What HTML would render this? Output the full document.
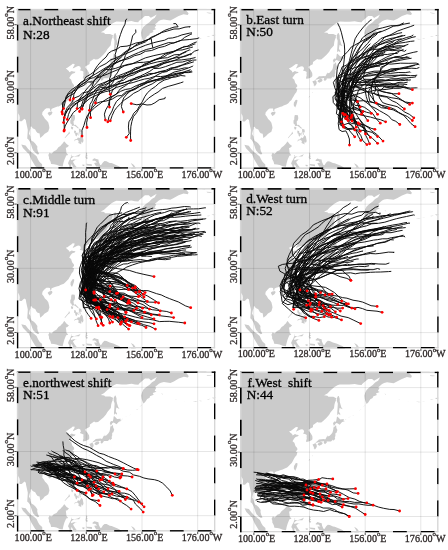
<!DOCTYPE html>
<html><head><meta charset="utf-8"><style>
html,body{margin:0;padding:0;background:#fff;}
svg{display:block;}
.lb{font-family:"Liberation Serif",serif;font-size:10.1px;fill:#2e2828;stroke:#2e2828;stroke-width:0.3px;}
.dg{font-size:6.8px;}
.tt{font-family:"Liberation Serif",serif;font-size:12.9px;fill:#000;stroke:#000;stroke-width:0.3px;}
</style></head><body>
<svg width="448" height="550" viewBox="0 0 448 550">
<rect width="448" height="550" fill="#fff"/>
<g transform="translate(16.7,8.7)"><svg x="0" y="0" width="198.7" height="160.1" viewBox="0 0 198.7 160.1" overflow="hidden"><rect width="198.7" height="160.1" fill="#fff"/><path d="M0,0 0,102.2 1.2,104.3 2.6,106.6 3,109.1 2.6,112.1 3.6,112.5 5,112.5 6.4,111.2 7.7,110 9.1,111.2 9.5,113.9 10.3,117.6 11.1,121.2 10.9,124.6 10.5,129.9 11.7,130.8 13.5,133.6 14.5,136.3 15.5,139.5 16.5,141.8 18.5,143.9 20.9,145.7 22.5,145.2 21.1,142.3 20.5,139.7 20.7,137.7 18.5,134.7 16.5,132.9 14.9,132.2 13.9,129.5 13.7,127.6 12.3,125.1 13.1,121.7 13.8,119.8 13.9,118 14.9,117.8 15.9,119.6 18.5,120.8 19.7,123 20.9,124.4 22.9,124.9 23.4,129 24.2,128.8 26.4,126.9 28,125 29.8,124 31.6,122.8 32.2,120.8 32.7,119.2 32.4,117.1 31.6,113.9 30.2,112 28.2,110 27,108 25.4,105.9 25.8,103.4 27,102 28.2,100.6 29.8,99.5 32,99.5 33.2,99.7 33.6,102.2 34.4,102.2 34.8,100.2 36.2,99.5 38.2,98.8 40.7,97.9 42.1,97.7 43.7,96.7 47.1,95.4 48.7,94 49.9,92.6 51.7,91 52.7,89.2 53.6,87.6 55,85.1 56.6,83.3 57.4,80.3 55.6,79.4 57.4,77.8 57.2,76.2 55.4,74.1 54.4,70.9 52.5,69.3 54.2,66.6 55.6,65 58,64.3 58.8,63.1 56.6,62.9 55,62.2 52.7,63.6 52.1,62.2 50.1,60.6 49.1,59.5 50.7,59 52.7,57.6 54.6,56.3 56,55.1 58,55.3 57.4,57.2 56.6,58.3 56,59.9 58.2,58.8 60.6,57.6 62.2,57.4 63.6,58.1 64.2,60.2 63,61.5 65.6,62.4 66.8,63 66.6,65.2 66.8,66.8 66.2,68.6 66.2,70 68.6,69.5 70.5,68.8 71.5,68.4 72.3,67.5 72.5,66.3 72.3,64 70.7,61.3 68.6,58.8 68.8,57.6 70.9,56.5 72.9,55.3 73.1,53.1 74.9,51.9 77.3,50.1 78.5,50.8 79.3,50.8 81.3,50.5 83.7,48.7 86.6,46 89.2,43 90.6,40.5 94,36.6 94.4,33.2 95,30.9 96,28.6 95.8,27.7 96.6,26.8 93.4,25.2 90.8,25.2 88.4,25.2 87.4,24 84.1,23.6 87.4,21.7 89.8,19.4 94.4,15.6 97.4,13.7 99.7,12.8 105.3,13 109.3,13 114.8,12.4 118.2,13.3 121.6,13.5 122.2,12.4 124.2,10.7 128.2,7.3 132.1,7.3 134.1,9.1 136.1,8 140.1,5.7 139.1,7.3 138.1,9.1 135.1,11 132.7,13.5 129.2,16 126.6,18.3 125.2,21 124.4,24 124.8,27.4 125.6,29.7 126.6,32.2 128.2,30.9 130.3,27.7 132.7,26.3 133.1,24.9 136.9,23.3 135.9,21.7 139.7,20.4 137.9,19.4 139.5,16.5 138.1,15.8 140.1,14.2 142.1,12.4 144.1,11.4 147,10.7 153.6,11.7 157,10.1 161.9,7.3 166.9,5.5 171.1,6.2 171.9,4.6 169.9,2.3 167.9,0.7 169.9,0.9 172.5,0ZM177.8,0 182,0.5 184.8,0.9 188,1.4 189.2,0.7 190,0ZM97.4,43.5 97.2,41.2 97.4,38.9 97.6,35.5 97.8,32 96.8,29 97,26.3 98,24.5 98.8,24.2 99.7,27 99.7,29.7 100.3,32 101.3,35.5 102.7,37.5 99.5,36.1 99,40 100.3,42.3 100.1,43.5 98.8,42.1ZM97.2,44.6 98.4,45.7 100.3,47.6 103.9,47.3 103.5,48.9 104.9,49.4 102.1,50.3 99.7,52.8 97.8,51.7 96.6,51.2 95.4,51.9 94.8,53.1 93.8,54 93.4,52.6 93,51.5 94.2,49.6 96,49.9 96.6,47.3 96.8,45.7ZM95.2,53.7 96.2,54 96.4,56 97.4,58.1 96.4,61.1 95.4,61.3 95.4,64 94.8,65.6 95.2,67 93.2,68.8 93,67.5 92.6,68.2 91,69.5 89.8,69.5 87.4,69.5 86.6,69.3 87,70.2 85,72.3 83.7,70.9 84.2,69.5 83.9,69.3 81.5,69.5 78.5,70.2 75.3,71 76.5,69.8 78.5,68.2 78.9,67.5 81.5,67.4 84.1,67 85,67.5 85.6,67 86.6,65.2 88,62.9 87.4,64.5 89.4,64 91.4,62 92.6,60.4 93.2,57.9 93.4,56 94,54.4 94.8,55.1ZM77.5,72.5 79.3,73.9 81.9,72.6 82.7,71.4 82.1,70.2 80.5,70 79.3,70.7 78.3,71.4ZM75.3,71.1 76.5,72.5 76.9,74.3 76.3,75.7 74.8,77.8 74.5,76.4 73.9,77.1 73.9,75.2 73.1,73.9 72.5,72.5 74.3,71.8ZM56.6,90.8 57.6,91.5 57.2,93.8 56.4,96.1 55.3,98.6 54.2,97.2 53.8,96.1 54,93.8 55,92.4 55.6,91.3ZM31,104.8 32.4,106.8 32.8,107 34.8,105.7 35.8,103.8 35.2,102.7 34.4,102.8 32.4,103.2 31.2,104.1ZM54.8,106.4 55.6,106.1 58,106.4 58.4,109.3 57.8,111.6 56.8,112.5 57,115 57.6,116.4 59,116 60,117.3 61.8,118.9 61.6,120.1 60.2,118.9 58.6,117.6 57.2,116.9 55.6,117.3 54.8,116.2 55.4,115.3 54.4,115.5 53.6,114.4 53.6,111.6 54.4,110.7 54.4,108.6ZM54.2,117.8 56.6,118.5 56,120.8 54.6,120.3ZM57.6,121.7 59.4,122.4 58.8,124.6 57.6,124.6 57.4,122.6ZM59.6,123.7 60.6,124.6 60,127.9 58.8,126.9 58.4,124.6ZM61.4,123 61.8,124.9 60.4,126.7 60.8,124.6ZM61.6,125.6 62.8,126.3 61.4,126.7ZM62.2,119.8 64.6,120.8 65,123.5 63.6,123 64,125.8 63.2,125.8 62.2,122.4ZM52.3,122.6 53.3,124.6 51.3,126.3 48.3,129.5 47.9,129.2 49.7,126.9 51.9,124.4ZM57.6,132.9 58,130.8 60.2,130.4 61.2,128.8 63,129.2 64.6,126.3 66,127.6 66.8,132 66,134.3 64.8,132.7 64.4,135.9 64,135.2 61.6,134.3 62,132.2 60.6,131.1 58.6,131.5ZM47.7,132.7 49.9,135.4 52.3,137 50.3,138.8 49.1,139.1 49.5,141.8 49.7,144.1 51.5,146.4 49.5,146.8 48.7,148.7 47.7,151 46.7,154.4 46.1,157.4 45.7,157.8 42.9,157.4 39.7,156 37.2,155.5 34.4,155.3 33.8,152.8 32.2,149.8 32.4,148.7 31.6,146.4 33,143.9 34.4,145 36.4,143.6 36.8,142.7 39.7,141.3 41.7,138.6 43.7,137.2 44.7,136.1 45.9,134.9 47.3,132.9ZM4.6,135.9 8.9,136.8 11.3,140 14.7,143.6 16.9,145 19.9,147.5 21.5,151 22.9,153.2 25.4,155.5 25.6,160.6 22.3,160.6 18.5,157.4 14.6,150.8 11.9,144.5 11.5,144.8 6.2,139.3ZM64,145 62.4,147.7 59.6,147.7 56.6,147.5 54.8,147.5 54,146.6 55.2,145.9 54,148.7 53.3,150.5 52.3,152.1 51.3,154.6 52.5,156.7 52.9,159 52.5,160.6 54.4,160.6 54.4,156.7 54.8,155.3 56.2,157.8 56.6,159.4 59.2,160.6 59.8,158.3 58,156 56.2,153 58.6,151 60.6,150.7 57,150.7 54.2,151.6 54.4,149.8 56.6,148 60.6,146.8 62.8,145.9ZM69.5,143.6 70.7,145.2 69.9,146.1 71.1,147.3 69.5,148 71.3,149.4 69.9,150.5 68.8,148.7 69.1,146.4ZM69.5,155.1 75.1,155.5 75.1,157.4 70.5,156.7ZM65.6,155.8 68,156 67.4,157.6 65.8,157.1ZM75.5,151.4 77.5,149.6 79.5,150.3 81.7,150.7 82.1,153.2 83.5,156.2 84.4,156.4 86.2,153.7 87.8,152.3 89.8,152.6 93,154.2 94.8,154.4 97.2,155.3 100.3,156.7 102.3,157.6 104.3,159 105.1,160.6 84.4,160.6 81.5,157.8 79.5,157.8 77.9,155.3 77.5,154.2 79.5,153.9 80.5,154.2 78.5,152.1 76.1,152.1ZM114.3,154.4 117.2,156.2 119.2,159.2 118.6,160.6 116.8,158.5 114.8,155.5ZM109.7,160.6 112.3,160.1 113.7,160.6 116.2,158.3 117.8,158.5 117.8,160.6ZM68.8,89 70.1,87.4 69.5,87.1 68.9,88.1ZM71.9,84.4 72.9,83.5 72.3,83.5ZM144.5,22.2 146.2,23.6 145.2,22.2ZM189.8,3.7 193.7,4.1 195.3,4.6 192.7,4.8 190.4,4.3ZM104.3,48.7 106.5,47.1 105.3,47.6ZM107.1,46.2 111.1,44.6 109.3,45.3ZM112.3,43.9 114.3,43 113.3,43.7ZM116.2,41.6 117.8,40.7 117,41.2ZM119.2,38.9 121.8,37.3 120.2,38ZM122.4,35.9 126.2,32.5 124.4,34.3ZM158,27.7 160,27.7 159.4,27.9ZM167.5,30 168.5,29.5 168.1,30ZM175.8,30 180.8,30.2 178.8,30.6ZM181.8,29.3 185.2,29.7 183.8,30ZM189.8,27.9 193.7,27.4 191.7,28.1ZM194.7,26.3 199.7,26.1 196.7,27.2Z" fill="#cbcbcb"/><path d="M13.9,0V160.1M69.5,0V160.1M125.2,0V160.1M180.8,0V160.1M0,16H198.7M0,80.1H198.7M0,144.1H198.7" stroke="#000" stroke-opacity="0.1" stroke-width="1" fill="none"/><path d="M56.7,90 57.2,85.5 60.3,80.1 62,76.5 66.4,72.9 69.1,68.4 73.9,65.6 78.7,62.1 83,58 89.4,54.8 93.9,51.2 98.8,49.5 103.8,47 109.8,44.8 116.4,41.9 121.8,39.4 129,36.5 136.6,34.1 141.3,32.9 147.9,31.5 151.6,29.6 156,29.2 160.8,27.9 165.2,26.2 172.6,24.5 174.9,24.2M46.9,99.9 48.3,94 49.1,88.5 51.9,83.9 55.8,80.3 59.9,77.6 64.1,73.6 69.8,70.7 74.4,67.8 78.5,65.5 83.6,62.4 89.3,58.8 95,55.5 102.1,53.1 108.7,49.8 115.3,46.7 121.8,43.9 129.6,40.8 135.7,39.4 143.4,36.7 151.8,33.9 157,34.3 160.5,33 164.9,31.5 173.1,30.8 180.3,29.9 182.1,29.2M45.7,105.3 46,100.5 46.5,94.8 49.4,90 51.2,85.8 56.8,82.5 62.1,78.9 67.1,76.7 71.1,73.3 75.8,73.2 80.4,69.5 84.6,67.6 91,65.3 95.4,63.3 101.3,60.9 107.5,57.2 115,55.3 122.2,52.1 128.6,49.2 137.2,46.9 142.3,45.8 147.2,44.8 151.7,43.7 156.9,42.9 161.3,41.4 165.3,41.3 173.9,38.9 175.8,38.4M47.6,109 48.5,103.3 50.7,98.6 55,94 57.2,89.5 62.4,87.4 65.9,84.3 71.5,82.9 76.8,79.6 80.8,76.4 85.8,74.5 91.7,72.1 97,71.4 104.4,68.1 109.4,66.8 117,63.7 123.3,61.5 130.3,59.2 138.6,57.5 145.9,55.1 151.6,53.1 158.6,51.5 164.8,51.2 172.5,50.2 177.3,49.2 178.5,48.8M50.6,110.7 51.8,105.7 54.3,99.9 57.5,95.5 61.8,93.3 66.3,90.9 72.5,87.6 77.5,85 81.1,83.8 87.2,82 93.5,79.8 99.8,76.1 106.3,74.4 112.5,72.1 120.6,70.3 128.8,66.6 132.5,64.8 137.9,64.7 143,62.9 149.1,61.6 154.3,59.2 159.8,58.8 165.8,56.5 170,55.3 176.8,53.2 176.7,53.3M46.9,113.9 47.4,108.7 48.5,105.1 51.4,100.3 54.5,96.3 58.5,93 63.3,90.4 68.7,86.9 73,84.8 78.7,82.2 83.5,81 89.1,79.3 96,77.3 101.8,75 108.2,73.7 114.9,70.7 121.7,68.5 129,67.4 136.9,64.8 144,63 150.1,62.4 155.5,60.4 161.7,60.7 167.8,59.2 170.8,59.3M47.6,121.3 47.5,115.8 47.1,111.1 48.7,105.8 51,101.2 54.6,99.1 59.8,94.9 62.6,91.6 67.9,88.2 71.8,82.6 75.4,77.9 77.6,71.8 81.5,67.1 84.8,63.2 88.6,60.6 92.5,61.1 99.1,59.6 103.9,57.8 111.4,55.6 116.3,54.9 121.1,53.9 126.9,53.6 132.9,52.8 139,50.6 145.8,49.5 150.9,49 157.5,46.1 162.9,45.8 168.3,43.1 173,41.2 173.3,41.3M60.4,99.9 60.7,95.2 62.6,90.4 66.2,85.8 67.9,82.9 71.6,78.5 75.8,74.2 79.7,69.6 84.3,66.1 86.5,63.5 90.4,59.9 94.2,55 97.3,52.2 102,49.1 106.3,44.8 110.6,41.6 115.7,38.9 120.6,35.3 125.6,33.4 131.6,30.9 135.9,28.6 139.7,26.6 145.1,23.8 151,22.2 157.3,20.3 162.4,20.2 168.3,18.5 173.5,17.9 173.1,18.4M62.9,102.8 64.6,97.5 66.5,91.7 70.3,87.5 73,85.1 78,82.1 83.1,76.7 86.9,75.2 91.3,72.3 96.3,69.3 101.4,67.1 106.4,65.2 113.3,62.4 119,59 126.4,57.5 132.5,55.3 140.8,53.2 146.2,52.3 151,51.1 155.1,49.9 160,49 168.4,47.8 174.7,45.1 174,46.3M65.3,100.3 66.9,95.6 69.7,91 71,85.6 74.5,81.6 77.6,76.7 81.7,72.2 85.4,66.7 90.3,63.1 93.3,58.8 96.9,56 100.5,52 105.3,47.8 108.6,43.8 113,41 117.7,37.8 124.1,35 128.6,33.3 133.7,28.9 138.5,26.9 143.1,24.6 147.7,21.8 152.8,19.9 157.3,18.4 161.4,18.1 159.2,14.9 157.1,14.9M72.7,101.6 73.3,95.6 75.4,92.4 77.8,85.8 80.2,81.7 83.8,78.7 90.4,78.5 94.2,76.3 96.8,72.9 97.9,67.6 100.6,64.2 103.1,59.6 104.8,55.4 107,52.2 108.7,46.7 111.9,41.3 113.7,36.9 114.7,32.4 115.9,27.2 119.2,23.6 119,21.2M78.8,94.2 79.9,89.8 82.2,84.8 85.3,80.3 89.2,77.2 92.1,74.2 96.7,71.8 101.7,68.1 105.9,67.2 110.7,64.2 116,61.7 122.2,59.4 127.3,56.5 134.8,52.7 143.2,49.5 147.4,48.1 150.7,45.8 156.4,43.5 159.8,41.3 165.5,38.9 170.8,37.4 177,34.3 179.7,33.3M73.9,109 73.7,103.6 74.9,98.7 76.7,93.7 79.3,89.1 83,85.4 87.3,81.5 93.1,77.6 98.1,75.7 101.3,73 106.8,71.5 111.4,67.8 116.6,66.2 122.3,63 127.8,61 134.2,58.9 140.4,58.4 147.4,54.7 152.8,53.3 158.2,51.8 163.6,49 169,46.8 174.8,44.9 177.8,42.5 181.5,41.3M70.3,118.8 69.9,114.2 71,108.9 72.8,102.7 76.2,98.5 79.5,94.7 83.9,93.1 89,92.5 95.4,90.5 100.4,87.3 105,86.8 109.4,83 113.4,81.9 119.1,80 123.1,77.5 127.2,75.3 132.4,73.1 137.8,71.3 143.5,69.9 150.2,67 157.4,63.4 165,61.6 171.1,59.5 176,57.5 176.2,57.3M65.3,127.4 65.3,121.5 67.2,116.8 68.7,111.6 70.5,107.1 73.1,103.7 77.9,99.1 81.6,96.3 86.3,92.7 91.5,89.4 97.6,86.7 103.7,82.7 108.6,80.8 114,79.9 119.8,76.8 126.4,74.9 131.6,72.8 138.9,71.2 144.8,69.9 151,68.8 158.6,68.4 164.1,66.8 168.3,67.3M93.6,85.6 92.4,81.4 92.6,76.8 92.8,70.4 94.1,66.6 94.6,60.8 96.6,56 98.7,50.7 98.5,46 100.1,39.9 101.4,35.7 102.3,30.5 103.8,25.7 105.8,20.2 108.3,15.5 109,11.2 110.1,10.4M92.8,98.4 92.9,93 93.4,88.5 95.6,82.1 98.1,79.5 101.4,75.2 103.7,72.3 108.7,67.4 112.8,65 117.3,61.5 123,59 127.2,55.5 133.5,53.3 138.5,51 143.6,48.8 148.4,45.4 153.8,43.6 158.7,42 162.7,40.1 167.8,37.7 171.9,37.9 177.5,35.4 178.3,35.3M88.7,111.4 87.7,105.5 89,101.3 91.6,96.8 92.7,92 95.6,87.8 99.5,85.5 103.6,80.2 108.9,76.9 112.9,73.8 119,69 123.4,67.5 127.7,65.4 133.1,62.6 137,59.8 143.1,59.6 148.8,57.9 154.6,55.8 160.2,53.6 165.8,53.3 170.5,51.9 174,51.3M91.1,113.1 92.3,107.9 95.4,102.3 97,97.9 99.7,92.8 103.6,89.2 107.4,86 111.3,83.2 117.7,81 121.4,78.5 126.6,76.2 130.4,74.2 135.5,72.7 141,70.8 144.4,69.4 150.7,67.3 155.5,66.8 161.2,65 166,63.9 173.5,63 174.9,62.3M93.6,112.1 95.4,107 97.6,102.1 100,98.9 104,94.8 107.6,91.4 113.2,87.7 117,84.6 121.7,82.3 125.5,79.7 130.4,77.4 135.5,75.2 140.3,72 146,70.8 151.2,67.8 156.9,66.5 162.5,64.7 167.5,63.1 173.7,61.1 173.3,61.3M106.6,103.3 104.7,98 105.7,92.7 107,89.3 110.1,85.5 113.6,82.4 118.9,79.2 122.8,75.7 127.6,73.9 131.4,71.8 136.9,69 140.3,66.3 145.7,63.7 150,62.9 154.1,60 159.3,58.2 165.6,56.2 171.3,53.7 175.6,51.5 179.3,51.3M114.5,94.9 120.2,96.1 125.2,95.2 130.3,96.3 134.5,96 138.2,94.1 142.5,91 148.2,89.9 148.5,88.6M109.6,128.6 112.5,125 111.7,118.4 112.2,113.2 115.4,108.1 117,104.6 120.6,101.1 122.7,97.4 125.5,93.2 128.1,87.9 130.8,84 134.6,80.6 139,77.6 142.2,74.6 147.4,71.4 152.5,70 157.4,67.7 161.9,66.4 167.4,64.1 168.3,63.3M114,131.8 113.8,127.2 113.9,122.4 114.2,117.6 115.2,112.7 116.7,108 119.9,104 122,100.4 125.4,95.8 129.9,91.5 131.9,89.4 137.8,85.4 141.4,83.3 145.8,79.7 151.5,77.7 157.3,76.1 163.7,74.2 166.3,73.3M53.3,91.3 54.7,85.7 56.7,81.6 60.1,78.5 64.1,76.4 69,73.8 71.9,70.6 76.2,66.8 78,61.2 81,56.7 84.7,52.5 89.4,48.3 91.8,44.5 94.8,42.5 100.2,40.5 103.7,38 110.3,37.4 114.6,36.1 119,34.4 124.6,33.3 129.3,31.5 134.5,29.9 135.2,34.7 136.1,39 136.2,39.3M45.3,103.3 46,98.9 45.6,94.4 49.9,89.3 52.9,87 56.7,85.2 60.5,80.5 64.2,76.4 68.3,73.4 73.4,70 76.9,68.9 82.1,66 85.8,62.7 89.6,59.7 94.6,57.1 98.2,55.1 102.5,52.2 107.5,51.2 112.8,49.6 117.8,47 123.4,45.6 128.7,42.6 134.9,41.8 142.1,38.9 147.8,37.7 153.9,35 158.4,33.8 164.7,31.5 167.7,28.8 173.5,25.9 174.9,25.3M47.3,122.3 48.4,117.3 50.6,113.3 54,108 56.6,103.8 59.9,101.1 64.6,97.7 69.3,92.9 73.6,89.4 78.3,87.2 83.2,84.8 88.5,83 94.1,81.8 99.7,78.8 103.4,77.6 110.6,75.1 116.5,73.8 122,72 127.6,70.4 132.6,69.6 138.7,67.5 143.9,67.9 149.1,67.2 153.7,65.9 159.8,64.6 165.7,63.9 171.8,63.9 175.3,63.3M65.3,100.3 67,95.5 67.9,91.5 71.5,88.1 76.7,83.6 79,80.2 83.5,77.7 88.1,76.1 93.7,73.4 97.3,71 102.5,69.9 108.5,67.7 113.3,65.5 118.7,63.9 123.7,60.9 128.7,60.3 133,58.9 138.4,57.1 142.5,55.4 149.1,52.9 154.2,50.4 161,47.5 165.9,44.8 169.3,43.3" fill="none" stroke="#0a0a0a" stroke-width="0.95" stroke-linejoin="round" stroke-linecap="round"/><g fill="#f00"><circle cx="56.7" cy="90" r="1.4"/><circle cx="46.9" cy="99.9" r="1.4"/><circle cx="45.7" cy="105.3" r="1.4"/><circle cx="47.6" cy="109" r="1.4"/><circle cx="50.6" cy="110.7" r="1.4"/><circle cx="46.9" cy="113.9" r="1.4"/><circle cx="47.6" cy="121.3" r="1.4"/><circle cx="60.4" cy="99.9" r="1.4"/><circle cx="62.9" cy="102.8" r="1.4"/><circle cx="65.3" cy="100.3" r="1.4"/><circle cx="72.7" cy="101.6" r="1.4"/><circle cx="78.8" cy="94.2" r="1.4"/><circle cx="73.9" cy="109" r="1.4"/><circle cx="70.3" cy="118.8" r="1.4"/><circle cx="65.3" cy="127.4" r="1.4"/><circle cx="93.6" cy="85.6" r="1.4"/><circle cx="92.8" cy="98.4" r="1.4"/><circle cx="88.7" cy="111.4" r="1.4"/><circle cx="91.1" cy="113.1" r="1.4"/><circle cx="93.6" cy="112.1" r="1.4"/><circle cx="106.6" cy="103.3" r="1.4"/><circle cx="114.5" cy="94.9" r="1.4"/><circle cx="109.6" cy="128.6" r="1.4"/><circle cx="114" cy="131.8" r="1.4"/><circle cx="53.3" cy="91.3" r="1.4"/><circle cx="45.3" cy="103.3" r="1.4"/><circle cx="47.3" cy="122.3" r="1.4"/><circle cx="65.3" cy="100.3" r="1.4"/></g><text transform="translate(6.3,15.8) scale(1.03,1)" class="tt" xml:space="preserve">a.Northeast shift</text><text transform="translate(6.3,29.9) scale(1.03,1)" class="tt">N:28</text><rect x="0" y="0" width="13.9" height="1.6" fill="#000"/><rect x="13.9" y="0" width="13.9" height="1.6" fill="#d6d6d6"/><rect x="27.8" y="0" width="13.9" height="1.6" fill="#000"/><rect x="41.7" y="0" width="13.9" height="1.6" fill="#d6d6d6"/><rect x="55.6" y="0" width="13.9" height="1.6" fill="#000"/><rect x="69.5" y="0" width="13.9" height="1.6" fill="#d6d6d6"/><rect x="83.5" y="0" width="13.9" height="1.6" fill="#000"/><rect x="97.4" y="0" width="13.9" height="1.6" fill="#d6d6d6"/><rect x="111.3" y="0" width="13.9" height="1.6" fill="#000"/><rect x="125.2" y="0" width="13.9" height="1.6" fill="#d6d6d6"/><rect x="139.1" y="0" width="13.9" height="1.6" fill="#000"/><rect x="153" y="0" width="13.9" height="1.6" fill="#d6d6d6"/><rect x="166.9" y="0" width="13.9" height="1.6" fill="#000"/><rect x="180.8" y="0" width="13.9" height="1.6" fill="#d6d6d6"/><rect x="194.7" y="0" width="4" height="1.6" fill="#000"/><rect x="0" y="158.5" width="13.9" height="1.6" fill="#d6d6d6"/><rect x="13.9" y="158.5" width="13.9" height="1.6" fill="#000"/><rect x="27.8" y="158.5" width="13.9" height="1.6" fill="#d6d6d6"/><rect x="41.7" y="158.5" width="13.9" height="1.6" fill="#000"/><rect x="55.6" y="158.5" width="13.9" height="1.6" fill="#d6d6d6"/><rect x="69.5" y="158.5" width="13.9" height="1.6" fill="#000"/><rect x="83.5" y="158.5" width="13.9" height="1.6" fill="#d6d6d6"/><rect x="97.4" y="158.5" width="13.9" height="1.6" fill="#000"/><rect x="111.3" y="158.5" width="13.9" height="1.6" fill="#d6d6d6"/><rect x="125.2" y="158.5" width="13.9" height="1.6" fill="#000"/><rect x="139.1" y="158.5" width="13.9" height="1.6" fill="#d6d6d6"/><rect x="153" y="158.5" width="13.9" height="1.6" fill="#000"/><rect x="166.9" y="158.5" width="13.9" height="1.6" fill="#d6d6d6"/><rect x="180.8" y="158.5" width="13.9" height="1.6" fill="#000"/><rect x="194.7" y="158.5" width="4" height="1.6" fill="#d6d6d6"/><rect x="0" y="0" width="1.6" height="16" fill="#d6d6d6"/><rect x="197.1" y="0" width="1.6" height="16" fill="#000"/><rect x="0" y="16" width="1.6" height="16" fill="#000"/><rect x="197.1" y="16" width="1.6" height="16" fill="#d6d6d6"/><rect x="0" y="32" width="1.6" height="16" fill="#d6d6d6"/><rect x="197.1" y="32" width="1.6" height="16" fill="#000"/><rect x="0" y="48" width="1.6" height="16" fill="#000"/><rect x="197.1" y="48" width="1.6" height="16" fill="#d6d6d6"/><rect x="0" y="64" width="1.6" height="16" fill="#d6d6d6"/><rect x="197.1" y="64" width="1.6" height="16" fill="#000"/><rect x="0" y="80.1" width="1.6" height="16" fill="#000"/><rect x="197.1" y="80.1" width="1.6" height="16" fill="#d6d6d6"/><rect x="0" y="96.1" width="1.6" height="16" fill="#d6d6d6"/><rect x="197.1" y="96.1" width="1.6" height="16" fill="#000"/><rect x="0" y="112.1" width="1.6" height="16" fill="#000"/><rect x="197.1" y="112.1" width="1.6" height="16" fill="#d6d6d6"/><rect x="0" y="128.1" width="1.6" height="16" fill="#d6d6d6"/><rect x="197.1" y="128.1" width="1.6" height="16" fill="#000"/><rect x="0" y="144.1" width="1.6" height="16" fill="#000"/><rect x="197.1" y="144.1" width="1.6" height="16" fill="#d6d6d6"/></svg><line x1="13.9" y1="160.1" x2="13.9" y2="162.6" stroke="#222" stroke-width="0.8"/><text x="-2.1" y="169" class="lb">100.00<tspan class="dg" dy="-5.4">o</tspan><tspan dy="5.4">E</tspan></text><line x1="69.5" y1="160.1" x2="69.5" y2="162.6" stroke="#222" stroke-width="0.8"/><text x="53.5" y="169" class="lb">128.00<tspan class="dg" dy="-5.4">o</tspan><tspan dy="5.4">E</tspan></text><line x1="125.2" y1="160.1" x2="125.2" y2="162.6" stroke="#222" stroke-width="0.8"/><text x="109.2" y="169" class="lb">156.00<tspan class="dg" dy="-5.4">o</tspan><tspan dy="5.4">E</tspan></text><line x1="180.8" y1="160.1" x2="180.8" y2="162.6" stroke="#222" stroke-width="0.8"/><text x="164.8" y="169" class="lb">176.00<tspan class="dg" dy="-5.4">o</tspan><tspan dy="5.4">W</tspan></text><line x1="-2.3" y1="16" x2="0" y2="16" stroke="#222" stroke-width="0.8"/><text transform="translate(-3.2,14) rotate(-90)" class="lb" text-anchor="middle">58.00<tspan class="dg" dy="-5.4">o</tspan><tspan dy="5.4">N</tspan></text><line x1="-2.3" y1="80.1" x2="0" y2="80.1" stroke="#222" stroke-width="0.8"/><text transform="translate(-3.2,78.1) rotate(-90)" class="lb" text-anchor="middle">30.00<tspan class="dg" dy="-5.4">o</tspan><tspan dy="5.4">N</tspan></text><line x1="-2.3" y1="144.1" x2="0" y2="144.1" stroke="#222" stroke-width="0.8"/><text transform="translate(-3.2,142.1) rotate(-90)" class="lb" text-anchor="middle">2.00<tspan class="dg" dy="-5.4">o</tspan><tspan dy="5.4">N</tspan></text></g><g transform="translate(239.8,8.8)"><svg x="0" y="0" width="199" height="160.2" viewBox="0 0 199 160.2" overflow="hidden"><rect width="199" height="160.2" fill="#fff"/><path d="M0,0 0,102.3 1.2,104.4 2.6,106.6 3,109.2 2.6,112.1 3.6,112.6 5,112.6 6.4,111.2 7.8,110.1 9.2,111.2 9.6,114 10.3,117.6 11.1,121.3 10.9,124.7 10.5,130 11.7,130.9 13.5,133.7 14.5,136.4 15.5,139.6 16.5,141.9 18.5,144 20.9,145.8 22.5,145.3 21.1,142.3 20.5,139.8 20.7,137.8 18.5,134.8 16.5,133 14.9,132.3 13.9,129.5 13.7,127.7 12.3,125.2 13.1,121.8 13.8,119.9 13.9,118.1 14.9,117.9 15.9,119.7 18.5,120.8 19.7,123.1 20.9,124.5 22.9,125 23.5,129.1 24.3,128.8 26.5,127 28.1,125.1 29.9,124 31.6,122.9 32.2,120.8 32.7,119.2 32.4,117.2 31.6,114 30.2,112 28.3,110.1 27.1,108 25.5,106 25.9,103.4 27.1,102.1 28.3,100.7 29.9,99.6 32,99.6 33.2,99.8 33.6,102.3 34.4,102.3 34.8,100.2 36.2,99.6 38.2,98.9 40.8,98 42.2,97.7 43.8,96.8 47.2,95.4 48.8,94.1 49.9,92.7 51.7,91.1 52.7,89.3 53.7,87.7 55.1,85.1 56.7,83.3 57.5,80.3 55.7,79.4 57.5,77.8 57.3,76.2 55.5,74.1 54.5,70.9 52.5,69.3 54.3,66.6 55.7,65 58.1,64.3 58.9,63.2 56.7,62.9 55.1,62.2 52.7,63.6 52.1,62.2 50.1,60.6 49.2,59.5 50.7,59 52.7,57.7 54.7,56.3 56.1,55.2 58.1,55.4 57.5,57.2 56.7,58.4 56.1,60 58.3,58.8 60.7,57.7 62.3,57.4 63.7,58.1 64.3,60.2 63.1,61.6 65.7,62.5 66.9,63.1 66.7,65.2 66.9,66.8 66.3,68.7 66.3,70 68.7,69.6 70.6,68.9 71.6,68.4 72.4,67.5 72.6,66.4 72.4,64.1 70.8,61.3 68.7,58.8 68.9,57.7 71,56.5 73,55.4 73.2,53.1 75,52 77.4,50.1 78.6,50.8 79.4,50.8 81.4,50.6 83.8,48.7 86.8,46 89.4,43 90.7,40.5 94.1,36.6 94.5,33.2 95.1,30.9 96.1,28.6 95.9,27.7 96.7,26.8 93.5,25.2 90.9,25.2 88.6,25.2 87.6,24 84.2,23.6 87.6,21.7 89.9,19.5 94.5,15.6 97.5,13.7 99.9,12.8 105.5,13 109.5,13 115,12.4 118.4,13.3 121.8,13.5 122.4,12.4 124.4,10.8 128.4,7.3 132.3,7.3 134.3,9.2 136.3,8 140.3,5.7 139.3,7.3 138.3,9.2 135.3,11 132.9,13.5 129.3,16 126.8,18.3 125.4,21.1 124.6,24 125,27.5 125.8,29.8 126.8,32.3 128.4,30.9 130.5,27.7 132.9,26.3 133.3,24.9 137.1,23.3 136.1,21.7 139.9,20.4 138.1,19.5 139.7,16.5 138.3,15.8 140.3,14.2 142.3,12.4 144.3,11.4 147.3,10.8 153.8,11.7 157.2,10.1 162.2,7.3 167.2,5.5 171.3,6.2 172.1,4.6 170.1,2.3 168.2,0.7 170.1,0.9 172.7,0ZM178.1,0 182.3,0.5 185.1,0.9 188.3,1.4 189.4,0.7 190.2,0ZM97.5,43.5 97.3,41.2 97.5,38.9 97.7,35.5 97.9,32 96.9,29.1 97.1,26.3 98.1,24.5 98.9,24.3 99.9,27 99.9,29.8 100.5,32 101.5,35.5 102.9,37.5 99.7,36.2 99.1,40 100.5,42.3 100.3,43.5 98.9,42.1ZM97.3,44.6 98.5,45.8 100.5,47.6 104.1,47.4 103.7,49 105.1,49.4 102.3,50.3 99.9,52.9 97.9,51.7 96.7,51.3 95.5,52 94.9,53.1 93.9,54 93.5,52.6 93.1,51.5 94.3,49.7 96.1,49.9 96.7,47.4 96.9,45.8ZM95.3,53.8 96.3,54 96.5,56.1 97.5,58.1 96.5,61.1 95.5,61.3 95.5,64.1 94.9,65.7 95.3,67.1 93.3,68.9 93.1,67.5 92.7,68.2 91.1,69.6 89.9,69.6 87.6,69.6 86.8,69.3 87.2,70.3 85.2,72.3 83.8,70.9 84.4,69.6 84,69.3 81.6,69.6 78.6,70.3 75.4,71.1 76.6,69.8 78.6,68.2 79,67.5 81.6,67.4 84.2,67.1 85.2,67.5 85.8,67.1 86.8,65.2 88.2,62.9 87.6,64.5 89.5,64.1 91.5,62 92.7,60.4 93.3,57.9 93.5,56.1 94.1,54.5 94.9,55.2ZM77.6,72.5 79.4,73.9 82,72.7 82.8,71.4 82.2,70.3 80.6,70 79.4,70.7 78.4,71.4ZM75.4,71.2 76.6,72.5 77,74.4 76.4,75.8 74.9,77.8 74.6,76.4 74,77.1 74,75.3 73.2,73.9 72.6,72.5 74.4,71.9ZM56.7,90.9 57.7,91.5 57.3,93.8 56.5,96.1 55.4,98.6 54.3,97.3 53.9,96.1 54.1,93.8 55.1,92.5 55.7,91.3ZM31,104.8 32.4,106.9 32.8,107.1 34.8,105.7 35.8,103.9 35.2,102.8 34.4,102.9 32.4,103.2 31.2,104.1ZM54.9,106.4 55.7,106.2 58.1,106.4 58.5,109.4 57.9,111.7 56.9,112.6 57.1,115.1 57.7,116.5 59.1,116 60.1,117.4 61.9,119 61.7,120.1 60.3,119 58.7,117.6 57.3,116.9 55.7,117.4 54.9,116.3 55.5,115.3 54.5,115.6 53.7,114.4 53.7,111.7 54.5,110.8 54.5,108.7ZM54.3,117.9 56.7,118.5 56.1,120.8 54.7,120.4ZM57.7,121.8 59.5,122.4 58.9,124.7 57.7,124.7 57.5,122.7ZM59.7,123.8 60.7,124.7 60.1,127.9 58.9,127 58.5,124.7ZM61.5,123.1 61.9,125 60.5,126.8 60.9,124.7ZM61.7,125.6 62.9,126.3 61.5,126.8ZM62.3,119.9 64.7,120.8 65.1,123.6 63.7,123.1 64.1,125.9 63.3,125.9 62.3,122.4ZM52.3,122.7 53.3,124.7 51.3,126.3 48.4,129.5 48,129.3 49.8,127 51.9,124.5ZM57.7,133 58.1,130.9 60.3,130.4 61.3,128.8 63.1,129.3 64.7,126.3 66.1,127.7 66.9,132.1 66.1,134.3 64.9,132.7 64.5,135.9 64.1,135.3 61.7,134.3 62.1,132.3 60.7,131.1 58.7,131.6ZM47.8,132.7 49.9,135.5 52.3,137.1 50.3,138.9 49.2,139.1 49.6,141.9 49.8,144.2 51.5,146.5 49.6,146.9 48.8,148.8 47.8,151 46.8,154.5 46.2,157.5 45.8,157.9 43,157.5 39.8,156.1 37.2,155.6 34.4,155.4 33.8,152.9 32.2,149.9 32.4,148.8 31.6,146.5 33,144 34.4,145.1 36.4,143.7 36.8,142.8 39.8,141.4 41.8,138.7 43.8,137.3 44.8,136.2 46,135 47.4,133ZM4.6,135.9 9,136.9 11.3,140.1 14.7,143.7 16.9,145.1 19.9,147.6 21.5,151 22.9,153.3 25.5,155.6 25.7,160.7 22.3,160.7 18.5,157.5 14.6,150.9 11.9,144.6 11.5,144.9 6.2,139.4ZM64.1,145.1 62.5,147.8 59.7,147.8 56.7,147.6 54.9,147.6 54.1,146.7 55.3,146 54.1,148.8 53.3,150.6 52.3,152.2 51.3,154.7 52.5,156.8 52.9,159.1 52.5,160.7 54.5,160.7 54.5,156.8 54.9,155.4 56.3,157.9 56.7,159.5 59.3,160.7 59.9,158.4 58.1,156.1 56.3,153.1 58.7,151 60.7,150.8 57.1,150.8 54.3,151.7 54.5,149.9 56.7,148.1 60.7,146.9 62.9,146ZM69.7,143.7 70.8,145.3 70,146.2 71.2,147.4 69.7,148.1 71.4,149.4 70,150.6 68.9,148.8 69.3,146.5ZM69.7,155.2 75.2,155.6 75.2,157.5 70.6,156.8ZM65.7,155.9 68.1,156.1 67.5,157.7 65.9,157.2ZM75.6,151.5 77.6,149.7 79.6,150.4 81.8,150.8 82.2,153.3 83.6,156.3 84.6,156.5 86.4,153.8 88,152.4 89.9,152.6 93.1,154.2 94.9,154.5 97.3,155.4 100.5,156.8 102.5,157.7 104.5,159.1 105.3,160.7 84.6,160.7 81.6,157.9 79.6,157.9 78,155.4 77.6,154.2 79.6,154 80.6,154.2 78.6,152.2 76.2,152.2ZM114.4,154.5 117.4,156.3 119.4,159.3 118.8,160.7 117,158.6 115,155.6ZM109.8,160.7 112.4,160.2 113.8,160.7 116.4,158.4 118,158.6 118,160.7ZM68.9,89 70.2,87.4 69.7,87.2 69.1,88.1ZM72,84.4 73,83.5 72.4,83.5ZM144.7,22.2 146.5,23.6 145.5,22.2ZM190,3.7 194,4.1 195.6,4.6 193,4.8 190.6,4.3ZM104.5,48.7 106.7,47.1 105.5,47.6ZM107.3,46.2 111.2,44.6 109.5,45.3ZM112.4,43.9 114.4,43 113.4,43.7ZM116.4,41.7 118,40.7 117.2,41.2ZM119.4,38.9 122,37.3 120.4,38ZM122.6,35.9 126.4,32.5 124.6,34.3ZM158.2,27.7 160.2,27.7 159.6,27.9ZM167.8,30 168.8,29.5 168.4,30ZM176.1,30 181.1,30.2 179.1,30.7ZM182.1,29.3 185.5,29.8 184.1,30ZM190,27.9 194,27.5 192,28.1ZM195,26.3 200,26.1 197,27.2Z" fill="#cbcbcb"/><path d="M13.9,0V160.2M69.7,0V160.2M125.4,0V160.2M181.1,0V160.2M0,16H199M0,80.1H199M0,144.2H199" stroke="#000" stroke-opacity="0.1" stroke-width="1" fill="none"/><path d="M172.6,80.9 166.6,79.5 161.5,77.8 157.3,76.5 150.1,74.2 144.7,74.5 138.6,73.6 132.1,73.9 127.3,73.9 123.4,73.5 118.2,73.7 113,73.6 111.2,70.7 114.1,65.6 116.8,62.1 119.4,59.4 124.1,57.8 129.8,58.4 135.4,57.7 140.7,55.8 145.6,54.4 147.6,53.1M159.2,84.9 153.7,85 149.1,84.1 143.7,83.1 138.1,81.4 133.4,78.3 129.6,75.9 126.3,73 123.2,68.8 125.3,62.2 127.3,57.9 129.9,52.1 131.5,47.4 134.2,44.3 137.5,41.9 142.8,39.5 146.8,37.7 153.7,35.2 159.4,34.4 165.7,33.5 170.6,32.6 174.2,32.2M169.9,95.6 165.4,93.6 161.4,90.7 157.3,88.1 151.8,84.8 146.9,83.8 141.4,82.5 137.5,78.9 135.1,74.3 134.2,70.6 138.1,67.4 140.3,63 141.2,58.4 147.1,55.9 150.8,52.7 151.2,53.6M172.6,94.3 165.7,93.2 158.4,90 152.1,89 145.2,87.4 139.5,86.3 135.4,85 130.1,84 124.2,81.9 118.9,79.7 115.6,77.3 111.9,73.5 114.4,73.2 120.2,73 125,70.5 131.4,70.6 137.2,71.2 144.5,71.5 151.1,71.7 155.1,71.3 160.5,71.9 165.7,71.6 170.7,71.1 170.3,71.5M136.5,94.3 133.7,91.2 130,85.7 124.6,79.9 120.8,79.1 117.1,78.3 111.4,78.3 106.5,77.7 102.5,75.6 102.7,70.8 107.1,69.9 112.3,68.9 116.5,66.8 122.7,64.4 128.1,63.7 134.3,62.4 139.8,62.3 144.1,62.1 149.4,61.4 156.5,60.6 163.8,59.8 172,59.4 176.7,59.7 179.2,58.8M149.3,99.6 144.3,98.4 139.9,95.4 136.1,94.2 130.9,93.4 123.5,91.9 119.2,92.2 113.1,91.4 108.3,91.4 105.3,87.8 104.6,82.7 104.3,77.8 104,72.7 104.1,68 105.6,62 109.2,57.4 111.2,52.6 114.5,47.7 117.6,42 120.3,37.8 123.5,33.8 127.6,31.1 134.1,26.1 138.4,23.6 141.1,22.5M164.6,100.2 160.1,96.6 156.6,93.8 152.3,92 146.7,88.3 142.5,87.7 137,86.4 133.9,84.4 135.7,82 135.7,77.5 142.7,77.2 146.9,78.1 151.7,77.3 156.8,77 158.7,76M120.4,98.3 118,93.2 115.2,88.5 112.6,84.2 110.6,80.1 109.2,74.4 111.2,71.9 115.8,69 122.2,68 126.5,66.5 131.9,66.1 136.8,66.2 141.8,66 146.6,66.4 153.2,66.6 158.6,66.4 164.7,66.2 170.8,66.9 175.1,66.7 177,66.4M117.7,92.9 113.6,89.1 109.5,85.1 105.1,82.4 99.1,82.6 98.7,78.9 97,73.2 98.3,67.6 100.7,62.6 102.4,58 106.2,56.6 111.9,51.8 115.1,50.5 120.6,46.8 125.6,43.6 130.8,40 134.3,38.2 139.9,35.7 146.8,32.7 153,30.2 157.8,28 162.5,26.7M103,104.5 104.2,98.4 104.3,94.4 105.4,90.3 104.1,89.8 104.6,83.8 103.4,79.9 107.9,79.6 113.1,78 118.2,77.6 124.2,76 128.8,76.8 133.9,76.3 139.4,75.5 145.1,75.9 151.2,75.3 157.6,75.1 163,75.4 167,75.7M105.6,105.8 104.8,100.9 103.3,96.1 102.7,90.9 98.8,87.7 98.1,81.3 100.1,77.9 99.9,73.3 105.6,71.4 108.3,69.7 114.3,69.9 120,70.5 124.5,72.3 130.1,72.2 135.8,72.9 143.4,72.3 151.2,71.5 159.1,71.1 164.9,70.2 167.7,70.7M107.5,107.7 104.8,102.8 101.5,98.6 101,94.5 98.7,89.2 96.7,84.8 96.5,78.7 96.2,72.8 96.8,67.2 97.3,60.9 98.5,55.7 101.6,51.4 103,47.5 107.9,42.9 111.6,38.1 114.8,36.4 120.2,33.4 122.6,29.1 127.3,25.5 132.1,23 136.5,20.5 142.9,19 150.9,16.9 158.2,17 164.4,15.3 169.9,14.2 169.7,14.4M111,109 108.2,105.7 106.1,101.5 103,96.9 99.9,94.7 97.9,88.3 95.3,84.1 98.5,78.9 102.1,75.5 107.4,72.9 112,71.3 116.4,71.5 120.3,70.7 124.5,67.6 131,67 136.4,65.5 143,63.8 150.6,64.6 158.4,63.7 165.4,63.8 170.3,63.1 170.6,63.4M108.3,111.7 103.7,108.4 102.2,103.9 101.4,98.3 103.5,93.8 104.7,88.1 104.2,83.5 105.6,78.5 105.7,71.6 106.3,67.5 107.8,62.6 108.1,57.7 110.5,53.3 112.6,49 116.6,45.8 120.6,42.2 123.6,39.2 127.9,34.6 132.1,29.2 136.2,26.2 137.4,24.9M112.3,106.3 109.5,100.9 106.3,97 102.2,94.2 97,92.4 96.2,88.8 98.8,83.5 98.1,78.5 97.7,73.5 98,69.3 103.1,67.3 107,66.2 112.9,65.2 117.7,62.9 122.2,61.6 128.9,59.2 136.3,57.6 139.8,57.3M123.1,102.9 118.8,101.6 112.9,100.1 108.2,98.1 104.9,93.7 103.8,90.1 100.7,86.4 102.6,83 106.7,82 110.5,79.3 112.4,76.1 118.4,76.2 123.1,75.6 128.7,76 134.2,75.9 140,76.7 145,75.3 152,76 158.2,73.7 164,74.1 167.5,73.4M137.8,105.5 134.3,101.1 130.2,96.5 125.3,92.7 120.3,89 116.2,87.1 110.5,87 105.6,86.6 101.4,82.2 98.9,77.4 98.4,72.5 99,68.2 102,64.5 104.4,60.4 108.7,56.2 113.2,51.5 118.6,47.5 122.8,44.9 129.7,41.5 135,40.6 140.1,40.2 145.2,37.8 152.1,38 158.6,36.8 163.8,37.2 168.2,35.6M145.8,113 140.8,110.9 135.4,109.7 130.8,108.3 125.4,107.2 118.8,105.6 113.2,103.2 109.6,102.6 102.6,102.3 98.7,100.3 98.9,94.4 99.6,89.9 101.2,83.6 103.1,77.4 106.3,71.2 107.8,64.5 108.9,57 111.5,50.1 113.7,43.6 116.5,37.9 119.9,33.5 125.6,30.2 131.2,27.4 134.7,24.6 140.7,23.2 147.3,20.5 153.6,17.4 159.5,16.2 163.7,14.2M140.5,114.4 136.1,109.6 133.1,105 128.8,101.4 124.5,98.4 119.8,97 115.1,96.5 112.3,93.7 108.1,88.5 106.8,83.8 107.8,76.5 109.5,71 110.8,64.8 111,57.9 114.1,52 117,46.5 118.7,41.6 121.3,37 124.5,31.9 129.1,29.3 132.6,25.7 134.1,24.7M174,109 169.7,105.6 165.1,103.4 161.6,100.7 157.3,97.8 153.3,96.8 147.2,95.4 142.8,93.8 139.7,89.2 137.9,82.4 141.2,81 144.5,78.2 151.2,79.1 155.1,78 160.3,77.5 163.6,76.9M172.6,111.7 167.6,107.7 163.1,105.8 158.6,103.4 155.2,100.7 150.8,98.9 146.1,97.4 141.7,96.4 134.9,94.3 130,92.4 128.9,87.3 128.8,82.4 131.5,77.9 133.4,73 136,69.3 139.3,64.5 145.6,63.1 149.3,62.9 154.4,62.2 159.3,60.3 167.1,58.7 171.9,57.4 174.7,56.6M160,115.7 156,112.5 151.9,110.8 148.9,107.2 143.9,104.2 139.7,101.9 136.2,99.7 130.8,97.1 127.9,92.5 126.5,87.7 125.4,82.4 126.2,77.3 131.3,73.8 135.2,72 141.7,70.9 145.8,71.5 151.4,70 157.2,69.9 161.5,69.2 166.5,69.1 171.4,68.7 175.9,68.1 175.9,67.7M175.3,117.9 171.2,114.8 167.7,110.7 163.9,106.6 158.8,103.9 153.3,101 146.6,99.6 141.5,98.9 138.3,96.8 134.1,92.1 133,86.5 131.4,82.1 132,76.9 132.8,72.1 135.3,68.8 139.4,63.8 142.4,59.1 147.2,55.4 151.7,52.5 157.8,50.7 163.5,49.4 168.1,48.6 169.3,48.5M101.6,113 102.9,108.5 103.1,103.4 99,101 98.1,97.1 98.5,91.1 98.9,84.9 100.3,78.5 102.8,71.9 104.7,68.2 106.8,64.1 110.7,59.9 113.5,56.4 116.3,53 121.8,48.3 125.8,44.9 130,41.2 134.6,39.2 139,36.3 145.4,34.1 152.3,32.5 156.5,31 161.4,30M116.4,118.4 114.9,113.7 113.7,108 110.6,104 106.6,100.3 103.4,96 103.2,90.7 103.1,86.5 103.9,80.8 105.8,76 107.5,72.6 111.1,68.2 113.4,64.4 116.6,59.6 120.8,55.5 125.9,53.7 131.3,50.2 136.9,48.1 143,45.5 147.5,45.7 151.9,44.9 157.4,44.6 158.6,43.5M115,121.1 111.6,116.7 107.7,112.1 104.9,107 102.5,102.6 101.1,99 98.4,94.7 95.4,90.3 95.4,85.2 97.6,79.6 97.9,76 100.3,70.6 101.6,67.7 103.7,63 105.7,58.4 109.6,54.7 115.7,51.5 119.6,49.6 126.1,47.5 131.5,47.3 137.7,45 141,45.3 145,43.7M135.1,120.5 131.3,119.5 126.8,117.2 122.4,114.9 119.3,110 116.7,105.9 113.8,101.5 111.9,97.4 111.2,91 110.2,85.5 110.6,81.1 113,75.8 114.4,70.9 118,65.8 121.3,61.6 124.3,57.7 127.7,53.2 131.4,48.1 134.8,45.5 140,42.7 146.5,40.9 152.3,41.9 159.6,41.2 164.8,42.5 166.1,41.5M120.4,122.4 118.2,118 116,113.3 114.6,109.4 113.4,105.5 110.7,100.5 110,96.3 109.9,90.3 111.8,84.2 113.9,79.7 115.6,75.2 117.1,69.8 119.3,64.8 122.5,59.6 126.1,53.5 128.2,49.2 131.3,44.5 135.1,39.8 138.9,35.6 141.9,31.9 144.6,28.6 151.2,25.8 157.7,22.3 164,20 170.4,17.9 174,16.5M125.7,125.1 125.3,119.9 123.1,114.5 119.2,109.8 113.7,110.4 110.1,111.5 105.6,110.4 104.7,104.9 106,100.8 106.2,93.7 108.4,88.3 109.3,83.1 111.2,77.6 113.5,72.4 115.3,69.3 117.4,63.6 119.4,58.5 122.5,54.4 125.3,50.6 127.4,45.2 130.4,41 133.6,36 137.7,33.1 141.1,29.7 147,27.4 153.2,26.1 158.4,24.6 161.9,23.9M130.6,128.6 127.8,125.3 125.3,120.2 121.1,117.6 115.6,114.9 111.6,114.8 108.8,112.2 109.6,107.3 109.5,100.5 110.1,96 111,88.3 112.4,83.7 114.6,77.8 117.8,71.5 121.4,65.7 123.9,62.7 128.9,59.4 133.8,57 139.3,54 143.9,51.5 148.4,49.6 154.1,48.7 159.4,48.9 164.3,48.8 167.3,47.8M137.8,127.8 132.3,123.6 127.2,122.3 123.7,118.5 119.6,115.8 115.9,113.2 111.5,110.9 111.2,105.4 113.7,101.3 113.7,96.3 115.4,91.4 116.8,87.3 118.4,82.3 122,77.5 127.1,73.8 132.3,70.6 135.7,68.7 140.2,67 146.7,63.8 150.1,62.7 156.4,60.2 158.9,60M143.2,132.3 139.1,128 136.8,125.4 131.5,121.8 129.1,119.2 124.2,116.1 118.7,114.8 112.9,113.2 108.7,108.9 107.2,103.7 106.9,98.2 107.1,92.8 107.1,86.2 109.9,79.5 112.7,73.8 115.5,67.3 118.4,64.3 121.2,58.1 124,55.2 127.1,50.6 131.1,48 135.3,43.3 138.8,40.5 143.6,38.3 147.2,35.9 153.4,33.2 153.7,32.8M137.8,134.5 132.8,129.7 128.3,126.2 124.3,121.7 118.8,121.3 112.5,120.4 107,120.7 102.8,118.2 99.4,112.7 98.4,108.1 99.8,103 102.6,97.2 105.8,92.5 107.7,87.7 110.8,82.6 112.4,79 116.9,74 119.1,71 123.9,67.7 128.5,65 133.6,64 138.9,63.5 145.5,62.6 151,60.1 159.6,59.5 168.3,57.7 174.6,56.2 179.1,55.5 179.3,55.7M127.1,135.8 122.9,131.7 121.1,126.9 117.9,122.4 112.9,119.5 107.3,119.9 103.2,116.4 102.1,111.3 102.8,106.6 103.2,100.7 105.3,95.5 106.7,89.5 108.5,83.3 110.8,78.9 113,71.9 116.8,66.3 120.4,59.7 123.3,56.1 127.4,51.3 131.7,47.2 135.4,43.9 140.8,40.6 146.7,38.5 153.8,34.9 160,31.1 166.7,28.7 171.4,27.5 173.2,26.3M129.8,135 127.9,130.4 125.9,126.5 124.7,122 122.5,115.7 117.3,114 113.1,111.1 110.5,105.6 107.7,101 106.3,94.4 107.3,88.6 109.5,85.5 112.4,79.8 115.8,75.4 118.4,71.1 121.4,66.8 125.4,61.5 130.2,56.3 132.7,53 136.2,49.7 140.2,44.8 143.8,42.9 150,40.8 154.4,40.7 160.1,39.1 161.4,39.2M109.7,136.3 109.6,130.2 108.1,126 106.1,122.1 102.3,122.7 99.3,120.8 98.4,114.3 99.8,109.4 99.7,105.4 100.7,98.5 102.7,93.7 103.9,88.1 103.3,82.6 102.8,75.9 104.1,71.1 107.1,65.2 109.6,60.9 112.7,57 115.6,52.9 118.1,49.7 121.3,45.7 124.7,41.4 128.1,37.2 130.3,35.2M111.9,107.7 111.4,102.5 108.9,98.3 105.6,95.7 100.9,95.5 101.1,91.3 103.6,86.2 107.2,81.4 111.3,79.1 116.2,76.8 121.7,73.8 127.8,72.3 133.2,70.1 137.8,69 145,68.2 152,68.3 160.6,66.5 166,66.5 167.2,66.8M121.7,105.4 119.8,100.2 117.5,94.6 113.5,90.6 110,88.6 104.8,88.5 100.3,87.6 97,83.9 95,79 93.6,73.6 95.8,70.3 100.1,66.3 105.1,63.8 109.3,60.4 114.1,59.2 120.1,56.9 125,55.8 131.4,55.3 136.9,54.5 144.4,54.7 151.4,55.3 160.7,54.4 169.1,54.5 176.3,54.3 178.4,55M118.3,114.2 113.7,111.3 110.2,108.8 106.5,105.5 103.9,101.5 98.1,100.3 96.5,96.6 98.2,89.4 99.6,83.4 102.4,77.8 104,72.3 106.8,66.4 108.1,62 110.2,57.4 116.2,53.8 120.9,50.4 125.2,48.3 130.1,46.2 135.6,43.2 141.9,41.9 147.8,40.1 154.9,38.5 161.5,38.1 165.2,37.1M103.9,118.4 101.3,114.3 100.4,109.6 101.4,104.9 99.9,100.2 97.3,94.8 99.1,90.8 100.1,85.5 103.2,80.3 106.8,76.6 110.4,72.1 113.6,67.7 117,64 122.9,59.7 127.6,57.3 132.8,56 136.8,53.7 141.4,51.2 147,48.2 152.5,45.9 158,42.9 162,41.3 163.4,40.7M103.3,116.2 102.6,112 100.3,107.7 96.6,105 97.4,98.9 98.4,94.4 101.5,90.8 105.7,89.2 110.4,87.5 114.8,85.8 120.7,84.6 125.6,83.1 129.5,82.8 135.2,81.4 139.9,81.2 146.3,80.6 153.8,79.5 160,79.5 165.1,78 166.9,78.7M104.3,105.9 103,99.7 102.7,96 102.3,91.6 102.9,91.3 101.8,85.1 103.2,81.6 107.3,77.3 109.5,72.6 114.8,68.6 117.6,62.9 123.8,60.1 127.5,57.5 132.5,55.5 137.3,53.7 142.5,52.9 148.3,51.1 155,47.9 160.8,47.5 167.4,45.1 173.4,43.6 177.3,42.8M114.9,128 110.9,123.3 107.7,119.3 104,117.1 100.1,116.1 100.6,109.1 100.9,103.5 100.6,97.3 102.7,89.4 102.7,83.8 104.2,78.2 106.4,72.2 108.5,67.5 111.4,61.8 114.3,58.9 117.4,53.9 120.7,49.4 124.8,44.3 128.7,39.8 134,37.3 139.4,34.3 145.5,31.2 151.1,29.6 158.1,28.5 163.3,27 165.1,26.6M105.9,109.9 106.4,104 106,98.8 101.4,97 96.2,96.9 93.5,93.7 93.1,87.8 96.8,84.8 100.5,83.4 105.2,82.2 110.9,83.5 116.4,81.6 122.7,80.7 127.7,79.5 131.7,77.9 137.9,77.5 144.5,76.9 154.8,77.6 158.6,78.4 162.5,78.1 170.7,79.3 176.8,79 177.2,79M121,131.6 118.5,127.6 116,121.7 112.5,116.8 108.2,114.5 104,116.1 100.2,112.7 100.7,107.8 101,103.5 101.6,98 101.5,92.3 101.3,87.3 103,81 105.7,75.8 107.4,72 109.6,67.6 113.6,62.5 117.3,58.7 120.7,54.2 124.3,50.7 129.8,48.7 134,48.2 138.3,47 138.7,47.3M119.5,115.1 116,112.2 112.9,108.4 108.4,106.2 103.1,104.4 100.7,101.1 102.8,93.9 103.6,89.7 104.7,84.7 106.9,78.7 108.2,75 110.8,70.9 114.2,66.6 117.7,64.7 121.5,60.5 125.4,58 129.6,54.5 133.3,50 136.7,46.4 141,43.3 146.4,39.7 152.1,37.3 157.9,33.7 165.4,30.9 172.2,28.6 175.5,27.9M131.5,104.6 126.6,103.4 122.5,101.7 117.6,99.8 113.3,97.4 111.3,92.7 111.4,87.3 110.9,82.8 111.9,77.4 114.7,73.1 117.8,67.6 121.5,63.3 126.6,60.2 131.1,57.5 136.2,56.9 142.7,55.6 147.8,53.9 154.8,52.7 161.1,51.3 167.3,50.1 171.4,49.5M128,111.9 124,106.4 120.8,102.6 117.6,99.5 113.1,99.1 109.1,101.8 103.8,100.1 102.7,95.4 102.3,91.1 103.8,86.3 106.7,80.1 109.2,75.5 112,69.2 114.6,63.5 116.7,59.3 120.5,54.7 125.1,50.7 129.8,48.7 133.6,48.5 140.5,47 143.5,46.7M107.2,109.2 104.2,104.9 101.4,100.6 100,95.7 98.9,89.8 98.3,84.7 98.7,79.5 100.3,73.6 101.3,67.7 102.9,61.1 104,54.3 104.8,47.3 104.9,41.3 104.5,35.3 103.2,30.5 101.5,23.4 100,18.8 98.1,15 98,14.4M112.2,112.2 109,108.2 106.4,103.5 104.4,99.4 102,94.8 102.8,90.5 101.3,84.9 102.4,79.2 103.6,72.9 105.1,66.4 107,61.6 108.3,57 109.7,51.6 111.3,44.9 112.4,40.7 113.8,35.7 115.3,30 117.7,26 120.4,22.3 123.8,18.1 127.9,13.9 131.3,10.9 131.5,11" fill="none" stroke="#0a0a0a" stroke-width="0.95" stroke-linejoin="round" stroke-linecap="round"/><g fill="#f00"><circle cx="172.6" cy="80.9" r="1.4"/><circle cx="159.2" cy="84.9" r="1.4"/><circle cx="169.9" cy="95.6" r="1.4"/><circle cx="172.6" cy="94.3" r="1.4"/><circle cx="136.5" cy="94.3" r="1.4"/><circle cx="149.3" cy="99.6" r="1.4"/><circle cx="164.6" cy="100.2" r="1.4"/><circle cx="120.4" cy="98.3" r="1.4"/><circle cx="117.7" cy="92.9" r="1.4"/><circle cx="103" cy="104.5" r="1.4"/><circle cx="105.6" cy="105.8" r="1.4"/><circle cx="107.5" cy="107.7" r="1.4"/><circle cx="111" cy="109" r="1.4"/><circle cx="108.3" cy="111.7" r="1.4"/><circle cx="112.3" cy="106.3" r="1.4"/><circle cx="123.1" cy="102.9" r="1.4"/><circle cx="137.8" cy="105.5" r="1.4"/><circle cx="145.8" cy="113" r="1.4"/><circle cx="140.5" cy="114.4" r="1.4"/><circle cx="174" cy="109" r="1.4"/><circle cx="172.6" cy="111.7" r="1.4"/><circle cx="160" cy="115.7" r="1.4"/><circle cx="175.3" cy="117.9" r="1.4"/><circle cx="101.6" cy="113" r="1.4"/><circle cx="116.4" cy="118.4" r="1.4"/><circle cx="115" cy="121.1" r="1.4"/><circle cx="135.1" cy="120.5" r="1.4"/><circle cx="120.4" cy="122.4" r="1.4"/><circle cx="125.7" cy="125.1" r="1.4"/><circle cx="130.6" cy="128.6" r="1.4"/><circle cx="137.8" cy="127.8" r="1.4"/><circle cx="143.2" cy="132.3" r="1.4"/><circle cx="137.8" cy="134.5" r="1.4"/><circle cx="127.1" cy="135.8" r="1.4"/><circle cx="129.8" cy="135" r="1.4"/><circle cx="109.7" cy="136.3" r="1.4"/><circle cx="111.9" cy="107.7" r="1.4"/><circle cx="121.7" cy="105.4" r="1.4"/><circle cx="118.3" cy="114.2" r="1.4"/><circle cx="103.9" cy="118.4" r="1.4"/><circle cx="103.3" cy="116.2" r="1.4"/><circle cx="104.3" cy="105.9" r="1.4"/><circle cx="114.9" cy="128" r="1.4"/><circle cx="105.9" cy="109.9" r="1.4"/><circle cx="121" cy="131.6" r="1.4"/><circle cx="119.5" cy="115.1" r="1.4"/><circle cx="131.5" cy="104.6" r="1.4"/><circle cx="128" cy="111.9" r="1.4"/><circle cx="107.2" cy="109.2" r="1.4"/><circle cx="112.2" cy="112.2" r="1.4"/></g><text transform="translate(6.5,15.3) scale(1.03,1)" class="tt" xml:space="preserve">b.East turn</text><text transform="translate(6.5,27.5) scale(1.03,1)" class="tt">N:50</text><rect x="0" y="0" width="13.9" height="1.6" fill="#000"/><rect x="13.9" y="0" width="13.9" height="1.6" fill="#d6d6d6"/><rect x="27.9" y="0" width="13.9" height="1.6" fill="#000"/><rect x="41.8" y="0" width="13.9" height="1.6" fill="#d6d6d6"/><rect x="55.7" y="0" width="13.9" height="1.6" fill="#000"/><rect x="69.7" y="0" width="13.9" height="1.6" fill="#d6d6d6"/><rect x="83.6" y="0" width="13.9" height="1.6" fill="#000"/><rect x="97.5" y="0" width="13.9" height="1.6" fill="#d6d6d6"/><rect x="111.4" y="0" width="13.9" height="1.6" fill="#000"/><rect x="125.4" y="0" width="13.9" height="1.6" fill="#d6d6d6"/><rect x="139.3" y="0" width="13.9" height="1.6" fill="#000"/><rect x="153.2" y="0" width="13.9" height="1.6" fill="#d6d6d6"/><rect x="167.2" y="0" width="13.9" height="1.6" fill="#000"/><rect x="181.1" y="0" width="13.9" height="1.6" fill="#d6d6d6"/><rect x="195" y="0" width="4" height="1.6" fill="#000"/><rect x="0" y="158.6" width="13.9" height="1.6" fill="#d6d6d6"/><rect x="13.9" y="158.6" width="13.9" height="1.6" fill="#000"/><rect x="27.9" y="158.6" width="13.9" height="1.6" fill="#d6d6d6"/><rect x="41.8" y="158.6" width="13.9" height="1.6" fill="#000"/><rect x="55.7" y="158.6" width="13.9" height="1.6" fill="#d6d6d6"/><rect x="69.7" y="158.6" width="13.9" height="1.6" fill="#000"/><rect x="83.6" y="158.6" width="13.9" height="1.6" fill="#d6d6d6"/><rect x="97.5" y="158.6" width="13.9" height="1.6" fill="#000"/><rect x="111.4" y="158.6" width="13.9" height="1.6" fill="#d6d6d6"/><rect x="125.4" y="158.6" width="13.9" height="1.6" fill="#000"/><rect x="139.3" y="158.6" width="13.9" height="1.6" fill="#d6d6d6"/><rect x="153.2" y="158.6" width="13.9" height="1.6" fill="#000"/><rect x="167.2" y="158.6" width="13.9" height="1.6" fill="#d6d6d6"/><rect x="181.1" y="158.6" width="13.9" height="1.6" fill="#000"/><rect x="195" y="158.6" width="4" height="1.6" fill="#d6d6d6"/><rect x="0" y="0" width="1.6" height="16" fill="#d6d6d6"/><rect x="197.4" y="0" width="1.6" height="16" fill="#000"/><rect x="0" y="16" width="1.6" height="16" fill="#000"/><rect x="197.4" y="16" width="1.6" height="16" fill="#d6d6d6"/><rect x="0" y="32" width="1.6" height="16" fill="#d6d6d6"/><rect x="197.4" y="32" width="1.6" height="16" fill="#000"/><rect x="0" y="48.1" width="1.6" height="16" fill="#000"/><rect x="197.4" y="48.1" width="1.6" height="16" fill="#d6d6d6"/><rect x="0" y="64.1" width="1.6" height="16" fill="#d6d6d6"/><rect x="197.4" y="64.1" width="1.6" height="16" fill="#000"/><rect x="0" y="80.1" width="1.6" height="16" fill="#000"/><rect x="197.4" y="80.1" width="1.6" height="16" fill="#d6d6d6"/><rect x="0" y="96.1" width="1.6" height="16" fill="#d6d6d6"/><rect x="197.4" y="96.1" width="1.6" height="16" fill="#000"/><rect x="0" y="112.1" width="1.6" height="16" fill="#000"/><rect x="197.4" y="112.1" width="1.6" height="16" fill="#d6d6d6"/><rect x="0" y="128.2" width="1.6" height="16" fill="#d6d6d6"/><rect x="197.4" y="128.2" width="1.6" height="16" fill="#000"/><rect x="0" y="144.2" width="1.6" height="16" fill="#000"/><rect x="197.4" y="144.2" width="1.6" height="16" fill="#d6d6d6"/></svg><line x1="13.9" y1="160.2" x2="13.9" y2="162.7" stroke="#222" stroke-width="0.8"/><text x="-2.1" y="169.1" class="lb">100.00<tspan class="dg" dy="-5.4">o</tspan><tspan dy="5.4">E</tspan></text><line x1="69.7" y1="160.2" x2="69.7" y2="162.7" stroke="#222" stroke-width="0.8"/><text x="53.7" y="169.1" class="lb">128.00<tspan class="dg" dy="-5.4">o</tspan><tspan dy="5.4">E</tspan></text><line x1="125.4" y1="160.2" x2="125.4" y2="162.7" stroke="#222" stroke-width="0.8"/><text x="109.4" y="169.1" class="lb">156.00<tspan class="dg" dy="-5.4">o</tspan><tspan dy="5.4">E</tspan></text><line x1="181.1" y1="160.2" x2="181.1" y2="162.7" stroke="#222" stroke-width="0.8"/><text x="165.1" y="169.1" class="lb">176.00<tspan class="dg" dy="-5.4">o</tspan><tspan dy="5.4">W</tspan></text><line x1="-2.3" y1="16" x2="0" y2="16" stroke="#222" stroke-width="0.8"/><text transform="translate(-3.2,14) rotate(-90)" class="lb" text-anchor="middle">58.00<tspan class="dg" dy="-5.4">o</tspan><tspan dy="5.4">N</tspan></text><line x1="-2.3" y1="80.1" x2="0" y2="80.1" stroke="#222" stroke-width="0.8"/><text transform="translate(-3.2,78.1) rotate(-90)" class="lb" text-anchor="middle">30.00<tspan class="dg" dy="-5.4">o</tspan><tspan dy="5.4">N</tspan></text><line x1="-2.3" y1="144.2" x2="0" y2="144.2" stroke="#222" stroke-width="0.8"/><text transform="translate(-3.2,142.2) rotate(-90)" class="lb" text-anchor="middle">2.00<tspan class="dg" dy="-5.4">o</tspan><tspan dy="5.4">N</tspan></text></g><g transform="translate(16.7,188.0)"><svg x="0" y="0" width="198.7" height="160.6" viewBox="0 0 198.7 160.6" overflow="hidden"><rect width="198.7" height="160.6" fill="#fff"/><path d="M0,0 0,102.6 1.2,104.6 2.6,106.9 3,109.4 2.6,112.4 3.6,112.9 5,112.9 6.4,111.5 7.7,110.4 9.1,111.5 9.5,114.3 10.3,117.9 11.1,121.6 10.9,125 10.5,130.3 11.7,131.2 13.5,134 14.5,136.7 15.5,140 16.5,142.2 18.5,144.3 20.9,146.1 22.5,145.7 21.1,142.7 20.5,140.2 20.7,138.1 18.5,135.1 16.5,133.3 14.9,132.6 13.9,129.9 13.7,128 12.3,125.5 13.1,122.1 13.8,120.2 13.9,118.4 14.9,118.2 15.9,120 18.5,121.1 19.7,123.4 20.9,124.8 22.9,125.3 23.4,129.4 24.2,129.2 26.4,127.3 28,125.4 29.8,124.4 31.6,123.2 32.2,121.1 32.7,119.5 32.4,117.5 31.6,114.3 30.2,112.3 28.2,110.4 27,108.3 25.4,106.2 25.8,103.7 27,102.3 28.2,100.9 29.8,99.8 32,99.8 33.2,100 33.6,102.6 34.4,102.6 34.8,100.5 36.2,99.8 38.2,99.1 40.7,98.2 42.1,98 43.7,97 47.1,95.7 48.7,94.3 49.9,92.9 51.7,91.3 52.7,89.5 53.6,87.9 55,85.3 56.6,83.5 57.4,80.5 55.6,79.6 57.4,78 57.2,76.4 55.4,74.3 54.4,71.1 52.5,69.5 54.2,66.8 55.6,65.2 58,64.5 58.8,63.3 56.6,63.1 55,62.4 52.7,63.8 52.1,62.4 50.1,60.8 49.1,59.7 50.7,59.2 52.7,57.8 54.6,56.4 56,55.3 58,55.5 57.4,57.4 56.6,58.5 56,60.1 58.2,59 60.6,57.8 62.2,57.6 63.6,58.3 64.2,60.3 63,61.7 65.6,62.6 66.8,63.2 66.6,65.4 66.8,67 66.2,68.8 66.2,70.2 68.6,69.7 70.5,69.1 71.5,68.6 72.3,67.7 72.5,66.5 72.3,64.2 70.7,61.5 68.6,59 68.8,57.8 70.9,56.7 72.9,55.5 73.1,53.2 74.9,52.1 77.3,50.2 78.5,50.9 79.3,50.9 81.3,50.7 83.7,48.9 86.6,46.1 89.2,43.1 90.6,40.6 94,36.7 94.4,33.3 95,31 96,28.7 95.8,27.8 96.6,26.8 93.4,25.2 90.8,25.2 88.4,25.2 87.4,24.1 84.1,23.6 87.4,21.8 89.8,19.5 94.4,15.6 97.4,13.8 99.7,12.8 105.3,13.1 109.3,13.1 114.8,12.4 118.2,13.3 121.6,13.5 122.2,12.4 124.2,10.8 128.2,7.3 132.1,7.3 134.1,9.2 136.1,8 140.1,5.7 139.1,7.3 138.1,9.2 135.1,11 132.7,13.5 129.2,16.1 126.6,18.4 125.2,21.1 124.4,24.1 124.8,27.5 125.6,29.8 126.6,32.3 128.2,31 130.3,27.8 132.7,26.4 133.1,25 136.9,23.4 135.9,21.8 139.7,20.4 137.9,19.5 139.5,16.5 138.1,15.8 140.1,14.2 142.1,12.4 144.1,11.5 147,10.8 153.6,11.7 157,10.1 161.9,7.3 166.9,5.5 171.1,6.2 171.9,4.6 169.9,2.3 167.9,0.7 169.9,0.9 172.5,0ZM177.8,0 182,0.5 184.8,0.9 188,1.4 189.2,0.7 190,0ZM97.4,43.6 97.2,41.3 97.4,39 97.6,35.6 97.8,32.1 96.8,29.1 97,26.4 98,24.5 98.8,24.3 99.7,27.1 99.7,29.8 100.3,32.1 101.3,35.6 102.7,37.6 99.5,36.2 99,40.2 100.3,42.4 100.1,43.6 98.8,42.2ZM97.2,44.7 98.4,45.9 100.3,47.7 103.9,47.5 103.5,49.1 104.9,49.6 102.1,50.5 99.7,53 97.8,51.9 96.6,51.4 95.4,52.1 94.8,53.2 93.8,54.1 93.4,52.8 93,51.6 94.2,49.8 96,50 96.6,47.5 96.8,45.9ZM95.2,53.9 96.2,54.1 96.4,56.2 97.4,58.3 96.4,61.3 95.4,61.5 95.4,64.2 94.8,65.8 95.2,67.2 93.2,69.1 93,67.7 92.6,68.4 91,69.7 89.8,69.7 87.4,69.7 86.6,69.5 87,70.4 85,72.5 83.7,71.1 84.2,69.7 83.9,69.5 81.5,69.7 78.5,70.4 75.3,71.2 76.5,70 78.5,68.4 78.9,67.7 81.5,67.6 84.1,67.2 85,67.7 85.6,67.2 86.6,65.4 88,63.1 87.4,64.7 89.4,64.2 91.4,62.2 92.6,60.6 93.2,58 93.4,56.2 94,54.6 94.8,55.3ZM77.5,72.7 79.3,74.1 81.9,72.8 82.7,71.6 82.1,70.4 80.5,70.2 79.3,70.9 78.3,71.6ZM75.3,71.4 76.5,72.7 76.9,74.6 76.3,75.9 74.8,78 74.5,76.6 73.9,77.3 73.9,75.5 73.1,74.1 72.5,72.7 74.3,72ZM56.6,91.1 57.6,91.8 57.2,94.1 56.4,96.4 55.3,98.9 54.2,97.5 53.8,96.4 54,94.1 55,92.7 55.6,91.5ZM31,105.1 32.4,107.1 32.8,107.4 34.8,106 35.8,104.2 35.2,103 34.4,103.1 32.4,103.5 31.2,104.4ZM54.8,106.7 55.6,106.5 58,106.7 58.4,109.7 57.8,112 56.8,112.9 57,115.4 57.6,116.8 59,116.3 60,117.7 61.8,119.3 61.6,120.5 60.2,119.3 58.6,117.9 57.2,117.2 55.6,117.7 54.8,116.5 55.4,115.6 54.4,115.9 53.6,114.7 53.6,112 54.4,111 54.4,109ZM54.2,118.2 56.6,118.8 56,121.1 54.6,120.7ZM57.6,122.1 59.4,122.7 58.8,125 57.6,125 57.4,123ZM59.6,124.1 60.6,125 60,128.3 58.8,127.3 58.4,125ZM61.4,123.4 61.8,125.3 60.4,127.1 60.8,125ZM61.6,126 62.8,126.6 61.4,127.1ZM62.2,120.2 64.6,121.1 65,123.9 63.6,123.4 64,126.2 63.2,126.2 62.2,122.7ZM52.3,123 53.3,125 51.3,126.6 48.3,129.9 47.9,129.6 49.7,127.3 51.9,124.8ZM57.6,133.3 58,131.2 60.2,130.8 61.2,129.2 63,129.6 64.6,126.6 66,128 66.8,132.4 66,134.7 64.8,133.1 64.4,136.3 64,135.6 61.6,134.7 62,132.6 60.6,131.5 58.6,131.9ZM47.7,133.1 49.9,135.8 52.3,137.4 50.3,139.3 49.1,139.5 49.5,142.2 49.7,144.5 51.5,146.8 49.5,147.3 48.7,149.1 47.7,151.4 46.7,154.9 46.1,157.8 45.7,158.3 42.9,157.8 39.7,156.5 37.2,156 34.4,155.8 33.8,153.3 32.2,150.3 32.4,149.1 31.6,146.8 33,144.3 34.4,145.5 36.4,144.1 36.8,143.2 39.7,141.8 41.7,139 43.7,137.7 44.7,136.5 45.9,135.4 47.3,133.3ZM4.6,136.3 8.9,137.2 11.3,140.4 14.7,144.1 16.9,145.5 19.9,148 21.5,151.4 22.9,153.7 25.4,156 25.6,161.1 22.3,161.1 18.5,157.8 14.6,151.3 11.9,145 11.5,145.2 6.2,139.7ZM64,145.5 62.4,148.2 59.6,148.2 56.6,148 54.8,148 54,147.1 55.2,146.4 54,149.1 53.3,151 52.3,152.6 51.3,155.1 52.5,157.2 52.9,159.5 52.5,161.1 54.4,161.1 54.4,157.2 54.8,155.8 56.2,158.3 56.6,159.9 59.2,161.1 59.8,158.8 58,156.5 56.2,153.5 58.6,151.4 60.6,151.2 57,151.2 54.2,152.1 54.4,150.3 56.6,148.4 60.6,147.3 62.8,146.4ZM69.5,144.1 70.7,145.7 69.9,146.6 71.1,147.8 69.5,148.4 71.3,149.8 69.9,151 68.8,149.1 69.1,146.8ZM69.5,155.6 75.1,156 75.1,157.8 70.5,157.2ZM65.6,156.2 68,156.5 67.4,158.1 65.8,157.6ZM75.5,151.9 77.5,150 79.5,150.7 81.7,151.2 82.1,153.7 83.5,156.7 84.4,156.9 86.2,154.2 87.8,152.8 89.8,153 93,154.6 94.8,154.9 97.2,155.8 100.3,157.2 102.3,158.1 104.3,159.5 105.1,161.1 84.4,161.1 81.5,158.3 79.5,158.3 77.9,155.8 77.5,154.6 79.5,154.4 80.5,154.6 78.5,152.6 76.1,152.6ZM114.3,154.9 117.2,156.7 119.2,159.7 118.6,161.1 116.8,159 114.8,156ZM109.7,161.1 112.3,160.6 113.7,161.1 116.2,158.8 117.8,159 117.8,161.1ZM68.8,89.2 70.1,87.6 69.5,87.4 68.9,88.3ZM71.9,84.7 72.9,83.7 72.3,83.7ZM144.5,22.3 146.2,23.6 145.2,22.3ZM189.8,3.7 193.7,4.1 195.3,4.6 192.7,4.8 190.4,4.4ZM104.3,48.9 106.5,47.3 105.3,47.7ZM107.1,46.3 111.1,44.7 109.3,45.4ZM112.3,44.1 114.3,43.1 113.3,43.8ZM116.2,41.8 117.8,40.8 117,41.3ZM119.2,39 121.8,37.4 120.2,38.1ZM122.4,36 126.2,32.6 124.4,34.4ZM158,27.8 160,27.8 159.4,28ZM167.5,30.1 168.5,29.6 168.1,30.1ZM175.8,30.1 180.8,30.3 178.8,30.7ZM181.8,29.4 185.2,29.8 183.8,30.1ZM189.8,28 193.7,27.5 191.7,28.2ZM194.7,26.4 199.7,26.2 196.7,27.3Z" fill="#cbcbcb"/><path d="M13.9,0V160.6M69.5,0V160.6M125.2,0V160.6M180.8,0V160.6M0,16.1H198.7M0,80.3H198.7M0,144.5H198.7" stroke="#000" stroke-opacity="0.1" stroke-width="1" fill="none"/><path d="M137.3,88.6 133.3,87.7 126.4,86.2 119.6,84.6 112.6,82.4 105.5,81.3 98.8,80.3 93.3,79.3 87.3,77.5 82.1,77.1 77.3,75.8 72.3,74.7 71.7,68.8 72.1,63.6 73.3,56.8 75.5,53.3 78.9,49 83.6,44.2 88.4,39.3 92,34.8 96.6,32.3 100.3,29.6 106.2,26.6 110.8,26.3 116.6,24.7 121.4,26 126.7,24.4 126.4,24.8M69,102 70.6,96.9 71.1,92.8 69,92.7 69.1,87.4 70.1,82.8 71.1,77.8 74,73.8 77.7,71.6 84,69.2 89.3,67.3 94.2,65.3 99.1,64 104.7,62.5 110.2,61 116.3,59.1 122.4,57.6 129.9,56 137.7,55.2 143.1,54.5 147.7,53.3 151.6,53.4 160,52 165.8,51.1 165.6,51.9M93.1,103.6 91.4,98.7 87,94.7 81.8,92.4 77.1,90.1 77,86.2 77,81.1 76.9,76.4 81.4,73.9 85.2,71.7 91.1,69.8 96.9,69 102.2,68 107.5,68.5 113.3,67.2 119.2,65.6 126.7,65.4 134.7,65.3 140.5,64.1 145.5,63.5 145,63.7M99.8,105.5 94.6,102.5 88.3,99.4 84.1,96.1 78.5,95.5 72.9,94.7 68.8,93.8 67.5,90.6 71.4,86.9 78.2,82.2 83.5,78.7 88.5,76.4 92,74.4 96.8,72.2 102.5,70.7 107.7,69.3 113.5,68.7 119.6,66.7 126.1,65.9 133.2,63.4 141.1,63 146.8,61.8 150.3,60.7 155.1,59.6 159.3,59.6 167.1,58.1 173.1,57.8 173.4,57.2M110.5,97.4 106.4,96.1 101.2,93.3 97.4,90.4 92.6,88 86.9,84.5 81.4,81.6 77.3,77.6 72.9,75.2 69.5,73.3 68.3,68.1 72.7,62.9 76,57.3 80.6,53.8 85.4,51.9 91.6,50.1 95.8,48.9 101.1,48.2 106.9,45.2 113.9,43.5 121,41.6 129.3,39.9 137.5,38.6 143.9,37.4 149.8,37.4 154.1,36.5 160.2,36.4 166.1,36.5 171.4,36.1 175.8,35.1 182.9,35.1 183.2,35.7M111.9,101.5 107.9,96.6 104,92.8 98.9,90.4 94.1,86.8 90.9,84.6 86.1,83.9 81.9,82.6 76.1,82.1 71.5,79.2 68.4,76.2 66.4,71.8 66.1,67 68,63.8 71.8,59.6 74.4,54.5 75.2,50.1 77.9,44.5 80.5,39.2 83.7,36.1 87.9,31.9 92.4,27.4 96.5,26.3 102.1,25.5 105,24.9M115.9,100.1 109.4,97 103.8,94.2 97.7,91.6 92.6,87.9 87.5,86.1 82,84.1 76.4,83.1 71.9,80.1 69.1,77.1 66.8,73.3 65.4,67.5 67.3,63.1 67.7,56.9 70.8,52.8 74.2,49.4 77.3,46.2 82.1,42.5 85.8,39.8 91.2,35.8 94.9,33.6 98.7,32.9 104.4,30.2 109.3,28 113.8,26.3 116.7,25.2M118.6,98.8 113.7,95.7 110.1,93.8 105.3,91.6 99.6,88.6 94.5,87.4 89.3,86.2 82.9,85.3 78.6,84.4 72.5,82 68.5,80.7 66,75.5 66.3,71.1 69.5,67.3 73.1,63.4 78.1,59.7 85.3,56.3 88.6,53 93.3,52.2 98.7,50.5 103.8,48 110.5,46.4 116.5,44.9 123.3,42.9 130.1,41.3 138.5,40.6 143.8,39.8 149,38.3 154.9,37.8 159.4,37 163.8,36.3 171.2,34.9 174.1,35.4M123.1,103.6 116.5,102 111.1,102.1 104.7,99.3 97.6,98.7 92,98.7 88.2,97.8 84.3,97.7 77.3,97 72.5,95.4 68.4,92.5 65.9,87.3 65.7,81.7 67.1,76.9 70.9,72.4 74.7,68.1 79.3,64.8 84,62.4 90,59.1 96.1,57.2 100.6,56.1 104.6,54.4 109.7,52.6 113.7,50.9 119.9,50.2 125.2,47.5 128.7,48 135.6,46.7 135.2,46M126.6,106.3 121.7,101.9 116.7,98.1 111.9,94.4 105.7,90.2 102.1,88.7 97.3,87.2 90.1,85.7 85,84.1 79.9,82.7 75.4,79.4 72.6,75.9 72.1,72.3 76.2,72.5 81.3,69 86.3,68 91.9,67.4 98.8,65.9 103.7,66.1 107.7,66.6 115.2,66.5 121.1,66.4 125.3,68.3 128.9,68M77.1,112.2 76.3,107.9 74.8,103 72.6,99.8 70,97.1 68.8,91.9 69.6,86.6 74.5,83.9 78.2,82.2 83.1,78.2 86.1,75.9 89.8,72.6 94.2,69.9 98.6,67.8 104.5,66 110.5,65.7 116.8,66.3 123.6,65.4 129.9,65.1 138.5,65 146.3,64.5 152.2,63.5 160,63 166.3,62.1 169,62M83.7,111.6 79.5,109.2 75.6,106.3 74.7,101.7 72.1,96.1 69.5,91.5 66.7,87.8 71.1,85.4 74.7,84.9 78.5,82 83.1,79.4 87.4,75.7 92.5,75.9 97.7,74 104.2,73.1 109,73.2 114.2,72.5 115.6,72.6M94.5,111.6 91.5,109.2 86.2,105.3 80.8,101 78.1,96.1 75.6,90.8 71.2,86.4 68.2,82.1 65.8,78.5 66.2,73.3 70.4,69.5 75.6,67.1 81.3,63.7 84,60.7 88.6,56.9 93.5,53.6 99.1,50.9 105.1,49.4 112.3,48.3 119.9,46 126.5,46.3 134.2,44.9 144.5,45.2 149.8,44.5 155,44.6 160.6,44.5 165.6,44.3 170.5,44 178.7,44.2 181.9,44.5M98.5,112.2 93.7,107.5 88.7,103.4 85.4,100.2 79.5,96.6 75.2,94.5 73.1,89.8 71.6,85.9 71.4,79.9 72.3,76.5 73.6,69.7 75.7,64.4 78.1,60.2 83.2,57.2 87.7,54 93.5,50.8 97.1,47.4 100.6,43.7 104.7,39.6 110,36.7 114.1,32.7 120.6,30.6 127.2,29 133.7,27 140.1,25.2 144.1,24.4M106.5,109 101.7,104.6 95.9,100.9 93.4,97.6 89.6,93.7 83.5,90.2 77.9,88.5 73.4,86.8 70.1,82.6 70.6,76.4 69.5,70.4 70.9,69.4 74.4,73.8 80.2,72.9 84.1,72.9 90.3,73.4 93.9,73.2 100.5,73.4 106.1,73.1 110.9,72.6 116.3,72.2 124,71.5 132.5,73.1 140.7,71.3 148.8,71.7 153.5,71 154.1,70.7M113.2,114.9 107.7,112.4 102.6,109.2 96.9,105.1 91.8,101.7 87.6,99.7 83.1,98 78.3,97.5 73.3,94.1 70.5,88.6 68.8,82.5 66.8,76.3 67.9,71.5 69.2,66.6 71.4,61.6 74.5,55.3 76,50.6 78.4,46.5 80.5,43.5 83.5,39.9 88.2,37 92.4,35.4 97.2,32.4 101.8,30.6 106.9,28.8 111.8,26.2 118.3,24.6 122.9,21.5 128.2,20.3 129.3,19.7M121.3,114.9 116.2,112.6 110.1,110.4 105.3,108.4 99.6,105.9 95.7,104.2 89.4,101.8 84.1,98.6 80.3,96.6 77.5,92.3 74.4,88.3 74.2,81.8 77,77.3 80.3,73.9 84.5,71 88.4,67.8 92.6,65.1 97.7,61.1 103.3,58.3 107.7,55.6 112.7,53.8 118.1,50.3 124.6,48.5 131.1,46.6 139.2,45 144.7,43.4 148.4,42.3 157,40.1 163.4,39.2 166,38.4M130.6,113.5 124.4,109 119.3,105 113.7,100.9 108.2,98.5 102.5,96.6 97.5,95.6 91.4,95.6 86,95.9 81.6,95.8 77.3,92.5 73,87 71,81.6 69.6,76.8 74.3,73.7 77.9,70.6 80.6,65 83.2,60.7 88.6,56.7 93.7,55.2 99,53.8 103.8,51.4 109,49.7 114,48.2 119.8,46.5 125.7,44.5 129.8,43.4 134.3,42 134.5,42.6M138.7,114.3 132.4,114.1 126.4,113.3 119.7,112.6 113.3,111.7 107.8,110.9 101.2,107.5 95,106.3 88.6,103.4 83.4,100.2 78.6,96.7 74.1,92.7 72.4,88.6 74.1,83.8 77.4,79.1 79.9,75.3 83.9,72.6 87.9,70.6 92.9,67.1 98.8,62.2 101.4,59 106.1,55.7 110,52.1 115.7,48.6 122.6,45.3 131.3,44 136.1,42.6 139.4,41.3 148,40.1 154,38.3 153.8,38.1M141.9,114.9 138,112.4 130.5,107.8 122.8,104.3 116.1,99 109.5,96.3 102.7,95.4 95.1,93.4 89.5,93.5 84.5,92.9 78.6,91.5 76,86.1 76.3,82 75.5,77 73.2,72.9 73.3,67.6 74.8,63.1 76.5,58.5 80.3,55.1 85.2,52.8 91,53.4 96.1,51.6 101.1,50.7 105.5,47.9 111.1,46.2 112.4,46.1M79.7,119.7 74.7,118.4 73.6,114.6 75.4,109.7 74.6,105.4 73,100.9 75,96.6 80.4,91.6 84,87.2 88.3,82.8 91,79.4 94.2,76.5 99.4,71.8 104.5,67.4 109.6,64.1 114.8,61.3 120.4,60.7 126.6,59.5 132.1,58.5 138.6,57.3 142.9,56.5M82.4,120.8 79.2,117.8 76.5,112.9 72.1,108.5 68.4,107.2 63.6,105.7 62.3,100.4 63.7,94.5 66,90.4 68.9,87.4 73.8,83.8 79.1,80.2 84.3,76.1 89.3,74.1 93.9,70.9 98.6,67.6 104.8,63.4 110.5,60.3 118.7,57.1 125,54.7 130.5,53.4 135,52 141.8,51.7 148.7,49.6 151.8,49.5 157.8,48.8 163.9,49.1 167.7,48.3 175.8,47.4 175.4,47.3M90.4,121.6 87.6,118.2 83.5,114.2 80.7,109.8 76.4,106.4 72.9,102.7 70.1,98.6 66.5,94.1 64.1,89.8 62.7,85 63,80.1 64.9,74.5 67.4,69 70.4,63.5 72.8,57.7 77.2,52.1 79.7,48.1 81.3,44.8 85.4,40.3 89.7,35.9 93.2,33.9 98.2,30.4 103.7,27.5 109.7,24.3 116.7,21.6 121.1,19.9 122.8,19.3M93.1,118.9 90,114 87.5,110.6 83.5,107.7 79.2,107.9 74,107.3 71.3,105.5 73.1,99.2 75.4,96.5 77.8,91.1 80.3,85.4 83.7,80.3 86.9,74.5 89.6,67.7 93.6,63.1 97.2,56.4 103.1,50.8 107.4,47.3 114.7,43.4 122.3,41.3 128.8,37.7 136.2,35.9 143.3,32.9 150.4,28.4 158.9,25.8 165,22.6 170.1,21 169.7,20.9M101.2,120.8 96.7,117.7 91.8,115.9 87.5,112.5 82.7,110.9 77.7,109.7 73.2,110.4 68.1,108.2 64.8,106.2 64.7,99.6 68,93.9 70.8,88.6 72.7,84.2 76.2,79.8 80.5,76.1 83.3,73.2 89,70 94.6,66.1 100.4,63.2 108.2,61.8 116.3,57.9 124.8,55.9 131.8,52.9 140.9,51.8 146.7,51.1 151.9,50.3 157.8,50.6 162.8,50.4 168.3,49.3 174.4,49.4 181.9,47.7 184.7,48.3M109.2,124.2 105.7,119.6 102.3,116.2 98.5,112.2 94.9,107.6 90.8,104.8 86.9,103 81,101 77.3,100.2 70.9,97.2 68.2,93.8 65.8,88 64.6,82.9 65.2,79.2 67.1,74.6 71.4,71.5 76.6,69.2 80.9,69.1 87.9,68 92.5,65.6 96.6,62.9 102.2,60.1 104.5,58.6M117.2,122.4 110.6,122.1 105,121.9 97.4,121.3 91.5,119.5 88,118.1 81.4,114.8 77.3,112.6 72.2,110.9 70.5,107.4 69.9,102.3 73,96.2 74.5,90.8 78,86.9 82.3,83.9 87,80 90.5,77.2 95.5,73.7 100,70.7 104,68.4 109.1,65.9 114.1,63.3 121,60.8 129.3,58.4 135.1,58.2 139.6,57.2 144.4,55.4 149.9,55 154.7,53.6 162.2,52.2 165.7,52.2M119.9,120.2 115.1,116.9 108.5,114 104.8,110.7 100.5,109 95.2,107.2 90.1,105.9 84,103.8 79.3,102.2 74.8,100.5 70.6,98.4 72.3,95.1 77.1,90.6 81.6,87.6 85.1,85.1 89.1,81.6 94.7,77.9 98.9,74.2 106,71.9 110.4,70.1 116.6,69.3 122.3,67.5 128.3,66.8 135.3,66.2 139.5,64.5 144.4,63.9 149.8,63.4 155.4,62.6 160.5,62 164.6,60.7 172.6,59.4 174.6,59.1M127.9,124.2 121.8,120.8 115,117.9 109,114.4 103.2,111.3 97.4,108.9 94,106.6 88.2,105.4 83,103.7 79.2,100.2 75.3,97.2 73.8,93.4 75.1,87.8 76.7,83.3 80,78.3 85.5,75.4 89.7,73.5 94,72.1 99.2,71.2 105.7,69.6 113.8,67.7 121.5,66.6 129.2,65.4 138.1,63.9 143.2,64.4 147.7,64.2 153.4,63.9 158.5,62.8 164.7,64.5 168.5,63.9 176.4,64.6 179.7,64.7M143.5,122.9 140.3,120.8 132.8,118.2 126.4,113.8 119.9,111.2 113.4,108.6 107.4,105.2 100.5,104.7 94.6,102 87.5,100.1 83.9,98.4 79.1,94.9 75.1,90.6 74.4,85.7 77.1,80 80.7,75.2 83.3,70.8 87.9,67 90.6,62.6 94.6,57.3 98.1,51.3 103.1,46.6 107.6,41.5 113.8,39.5 119.8,36.8 125,34.8 133.2,33.5 139,30.9 145.9,30.1 154.3,27.7 162.6,26.3 169.1,24.4 173.8,23.8 173.6,23.3M154.7,125 150.1,123.5 143.1,122.6 135.5,121.7 127.3,119.5 120.5,118.6 113.4,117.9 107.5,117.3 100.6,115.8 95,115.3 91.3,115.5 84.2,113.5 79.5,109.7 77.7,105.4 78.5,101.5 82.1,97.5 86.1,94 91.2,89.4 95.6,86.5 99.9,84.6 105.6,81.8 110.2,79 115.9,76.9 122.1,74.9 128.7,73.5 135.1,71.1 143.5,69.5 151.7,68.5 156.5,67.2 161.3,67.3 165,66.8 172.9,65.8 178.6,64.8 179.2,64.7M174,119.7 168.8,117.9 161.6,113.9 157.2,112.3 153,110.7 148.8,109 144.5,106.9 139.7,105.6 131.4,102.7 126.6,102.5 121.8,102.6 115.9,101.8 112.2,100.9 107.1,101.4 102.1,101.6 94.6,100.4 88.4,99.5 82.7,97.4 78.9,95.7 74.9,91.6 73.1,87 75.4,80.8 77.1,76.2 81.4,72.2 83.3,68.1 87.7,64.8 90.4,61 96.7,57.4 101,55.1 106.2,50.2 112.2,47.5 118.1,41.7 124.3,38.4 131.6,34.8 138.8,31.6 147.2,30.2 153.6,29.1 157.5,29.4 163.7,28.8 168.6,28.2 173.5,27.7 182.2,27.1 184.2,27M74.4,130.4 71.4,126.4 69.2,123.2 67,118 67,113.9 70.5,110.4 70,103.7 69.9,98.7 71.7,92.4 73.3,87.5 73,81.9 74.6,76 76.2,72.8 78.7,66.3 82.2,61.6 85.9,58.9 90.5,57 96.1,52.6 101.9,51.8 105.6,49.7 106.6,49.7M79.7,130.9 77.2,127.4 73.6,122.3 72,118.5 70.6,112.6 67.6,107.9 64.6,104.3 66.2,98.4 69.5,95.4 71.8,90.6 73.9,82.3 75.7,77.9 76.8,72.6 77.2,67.2 78.3,63 82.1,57.8 84.1,52.9 88.3,48.7 91.8,44.7 95.9,40.2 100.1,37.6 104.6,33.3 105.8,33.1M83.7,128.8 81.9,124.5 79.8,118.8 79,112.8 75.4,108.8 71.7,106.8 72.9,101.6 74.7,96.1 73.6,90.7 73.1,85.4 74,80.4 75.3,76.4 77,70.4 80,65.8 81.8,61.1 84.8,57.8 89,54.8 94.6,52.8 99.9,49.7 104.6,47.3 110.5,45.6 111.4,45.5M93.1,128.3 89.5,124.6 88.5,119.3 84.9,114.8 82.8,111.5 78.7,108.4 74.1,105.5 69.7,103.9 67.4,99.4 66.7,94.6 67.2,89.6 70,85.7 73.5,81.6 78.4,78 82.9,76 87,74.3 92.9,70.6 99.7,67.9 103.3,66.2 108.4,65.5 114.3,65.6 119.8,65.4 125.6,64.4 125.4,64.3M95.8,129.6 91,126.1 87.7,120.7 82.7,116.8 77.6,115 72.2,115 67,113.3 62.3,110.9 63.3,104.7 67.3,100.4 72,93.8 76.2,88.1 80.9,82 85.1,77.5 89.2,71.9 91.8,67.3 94.9,62.1 99.9,58 103.7,53.5 108.6,49.4 113.4,45 120.2,41.2 125.7,37.7 133.2,33.4 142.2,30.3 146,29.7 150.2,27.5 158.7,24.8 164.7,22.8 166.9,22.1M101.2,129.6 98.5,126 95.2,120.6 91.3,114.7 86,114.5 81.3,117.1 77,117.1 74.3,114.1 71.8,108.2 73.3,101 73.6,94.7 75.4,88.8 77.9,82.7 80.1,76.3 83.9,70.6 87.9,66.2 92.3,60.4 98.5,56.9 103.9,51.9 109.8,45.9 115.6,40.1 122.9,35.3 129.5,31.1 138,26.9 142.6,25.7 147.8,24.5 153.3,22.5 159.2,23.3 165.3,22.1 171.5,21 176.8,20.9 181.8,20.8 188.8,19.7 188.8,19.8M107.9,128.8 103.8,127.2 96.3,125.2 92.6,122.6 86.5,120.1 80.9,117.7 76,116.3 70.9,114.1 66.8,111.1 64.6,107.8 66.1,101.8 67.9,97.8 70.3,93.6 72.7,88 77.6,81.8 80.1,77.3 83.3,72.4 87.2,69 91.4,65.6 96.4,63.7 99.5,61.2 104.8,58.2 109.3,56.4 114.3,54 116.7,52.7M110.5,131.5 104.6,128.2 100.9,123.4 95.2,121.2 89.5,119.6 82.9,118.5 76.9,116.9 74.6,113.3 75.6,108.8 75.4,102.2 76.1,96.8 77.2,90.3 79.2,85.4 80.2,81.1 82.1,75.4 86.9,71 90.1,66.8 94.7,64.6 98.5,61.3 102.7,57.3 108.6,53.8 114.2,51.1 120.4,48.5 128.8,45.6 133.2,44.1 138.4,43.6 143.5,41.8 151.5,41.6 157.4,39.4 157.4,39.2M109.2,133.6 103.9,129 101.2,124.5 95.9,120.8 91.9,118 85.2,115.8 78.7,115.3 74.6,115.4 70,113.4 68.6,108.1 66.9,103.4 65.5,96.6 65.5,90.7 66.6,85.5 68.6,81.5 73.7,78.4 77.7,75.6 83.3,71.3 87.7,67.4 92.8,62.9 96.8,60.7 101.7,58.5 108.9,55.1 116.2,52.8 124.8,51.7 132.4,49.5 137.8,47.5 137.8,48.6M125.3,129.6 120.1,126.6 115.2,123.9 109.9,121.7 103.9,119.1 98.7,116.9 93.4,116.1 87.9,115.1 83.4,114.4 78.2,113.6 74.4,111.6 74.9,105.6 74.7,98.2 75.7,93.2 75.6,88.3 77.5,83.6 78.9,79.4 80.6,74.3 83.7,70.2 85.4,63.9 88.8,60.1 93.4,55.8 97.7,52.9 102.7,50.7 108,47.6 111.3,46.1M134.6,126.9 130.5,125.4 124.2,123.2 116.9,120.8 109.1,118.6 103.3,116.2 98.6,114 93.7,111.6 88.2,108 84.7,104.7 81.3,102.9 78.1,97.7 78.5,93.1 83.2,91.4 87.1,88.4 92.5,83.9 96.6,81.5 100.6,78.7 106.6,76 110.9,75.8 114.9,74.2 120.6,73.7 125.7,73.2 131.5,72.9 140.5,70.9 145.4,70.1 149.4,70.5 154.8,69.4 160.7,68.3 164.8,68.1 172.2,67.2 174.8,67M137.3,130.9 130.7,129 124.9,127.2 118.7,125 113.1,122.6 107.6,121.7 102.2,119.8 96.2,117.7 91.6,114.3 86.9,114.1 81.7,111.7 77,110 74.1,106.1 73.1,101.9 74.5,96.4 75.6,91.5 76.4,85.6 77.3,82.3 79.9,76.9 81.3,71.5 84.4,66.4 87.4,61.6 89.3,56.8 92.2,53.3 94.9,48.2 97.8,44.2 101.8,40.5 106.6,35.5 113.2,30.7 121.1,27.6 127.6,23.4 133.6,21 136.1,20.1M142.7,126.9 135.5,126 130.2,124.2 122.8,122.7 116.8,121.3 110.1,120.5 104.4,120.2 99.1,117.2 93.4,115.7 88.9,114 83.9,112.2 79,111.3 75.5,108.6 74.2,103.9 75.9,99.2 76.5,94.2 78.7,89.2 81.3,84.5 85,80.3 88.9,76.1 93.2,72.6 96.8,68.6 101.6,64.6 107,61.1 112.7,58.4 119.4,56.1 124.9,52.8 131.9,50.4 140.7,48.4 145.6,47.1 151.7,45.8 156.4,44.8 162.5,43.7 167.7,42.4 174.6,41.9 177.8,41.1M156.9,129.6 152.4,128.8 143.8,127.8 135.8,126.5 127.4,125.3 119.6,124.4 111.9,122.2 104,120.4 96.5,119.8 89.1,119.3 84.7,117.2 79.8,114.4 75.4,112.3 72.3,106.9 73.2,101.4 77.2,96.5 81.7,92.1 87,87.1 90.1,83.1 94.6,80 97.6,77.1 102.2,72.5 106.9,70.1 111.3,66.5 115.5,64.4 121.5,60.9 127.6,57.7 135.6,54.9 140.4,53.3 144.8,53.2 149,51.6 154.1,50.1 161.7,48.2 168.6,46.5 167.4,46.9M168.1,135 161.7,134.2 152.5,133.3 147.4,133.4 142.9,133.6 136.5,131.9 131.9,131.3 126.8,130.9 118.5,129 110.8,127 102.9,125.2 96.3,122.6 90.4,120.1 84.3,118.2 82.2,115.6 77.2,112.1 74,107.6 74.2,101.4 76.5,97.2 78.5,91.8 82.1,87.6 84.8,82.4 87.1,78 89.3,73.6 93.3,68.6 97.5,63.1 102.2,58.4 107.7,55.4 115,50.6 123.3,47.3 131.8,43.4 139.7,40.5 144.3,39.5 148.8,37.5 153.9,37.5 159.7,35.5 165.3,34.4 170.8,34.4 175.3,32.9 182.4,31.9 186,31.2M93.1,135 91.8,130.9 87.6,125.2 84.6,118.9 81.4,116.2 76.6,114.2 76.2,109.2 74.2,104 74.5,100 76.8,96.1 80.7,91.4 82.9,88.6 87.2,83.9 92.2,80.2 96,75.7 100,72.9 103.5,70.6 108.2,67.1 113.1,64.7 117.7,60.8 122.2,59.3 129.2,56.4 135.7,55.3 140.7,54.1 145.8,53.2 147.2,52.9M95.8,134.1 92.5,129.6 90.1,126.3 86.2,123 83.5,119.2 79.7,115.1 76,112.7 72.3,107.4 69.1,103.3 67.3,98.3 68.8,93.8 72.8,88.8 75.9,85.4 79.7,82.3 82.8,78.4 88.3,73.4 93.7,69.2 98.9,65.4 104.1,60.2 108.7,57.7 114.2,56.4 120.2,52.7 125.1,51.6 131.4,50.4 138.9,48.7 144.2,47.8 148.7,46 154.8,44.5 159.6,44.8 163.8,43.1 169.6,43 177.1,40.8 179,40.3M110.5,136.3 106.3,132 102.5,128.5 98.9,124.4 94.2,121.3 89,118.8 83.4,118.5 77.3,119.5 72.1,118.2 68.2,116.2 64.8,112.2 63.5,107.2 64.3,102.5 68.4,96.9 71.7,93.9 75.2,87.9 79.3,83.4 82,79.9 85.5,76.6 90.5,73.6 96.6,68.8 104,66.4 112.2,63.4 120.4,60.6 128.5,58 133.6,56.1 137.7,55.3 143.9,54.4 149.3,52.9 154.3,51.4 158.2,51.2 165.6,49 168.8,48.3M113.2,137.6 107.4,134.2 103.8,131.3 98.3,129 92.2,125.5 88.7,123.9 83.6,119.2 79.5,115.7 75.5,111.9 72.6,106.5 71.3,101.2 71.5,95.2 71.9,90.6 74.6,85.5 77.9,80.2 80.9,77.2 84.4,72.6 88.5,68.5 93,64.8 99,61.2 105.2,58.7 112.9,56.6 120.9,54.2 129.6,52.8 137.9,50.2 142.6,50.4 147.7,49.8 152.7,48.4 158.4,48.3 162.8,47.9 167.6,46.8 175.9,46.1 177.7,45.4M122.6,135.8 116.4,133.4 110.5,131.8 105,129.8 99.9,126.6 94.7,124.5 89.8,121.8 84.8,119.6 80.8,115.9 77.1,111 74.3,106.7 73.1,101 72.5,98.2 74,92.5 76.3,88 79.1,83.3 83.3,78.1 87.3,74.1 89.8,70.5 92.7,66.7 96.7,61.5 101.3,56.8 105.5,53.1 111.1,48.2 115.4,45.2 123.5,41.2 128.9,39.4 133,36.9 139.4,35.3 142.1,33 146.7,32.7 154.2,29 156.3,28.4M137.3,135.8 132.2,134.6 126.3,133.8 119,132.6 110.8,129.8 104.9,129 99.2,127.1 94.3,125.6 89.4,122.8 85.4,121.3 79.5,117.3 75.4,113 73.9,109.1 71,104.9 70.4,100.4 71.6,95.9 73.3,90.3 76.3,86.5 80.6,81.2 85,76.3 90,73.6 94.3,71.5 100.4,69.5 107.4,68.3 114.6,65.9 121.4,64.8 131.3,62.1 136.1,60.5 141.5,59.3 146.8,58.6 152.7,57.2 157,56.6 165,54.8 167.9,54M111.9,141.1 106.5,136.7 101.8,131.7 97.7,126.8 92,122.9 88.8,118.9 82.3,117.9 77.7,116.3 72.9,114 70.7,108.3 70.6,105.4 69.9,100.1 69.8,93.8 71.1,90 72.7,85.5 73.4,80.1 76.3,77.2 78.3,73 83.4,69.4 86.9,68.4 91.8,66.1 98.6,64.8 102.9,64.1 107,61.7 111.6,60.1 113.5,60.8M129.3,139.5 125.2,137.3 118.4,135.8 111.3,133.2 104.5,130.8 98.3,128.2 92.8,126.2 88.2,124.5 83.5,122.5 79.6,117.6 74.9,114.5 72.3,109.2 70.8,104.1 70.5,99.4 71,94.4 71.9,87.6 74,82 76.5,75.6 79.1,71.3 82.3,63.5 85.8,58.5 89.4,53.1 90.8,48.5 93.9,44 95.8,39.7 97.7,34.8 102.4,32.8 107.2,29.3 112.9,26.6 119.6,24 124.7,23.9 128.4,22M138.7,141.1 133.2,138.3 126.6,136.6 119.4,133.3 111.7,130.3 104.1,128.5 99.5,125.7 93.9,123.3 89.8,123.2 84.2,119.5 79.5,116.6 76,112.5 72.6,107.6 73.1,101.5 74.7,95.7 76.5,90 79,86 81.6,82.6 83.7,77.1 86.8,73 88.5,69 92.9,64.1 97.2,62 100.7,57.8 106.6,54.7 112.3,51.7 118.3,48.6 125.7,46.5 135.4,44.6 139.1,43.4 145.8,43.4 151,41.7 155.8,41 159.8,40.4 168.2,38.7 171.1,38.9M86.5,137.3 84.5,132.5 82.7,128.6 80.4,124 78.5,119.7 74.7,120.9 70.6,118 69.7,113.2 69.1,107.4 69.5,103.9 70.2,98 71.2,91.8 72.2,85.5 72.5,79.8 73.3,75.8 73.6,70.7 74.7,66.1 75.9,61.8 77.6,57.4 81.8,52.4 85,48.2 88.5,45 93.4,40.7 98,37.5 101.8,33.7 107.2,33.6 111.7,30.9 117.1,30.2 119.2,29.5M103.8,136.3 99,131.9 97,127.2 92.4,122.9 90.1,118.9 84.7,116.9 79.5,116.7 74.8,114.5 70.2,111.6 68.1,107 66.8,100.2 68.7,94.7 72.3,88.3 73,84.4 76.6,81.6 80,78.2 84.1,73.9 88.8,70.4 92.7,67.6 97.7,64.6 102.1,61 107,59.3 113.6,56 119.1,55 129.3,52.7 132.4,50.8 138.5,50.3 144.3,50.4 149.7,48.7 153.9,48.3 162.5,47.5 165.1,46.8M128.4,104.6 122.8,101.4 118.3,97.4 112.4,94.8 107,91 101.2,89.7 95.7,88.5 89.1,88.1 83.7,88.8 78.3,87.2 73.9,83.4 73.1,78.6 71.8,74.8 71.5,69.5 74.8,67.1 80.8,64.6 86.9,61.5 90.7,60.9 96.3,59.1 102.2,59.1 107.7,58.6 114.1,57.4 120.4,57.3 128,55.8 136.9,55.6 142.6,54.9 148.4,54.1 153.7,53.9 158.6,53.6 163.7,54 171.5,53.2 174.5,52.5M121,135.2 115.8,132.9 109.6,130.4 104.1,129.9 98.7,126.4 93.8,124.6 90.2,123.2 85.2,120.6 78.7,117.1 73.8,113.1 69.2,109.2 65.7,104.2 66,98.8 69.5,95 74.2,90.3 77.1,87.4 81.1,83.6 85.3,79 89.2,74.6 94.6,70.2 100.2,66.6 105.3,63.4 112.6,60.2 118.7,56.7 125.3,53 133.4,50.2 140.2,47.7 144.6,46.9 149.4,45.3 154.5,43.7 158.2,43.3 166.4,40.2 172.4,38.9 172.1,39.6M79.1,112 78.2,106.8 77.2,102.4 73,102 70,99.2 70.8,94.2 73.4,90.1 76.9,85.5 80.5,81.9 86.3,79.1 90.2,75.4 95.1,74.9 100.4,72.6 105.2,69.5 109.5,69.5 115.8,68.5 121.6,67.6 126.2,66.5 132.8,66.2 141.6,65.4 146.8,66.2 150.4,65.9 158.9,65.4 165.3,65.3 168.1,65.5M119.2,104.4 115.5,100.2 110.4,94.7 106.3,89.8 101.6,85.8 97.2,84.9 92.8,85 88.4,84.7 80.9,84.8 76.5,84.8 72.9,82.2 72.1,75.8 73.7,70 77.1,66.1 81.2,60.9 84.9,56.8 88.1,52.5 92.2,48.1 96,43.6 101.1,39 105,36.1 111.1,32.5 116.8,29.2 122.4,26.8 129.4,24.9 136.7,22.8 146,21.5 150.2,21.2 155.1,20.1 159.3,19.8 167.7,18.5 173,18.8 173.7,19M127.3,109 121.4,104.8 116.4,100.4 111,97.1 103.6,93.4 99.4,91.3 95.8,89.1 90.1,88.3 85,88.3 80.9,85.8 77.1,81.3 76.2,76.6 76.4,72.1 77.3,66.8 80.5,61.8 85.5,56.4 89.4,54.1 93.8,50 98.7,47.1 104.1,44.8 109.6,41.2 115,39.9 121.9,36.9 127.4,33.8 134.9,33.1 143.5,29.7 148.9,28.4 153.9,27.2 158.1,26.8 162.3,25.5 169.1,24.8 172,23.6M122.6,103.7 118.2,99.5 113.2,96.6 109.7,92.5 104.1,89.6 100,87.9 94.8,86.1 89.7,85.4 84.4,85.4 79.1,84.2 74.8,80.6 74,75.6 72.2,70.7 74.9,65.8 79.1,62.7 82.5,60.6 88.1,59.4 93,58.6 100.1,58.4 105.4,57 109.9,55.1 115.6,54.3 121.7,52.1 127.3,50.4 134.1,49.8 142.3,48.6 147.7,48.4 152.4,48 157.3,47.6 164.9,47.3 172.4,46.8 171.6,46.9M104.4,134.8 100.1,132.3 95.1,129.9 90.3,127.7 85.9,125 81.6,121 78.6,118 74.7,113 73.1,107.9 74.6,101.2 76.6,97.6 80.4,91.7 82.4,87.7 85.4,81.3 87.4,76.1 90.5,71.9 92.4,68 96.8,64 101.2,59.7 105.3,56.9 109.5,53.7 113.6,50.1 117.8,47 123.5,45 129.1,42.1 134.4,40.8 139.5,36.9 139.9,37.3M87.4,108.5 86.5,103.2 84.6,97 82.1,91.9 79.8,90.3 74.9,91.3 70.9,88 69.5,83.7 69,79 68.2,72.6 70.7,68.3 72.8,65.5 75.4,59.1 77.5,54.9 81.8,52.5 87.1,47.8 91.6,46 96.1,44.4 100.6,43.2 105.9,41.3 112.6,40.7 119.6,40.4 126.7,39.6 131.7,39.2 133.8,39M104.6,110.8 101.8,105.1 98,99.8 94.4,95.1 90.1,93.6 85.4,91.9 79.5,91.5 77.3,89 74.4,83.6 76,78.5 79.3,74.2 84.5,71.6 89.1,72.3 95.2,73.7 102,73.4 106.6,72.7 113.3,71.2 119.2,69.1 126.9,66.3 134.3,65.4 144.2,65 148.9,64.8 153.5,65.1 158.8,65.5 164.6,66.7 169.3,66.6 177.9,66.9 180.4,66.7M77.4,105.3 75.3,100.6 73.3,96.6 70.5,91.2 70.2,87.1 70.9,83.1 71.1,78.4 73.1,73 75.8,68.9 80.1,64.2 84.5,62.1 88.7,59.2 91.6,57.5 95,52.9 99.5,50.6 102.4,48.6 106.5,46.9 112.3,45.1 116.6,43 122.9,41.2 129.5,40.4 135.4,39.7 139.1,39.3M84.7,135.5 84.7,130 83.7,125.4 83,122.1 82.1,117 76.7,115.9 72.1,115.5 70.4,110.3 71,106.5 70.7,99.7 71,95.2 71.8,89 73.2,83.5 75.6,78.6 78.5,74.3 80.2,68.3 82.4,63.7 83.4,59.4 85.9,55.1 91.1,50.4 95.2,47.4 102.2,44.4 105.9,43.2M114.7,133.8 110.3,130.4 106.3,128.3 102.9,124.7 97.8,122.8 92.9,120.4 87.6,120.4 83.2,117.4 80.6,112.9 78.4,108.6 76.8,103.7 78,98.2 80.1,92.2 82.4,87 85.1,83 88.5,77.7 91.3,73.7 94,68.4 97.5,64.9 101.9,60.6 106.3,57.4 112.7,54 117.9,49.6 126,47.4 132.6,45.8 136.6,44.5 142.4,44.1 147.6,43.2 153,42.3 156.3,42.5 162.1,42.3 168.8,41.2 172.4,41.6M85.1,129.4 81.4,126 78.4,122.3 73.8,117.2 70.1,112.6 68,108.3 68.6,103.9 70.7,98.4 70.6,93.2 72.5,87.3 75.9,81.8 79.3,78.2 83.7,74.7 88.5,70.7 93.6,66.6 99.8,63 106.1,60.8 112.7,57.1 121,53.8 129.7,50.9 133.1,50.2 138.9,49.1 144.8,47.5 150.1,48 156.7,46.9 163.4,44.9 169.2,46.5 175.4,45.1 179.9,44.2 187.7,43.4 188.2,43.5M82,119.2 78.7,115.3 74.7,112.3 71.6,109 67.5,109.3 66.9,104.4 67.5,97.4 68,90 67.8,86.1 69.8,81.8 71.5,76.8 73.8,73.9 77.2,69.5 80.5,64.6 84.2,62 88.2,58.5 93.2,53.9 97.8,51.4 103.1,49.3 108.8,45.1 116.8,43.2 121.8,41.8 126.4,40.3 133.2,39.3 138.2,37.9 143.3,35.9 148.4,36.6 151.9,34.7 158.8,33.2 159.3,32.9M112.2,112.4 107.3,110 101.9,107.5 98.1,105.2 93,103.2 87.8,99.9 83.3,98.1 80.7,94.6 77,90.4 74,87 70.8,82.7 71,78.5 72,73.6 73.8,69.4 76.8,65 81.2,62.2 84.7,57.7 88.3,55.2 92.5,51.5 97.5,49 102.5,44.9 108.4,42.5 115.1,39.6 122.8,36.5 130,33.4 137.5,31.4 145.1,29.7 149.7,28.3 155.2,28 159.9,26.9 165.5,26.6 169.4,26.2 177.7,25.3 183.2,24.4 183.5,24.8M125.9,120.2 120.2,117.8 116.6,115.1 110.6,112.4 105,111.3 100.4,109.6 95.6,107.9 90.2,109.4 84.9,109.8 78.7,109.6 74,107.4 69.3,105.5 66.4,100.2 68.4,94.8 70.3,90.3 74.6,85.4 76.4,81.6 79.8,77.9 84.2,76.3 90.3,73.6 94.3,71.1 100.5,70.6 106,66.1 112.9,62.2 118.5,57.3 125.6,53.1 131.6,49 140.1,47.2 145.1,44.7 150.2,44.9 155.4,43.5 160.7,43.1 166.5,42.2 171.4,42.2 179.2,41.1 182.3,40.7M108.9,133.3 104,129.4 97.5,125.9 93,122.5 88.4,120.7 83,119 79.7,116.5 74.8,113.6 71.7,110 72.4,103.8 74.6,100.7 78.2,94.9 81.5,90.8 85.3,86.1 87,80.9 90.9,76.2 94.3,70.9 97.2,65.3 101,61.9 105.1,57 109.3,53.3 113.4,49.2 118.7,46 124.7,41.6 130,38.6 137.2,34.7 143.8,31.4 151.5,27.5 154.9,25 155.5,25.2M81.4,137.7 79.3,132.5 77.6,126.3 76,121.7 70.3,119.4 66.8,119.9 65.9,113.1 67.7,107.7 69.1,104.1 73.7,101 79.3,98 82.9,94.7 87.3,90.1 91.4,86 95.3,81 100.5,76.8 105.7,73.1 112.3,69.7 118.1,67.7 124.8,65 132.5,61.2 140.8,59.4 144,58 149.5,56.7 155.5,54.3 160.1,53.3 165.2,51.9 170.3,51.4 175.6,49.4 180,47.5 186.2,46.2 186.3,46.5M111.8,113.8 107.9,111.3 103.4,106.5 99.3,103.5 94,101.1 87.6,100.4 80.8,100.4 76.5,99.6 72.4,96.7 71.2,91.5 72.6,86.7 75.5,81.5 77.8,76.5 80.6,73.6 83.6,68.6 86,62.9 88.4,57.1 91.2,52.8 93,49.3 95.8,44.8 100.1,41.1 105,38.6 110.1,37.1 116.1,35.3 121.6,32.4 124.7,30.9M121.6,108.6 115.1,108.2 110.6,107.7 104.3,106.7 98.2,105.6 93.2,104.2 88.2,102.2 82.7,100.6 76.7,98.8 71.1,96.1 68.4,93 68.5,86.5 68.9,81.2 69.4,76.7 71.6,71.8 74.4,66.3 78.2,63.5 83.5,58.4 87.2,54.7 92.3,51.8 96.2,47.4 100.6,43.1 105.6,40.3 111.6,37.2 116.4,36.2 124.4,34.4 130.2,34.3 134.3,33 135.8,33.4M132.7,121.1 126.3,116.6 120.8,114.7 114.3,109.8 108,107 103.6,105.7 97.2,104 91.1,103.1 86.6,102.4 81.6,100.6 77.9,97.5 74.5,94.3 75.8,88 79,84.2 83.9,80.4 89.2,77.9 95.5,75.8 99.3,73.7 103.6,71.6 109,69.9 114.8,68.4 120.5,66.7 125.7,65.9 132.4,64.6 139.8,62.8 144.6,62 148.9,60.7 154.1,60.6 158.3,59.4 166.1,58.5 173.3,57.7 172.6,57.9M96.2,128.6 92.1,123.7 89.5,120 86.8,116.4 83.3,112.7 79.2,109.4 75.2,107.7 69,105.5 66.6,99.9 65.7,95.5 65.7,88.7 68.4,84.5 71.4,78.8 75.8,73.3 79.7,69 84,66.6 87.1,63.7 91.5,60.7 95.8,56.6 101.7,54.3 106.1,50 111.8,47.5 119.1,45.3 126.4,43.2 132.1,42.6 138,43 145.4,42.2 150.9,41.6 157.4,43 163.7,42.1 169,41.6 175.9,41.9 176.2,41.7M101,105.1 97.5,101.4 95,96.3 92.6,92.6 89,89.9 85.2,86.1 80.1,84.6 75.6,84.5 70.6,81.9 68.2,75.1 67.1,71.8 69.6,68.7 74.3,67.4 78.4,68.1 83.9,68.4 90.4,66.9 95.1,65.4 100.2,64.8 105.5,64.3 110.9,64.2 117.8,65.9 124.4,67.4 130.6,68.1 134.8,68.5M118.4,99.9 113,98.9 109.3,96.8 104.6,95.6 99.4,93.7 93.4,93.7 88.7,93.3 81.9,92.5 76.6,92.1 72.5,87.8 69.8,83.8 69.2,78.2 72.3,73 73.4,68.8 75.5,64.8 78.7,60.4 82.4,57.3 85.9,52.4 89.7,48.6 93.4,44.9 97.9,41.3 102.2,38 107.8,33.4 112.1,30.5 112.2,29.3M122.8,108.1 117.6,104.3 111.2,100.1 105.9,96 100.3,92.7 94.6,90.7 89.9,90.2 86.8,91.9 80.5,92.1 75.8,91.6 72.1,87.7 70.5,82.2 71.7,78.8 75.5,75.1 79.6,72.6 83.9,72.5 89.8,71 96.5,70.5 102,70.7 104.2,69.9M112.4,137.4 107.5,134.8 103.9,131.8 99.3,128.9 94.6,126.5 89,122.3 84.3,119.3 79.1,116.1 75.8,112.9 72,110.2 68.1,105.9 68.5,101.3 68.8,94.8 70.5,90.1 74.5,86.2 77,82.1 81.8,76.5 86.3,73.9 92.4,69.2 97.9,66.1 103.1,62.3 109.5,59 114.9,54.5 120.9,52.3 128.8,48.7 132.8,47.5 138.4,45.1 145.3,44.2 149.3,42.1 155.9,41.1 161.7,39.9 168.2,38.2 173,38 179.3,35.3 179.7,35.9M109.3,124.5 105.2,120.7 100.5,116.2 94.8,112.9 88.9,111.6 83.5,111.3 78.4,110.6 74.4,107 74.3,101.4 74.7,95.9 74.7,89.5 76.4,84.1 77.9,79.5 80.9,74.2 83.5,68 86.6,61.3 91.5,55.9 96,50.8 101.2,46.9 107.8,43.2 114.5,41.7 122.2,39.9 131.7,36.8 135.5,36.3 140.2,35.9 145.9,35.4 152.3,33.6 157.8,33.1 164,33.3 170.6,32.5 175.5,31.7 180.5,31.4 188.8,30.9 189,30.6M93.4,98.1 88.2,96.2 82.7,93.5 78.8,91.3 76.8,85.2 74.9,81.3 74.1,76.2 76.9,71.8 82.3,67.9 87.4,66.6 92.2,63.4 99.3,61.1 104.2,59.7 110.2,58 115.4,56.9 120.7,54.8 127.3,54.1 134.9,52.9 139.4,51.3 145.3,51.8 151.4,50.3 157.7,49.1 163.2,47.4 170.1,46.8 175.5,46.6 181.6,46.3 188.1,44.3 188.9,44.4M77.3,104 73.9,100.2 73.3,95.4 74.3,89.5 74.1,85.4 75,80.4 76,75.3 76.4,70.9 76.8,65.8 78.8,60.5 80.2,55.8 83.9,51.3 87,47.3 90.8,45.1 95.7,43.2 100.9,43.1 108.4,40.5 113.1,38.4 120.3,35.7 125.4,34.2 129.7,32.2 131.5,31.7M111,115.3 107.1,113.2 100.4,110.5 95.4,108.3 92.4,106.7 85,103.2 82.5,100.9 75.8,98.2 72.1,93.4 69.9,88.3 69.5,82.5 69.2,76.4 72.6,73.1 76.2,70 81.1,67.7 85.3,65.5 91.1,65.2 97.2,65 103.4,63.6 108.5,63.2 115.7,62.4 124,61.4 130,60.6 138.4,58.8 148,58.2 152.3,57.7 160.3,56.5 167,54.7 169.2,53.8M105,133.8 99.9,130 95.6,125.6 91,121.8 87,118.1 80.5,116.3 77.2,113.9 71.1,111.6 68.4,109 65.4,104.1 63.8,98.5 65.1,92.5 66.3,87.6 66.7,82.7 69.7,77.3 72.1,72.9 75.7,69.2 80.6,67.7 84.9,64.4 90.5,61.4 95.4,60.1 100,59 106.3,57.9 111.3,57.6 114.3,56.6M78.3,112 75.5,108 71.6,102.7 69.6,97.2 67.6,91.6 66.9,85.6 66.3,78.8 65.7,73 67.8,67.2 67.8,60.8 68.7,54.9 69,49.8 68.9,44.4 69.4,39.7 69.6,35.3 70.1,35.1M93.3,117 89.7,113.6 86.2,111.4 82.2,107.8 78.6,104.6 76.3,99.1 74.9,93.8 72.8,89.4 70.6,85 71.7,80.4 72.3,74.9 73.6,69.1 76.3,65.7 78.5,61.9 81.3,55.7 84.4,52.1 86.3,48.2 90.4,44.1 92.8,41.1 94.3,37.6 97.3,33.8 99.7,29.8 103.8,22.5 104.8,18.7 107.9,15.5 110.8,14.5 111.3,15" fill="none" stroke="#0a0a0a" stroke-width="0.95" stroke-linejoin="round" stroke-linecap="round"/><g fill="#f00"><circle cx="137.3" cy="88.6" r="1.4"/><circle cx="69" cy="102" r="1.4"/><circle cx="93.1" cy="103.6" r="1.4"/><circle cx="99.8" cy="105.5" r="1.4"/><circle cx="110.5" cy="97.4" r="1.4"/><circle cx="111.9" cy="101.5" r="1.4"/><circle cx="115.9" cy="100.1" r="1.4"/><circle cx="118.6" cy="98.8" r="1.4"/><circle cx="123.1" cy="103.6" r="1.4"/><circle cx="126.6" cy="106.3" r="1.4"/><circle cx="77.1" cy="112.2" r="1.4"/><circle cx="83.7" cy="111.6" r="1.4"/><circle cx="94.5" cy="111.6" r="1.4"/><circle cx="98.5" cy="112.2" r="1.4"/><circle cx="106.5" cy="109" r="1.4"/><circle cx="113.2" cy="114.9" r="1.4"/><circle cx="121.3" cy="114.9" r="1.4"/><circle cx="130.6" cy="113.5" r="1.4"/><circle cx="138.7" cy="114.3" r="1.4"/><circle cx="141.9" cy="114.9" r="1.4"/><circle cx="79.7" cy="119.7" r="1.4"/><circle cx="82.4" cy="120.8" r="1.4"/><circle cx="90.4" cy="121.6" r="1.4"/><circle cx="93.1" cy="118.9" r="1.4"/><circle cx="101.2" cy="120.8" r="1.4"/><circle cx="109.2" cy="124.2" r="1.4"/><circle cx="117.2" cy="122.4" r="1.4"/><circle cx="119.9" cy="120.2" r="1.4"/><circle cx="127.9" cy="124.2" r="1.4"/><circle cx="143.5" cy="122.9" r="1.4"/><circle cx="154.7" cy="125" r="1.4"/><circle cx="174" cy="119.7" r="1.4"/><circle cx="74.4" cy="130.4" r="1.4"/><circle cx="79.7" cy="130.9" r="1.4"/><circle cx="83.7" cy="128.8" r="1.4"/><circle cx="93.1" cy="128.3" r="1.4"/><circle cx="95.8" cy="129.6" r="1.4"/><circle cx="101.2" cy="129.6" r="1.4"/><circle cx="107.9" cy="128.8" r="1.4"/><circle cx="110.5" cy="131.5" r="1.4"/><circle cx="109.2" cy="133.6" r="1.4"/><circle cx="125.3" cy="129.6" r="1.4"/><circle cx="134.6" cy="126.9" r="1.4"/><circle cx="137.3" cy="130.9" r="1.4"/><circle cx="142.7" cy="126.9" r="1.4"/><circle cx="156.9" cy="129.6" r="1.4"/><circle cx="168.1" cy="135" r="1.4"/><circle cx="93.1" cy="135" r="1.4"/><circle cx="95.8" cy="134.1" r="1.4"/><circle cx="110.5" cy="136.3" r="1.4"/><circle cx="113.2" cy="137.6" r="1.4"/><circle cx="122.6" cy="135.8" r="1.4"/><circle cx="137.3" cy="135.8" r="1.4"/><circle cx="111.9" cy="141.1" r="1.4"/><circle cx="129.3" cy="139.5" r="1.4"/><circle cx="138.7" cy="141.1" r="1.4"/><circle cx="86.5" cy="137.3" r="1.4"/><circle cx="103.8" cy="136.3" r="1.4"/><circle cx="128.4" cy="104.6" r="1.4"/><circle cx="121" cy="135.2" r="1.4"/><circle cx="79.1" cy="112" r="1.4"/><circle cx="119.2" cy="104.4" r="1.4"/><circle cx="127.3" cy="109" r="1.4"/><circle cx="122.6" cy="103.7" r="1.4"/><circle cx="104.4" cy="134.8" r="1.4"/><circle cx="87.4" cy="108.5" r="1.4"/><circle cx="104.6" cy="110.8" r="1.4"/><circle cx="77.4" cy="105.3" r="1.4"/><circle cx="84.7" cy="135.5" r="1.4"/><circle cx="114.7" cy="133.8" r="1.4"/><circle cx="85.1" cy="129.4" r="1.4"/><circle cx="82" cy="119.2" r="1.4"/><circle cx="112.2" cy="112.4" r="1.4"/><circle cx="125.9" cy="120.2" r="1.4"/><circle cx="108.9" cy="133.3" r="1.4"/><circle cx="81.4" cy="137.7" r="1.4"/><circle cx="111.8" cy="113.8" r="1.4"/><circle cx="121.6" cy="108.6" r="1.4"/><circle cx="132.7" cy="121.1" r="1.4"/><circle cx="96.2" cy="128.6" r="1.4"/><circle cx="101" cy="105.1" r="1.4"/><circle cx="118.4" cy="99.9" r="1.4"/><circle cx="122.8" cy="108.1" r="1.4"/><circle cx="112.4" cy="137.4" r="1.4"/><circle cx="109.3" cy="124.5" r="1.4"/><circle cx="93.4" cy="98.1" r="1.4"/><circle cx="77.3" cy="104" r="1.4"/><circle cx="111" cy="115.3" r="1.4"/><circle cx="105" cy="133.8" r="1.4"/><circle cx="78.3" cy="112" r="1.4"/><circle cx="93.3" cy="117" r="1.4"/></g><text transform="translate(6.3,15.6) scale(1.03,1)" class="tt" xml:space="preserve">c.Middle turn</text><text transform="translate(6.3,28.7) scale(1.03,1)" class="tt">N:91</text><rect x="0" y="0" width="13.9" height="1.6" fill="#000"/><rect x="13.9" y="0" width="13.9" height="1.6" fill="#d6d6d6"/><rect x="27.8" y="0" width="13.9" height="1.6" fill="#000"/><rect x="41.7" y="0" width="13.9" height="1.6" fill="#d6d6d6"/><rect x="55.6" y="0" width="13.9" height="1.6" fill="#000"/><rect x="69.5" y="0" width="13.9" height="1.6" fill="#d6d6d6"/><rect x="83.5" y="0" width="13.9" height="1.6" fill="#000"/><rect x="97.4" y="0" width="13.9" height="1.6" fill="#d6d6d6"/><rect x="111.3" y="0" width="13.9" height="1.6" fill="#000"/><rect x="125.2" y="0" width="13.9" height="1.6" fill="#d6d6d6"/><rect x="139.1" y="0" width="13.9" height="1.6" fill="#000"/><rect x="153" y="0" width="13.9" height="1.6" fill="#d6d6d6"/><rect x="166.9" y="0" width="13.9" height="1.6" fill="#000"/><rect x="180.8" y="0" width="13.9" height="1.6" fill="#d6d6d6"/><rect x="194.7" y="0" width="4" height="1.6" fill="#000"/><rect x="0" y="159" width="13.9" height="1.6" fill="#d6d6d6"/><rect x="13.9" y="159" width="13.9" height="1.6" fill="#000"/><rect x="27.8" y="159" width="13.9" height="1.6" fill="#d6d6d6"/><rect x="41.7" y="159" width="13.9" height="1.6" fill="#000"/><rect x="55.6" y="159" width="13.9" height="1.6" fill="#d6d6d6"/><rect x="69.5" y="159" width="13.9" height="1.6" fill="#000"/><rect x="83.5" y="159" width="13.9" height="1.6" fill="#d6d6d6"/><rect x="97.4" y="159" width="13.9" height="1.6" fill="#000"/><rect x="111.3" y="159" width="13.9" height="1.6" fill="#d6d6d6"/><rect x="125.2" y="159" width="13.9" height="1.6" fill="#000"/><rect x="139.1" y="159" width="13.9" height="1.6" fill="#d6d6d6"/><rect x="153" y="159" width="13.9" height="1.6" fill="#000"/><rect x="166.9" y="159" width="13.9" height="1.6" fill="#d6d6d6"/><rect x="180.8" y="159" width="13.9" height="1.6" fill="#000"/><rect x="194.7" y="159" width="4" height="1.6" fill="#d6d6d6"/><rect x="0" y="0" width="1.6" height="16.1" fill="#d6d6d6"/><rect x="197.1" y="0" width="1.6" height="16.1" fill="#000"/><rect x="0" y="16.1" width="1.6" height="16.1" fill="#000"/><rect x="197.1" y="16.1" width="1.6" height="16.1" fill="#d6d6d6"/><rect x="0" y="32.1" width="1.6" height="16.1" fill="#d6d6d6"/><rect x="197.1" y="32.1" width="1.6" height="16.1" fill="#000"/><rect x="0" y="48.2" width="1.6" height="16.1" fill="#000"/><rect x="197.1" y="48.2" width="1.6" height="16.1" fill="#d6d6d6"/><rect x="0" y="64.2" width="1.6" height="16.1" fill="#d6d6d6"/><rect x="197.1" y="64.2" width="1.6" height="16.1" fill="#000"/><rect x="0" y="80.3" width="1.6" height="16.1" fill="#000"/><rect x="197.1" y="80.3" width="1.6" height="16.1" fill="#d6d6d6"/><rect x="0" y="96.4" width="1.6" height="16.1" fill="#d6d6d6"/><rect x="197.1" y="96.4" width="1.6" height="16.1" fill="#000"/><rect x="0" y="112.4" width="1.6" height="16.1" fill="#000"/><rect x="197.1" y="112.4" width="1.6" height="16.1" fill="#d6d6d6"/><rect x="0" y="128.5" width="1.6" height="16.1" fill="#d6d6d6"/><rect x="197.1" y="128.5" width="1.6" height="16.1" fill="#000"/><rect x="0" y="144.5" width="1.6" height="16.1" fill="#000"/><rect x="197.1" y="144.5" width="1.6" height="16.1" fill="#d6d6d6"/></svg><line x1="13.9" y1="160.6" x2="13.9" y2="163.1" stroke="#222" stroke-width="0.8"/><text x="-2.1" y="169.5" class="lb">100.00<tspan class="dg" dy="-5.4">o</tspan><tspan dy="5.4">E</tspan></text><line x1="69.5" y1="160.6" x2="69.5" y2="163.1" stroke="#222" stroke-width="0.8"/><text x="53.5" y="169.5" class="lb">128.00<tspan class="dg" dy="-5.4">o</tspan><tspan dy="5.4">E</tspan></text><line x1="125.2" y1="160.6" x2="125.2" y2="163.1" stroke="#222" stroke-width="0.8"/><text x="109.2" y="169.5" class="lb">156.00<tspan class="dg" dy="-5.4">o</tspan><tspan dy="5.4">E</tspan></text><line x1="180.8" y1="160.6" x2="180.8" y2="163.1" stroke="#222" stroke-width="0.8"/><text x="164.8" y="169.5" class="lb">176.00<tspan class="dg" dy="-5.4">o</tspan><tspan dy="5.4">W</tspan></text><line x1="-2.3" y1="16.1" x2="0" y2="16.1" stroke="#222" stroke-width="0.8"/><text transform="translate(-3.2,14.1) rotate(-90)" class="lb" text-anchor="middle">58.00<tspan class="dg" dy="-5.4">o</tspan><tspan dy="5.4">N</tspan></text><line x1="-2.3" y1="80.3" x2="0" y2="80.3" stroke="#222" stroke-width="0.8"/><text transform="translate(-3.2,78.3) rotate(-90)" class="lb" text-anchor="middle">30.00<tspan class="dg" dy="-5.4">o</tspan><tspan dy="5.4">N</tspan></text><line x1="-2.3" y1="144.5" x2="0" y2="144.5" stroke="#222" stroke-width="0.8"/><text transform="translate(-3.2,142.5) rotate(-90)" class="lb" text-anchor="middle">2.00<tspan class="dg" dy="-5.4">o</tspan><tspan dy="5.4">N</tspan></text></g><g transform="translate(239.8,188.1)"><svg x="0" y="0" width="199" height="160.5" viewBox="0 0 199 160.5" overflow="hidden"><rect width="199" height="160.5" fill="#fff"/><path d="M0,0 0,102.5 1.2,104.6 2.6,106.8 3,109.4 2.6,112.4 3.6,112.8 5,112.8 6.4,111.4 7.8,110.3 9.2,111.4 9.6,114.2 10.3,117.9 11.1,121.5 10.9,125 10.5,130.2 11.7,131.2 13.5,133.9 14.5,136.7 15.5,139.9 16.5,142.2 18.5,144.2 20.9,146.1 22.5,145.6 21.1,142.6 20.5,140.1 20.7,138 18.5,135 16.5,133.2 14.9,132.5 13.9,129.8 13.7,127.9 12.3,125.4 13.1,122 13.8,120.1 13.9,118.3 14.9,118.1 15.9,119.9 18.5,121.1 19.7,123.4 20.9,124.7 22.9,125.2 23.5,129.3 24.3,129.1 26.5,127.3 28.1,125.3 29.9,124.3 31.6,123.1 32.2,121.1 32.7,119.5 32.4,117.4 31.6,114.2 30.2,112.2 28.3,110.3 27.1,108.2 25.5,106.2 25.9,103.6 27.1,102.3 28.3,100.9 29.9,99.7 32,99.7 33.2,100 33.6,102.5 34.4,102.5 34.8,100.4 36.2,99.7 38.2,99.1 40.8,98.1 42.2,97.9 43.8,97 47.2,95.6 48.8,94.2 49.9,92.9 51.7,91.3 52.7,89.4 53.7,87.8 55.1,85.3 56.7,83.5 57.5,80.5 55.7,79.6 57.5,78 57.3,76.4 55.5,74.3 54.5,71.1 52.5,69.5 54.3,66.7 55.7,65.1 58.1,64.4 58.9,63.3 56.7,63.1 55.1,62.4 52.7,63.7 52.1,62.4 50.1,60.8 49.2,59.6 50.7,59.2 52.7,57.8 54.7,56.4 56.1,55.3 58.1,55.5 57.5,57.3 56.7,58.5 56.1,60.1 58.3,58.9 60.7,57.8 62.3,57.6 63.7,58.2 64.3,60.3 63.1,61.7 65.7,62.6 66.9,63.2 66.7,65.3 66.9,67 66.3,68.8 66.3,70.2 68.7,69.7 70.6,69 71.6,68.6 72.4,67.6 72.6,66.5 72.4,64.2 70.8,61.4 68.7,58.9 68.9,57.8 71,56.6 73,55.5 73.2,53.2 75,52 77.4,50.2 78.6,50.9 79.4,50.9 81.4,50.7 83.8,48.8 86.8,46.1 89.4,43.1 90.7,40.6 94.1,36.7 94.5,33.2 95.1,31 96.1,28.7 95.9,27.7 96.7,26.8 93.5,25.2 90.9,25.2 88.6,25.2 87.6,24.1 84.2,23.6 87.6,21.8 89.9,19.5 94.5,15.6 97.5,13.8 99.9,12.8 105.5,13.1 109.5,13.1 115,12.4 118.4,13.3 121.8,13.5 122.4,12.4 124.4,10.8 128.4,7.3 132.3,7.3 134.3,9.2 136.3,8 140.3,5.7 139.3,7.3 138.3,9.2 135.3,11 132.9,13.5 129.3,16.1 126.8,18.3 125.4,21.1 124.6,24.1 125,27.5 125.8,29.8 126.8,32.3 128.4,31 130.5,27.7 132.9,26.4 133.3,25 137.1,23.4 136.1,21.8 139.9,20.4 138.1,19.5 139.7,16.5 138.3,15.8 140.3,14.2 142.3,12.4 144.3,11.5 147.3,10.8 153.8,11.7 157.2,10.1 162.2,7.3 167.2,5.5 171.3,6.2 172.1,4.6 170.1,2.3 168.2,0.7 170.1,0.9 172.7,0ZM178.1,0 182.3,0.5 185.1,0.9 188.3,1.4 189.4,0.7 190.2,0ZM97.5,43.6 97.3,41.3 97.5,39 97.7,35.5 97.9,32.1 96.9,29.1 97.1,26.4 98.1,24.5 98.9,24.3 99.9,27.1 99.9,29.8 100.5,32.1 101.5,35.5 102.9,37.6 99.7,36.2 99.1,40.1 100.5,42.4 100.3,43.6 98.9,42.2ZM97.3,44.7 98.5,45.9 100.5,47.7 104.1,47.5 103.7,49.1 105.1,49.5 102.3,50.4 99.9,53 97.9,51.8 96.7,51.4 95.5,52 94.9,53.2 93.9,54.1 93.5,52.7 93.1,51.6 94.3,49.8 96.1,50 96.7,47.5 96.9,45.9ZM95.3,53.9 96.3,54.1 96.5,56.2 97.5,58.2 96.5,61.2 95.5,61.4 95.5,64.2 94.9,65.8 95.3,67.2 93.3,69 93.1,67.6 92.7,68.3 91.1,69.7 89.9,69.7 87.6,69.7 86.8,69.5 87.2,70.4 85.2,72.5 83.8,71.1 84.4,69.7 84,69.5 81.6,69.7 78.6,70.4 75.4,71.2 76.6,69.9 78.6,68.3 79,67.6 81.6,67.5 84.2,67.2 85.2,67.6 85.8,67.2 86.8,65.3 88.2,63.1 87.6,64.7 89.5,64.2 91.5,62.1 92.7,60.5 93.3,58 93.5,56.2 94.1,54.6 94.9,55.3ZM77.6,72.7 79.4,74.1 82,72.8 82.8,71.5 82.2,70.4 80.6,70.2 79.4,70.8 78.4,71.5ZM75.4,71.3 76.6,72.7 77,74.5 76.4,75.9 74.9,78 74.6,76.6 74,77.3 74,75.4 73.2,74.1 72.6,72.7 74.4,72ZM56.7,91 57.7,91.7 57.3,94 56.5,96.3 55.4,98.8 54.3,97.4 53.9,96.3 54.1,94 55.1,92.6 55.7,91.5ZM31,105 32.4,107.1 32.8,107.3 34.8,105.9 35.8,104.1 35.2,102.9 34.4,103.1 32.4,103.4 31.2,104.3ZM54.9,106.6 55.7,106.4 58.1,106.6 58.5,109.6 57.9,111.9 56.9,112.8 57.1,115.3 57.7,116.7 59.1,116.2 60.1,117.6 61.9,119.2 61.7,120.4 60.3,119.2 58.7,117.9 57.3,117.2 55.7,117.6 54.9,116.5 55.5,115.6 54.5,115.8 53.7,114.6 53.7,111.9 54.5,111 54.5,108.9ZM54.3,118.1 56.7,118.8 56.1,121.1 54.7,120.6ZM57.7,122 59.5,122.7 58.9,125 57.7,125 57.5,122.9ZM59.7,124 60.7,125 60.1,128.2 58.9,127.3 58.5,125ZM61.5,123.4 61.9,125.2 60.5,127 60.9,125ZM61.7,125.9 62.9,126.6 61.5,127ZM62.3,120.1 64.7,121.1 65.1,123.8 63.7,123.4 64.1,126.1 63.3,126.1 62.3,122.7ZM52.3,122.9 53.3,125 51.3,126.6 48.4,129.8 48,129.5 49.8,127.3 51.9,124.7ZM57.7,133.2 58.1,131.2 60.3,130.7 61.3,129.1 63.1,129.5 64.7,126.6 66.1,127.9 66.9,132.3 66.1,134.6 64.9,133 64.5,136.2 64.1,135.5 61.7,134.6 62.1,132.5 60.7,131.4 58.7,131.8ZM47.8,133 49.9,135.7 52.3,137.3 50.3,139.2 49.2,139.4 49.6,142.2 49.8,144.5 51.5,146.7 49.6,147.2 48.8,149 47.8,151.3 46.8,154.8 46.2,157.7 45.8,158.2 43,157.7 39.8,156.4 37.2,155.9 34.4,155.7 33.8,153.2 32.2,150.2 32.4,149 31.6,146.7 33,144.2 34.4,145.4 36.4,144 36.8,143.1 39.8,141.7 41.8,138.9 43.8,137.6 44.8,136.4 46,135.3 47.4,133.2ZM4.6,136.2 9,137.1 11.3,140.3 14.7,144 16.9,145.4 19.9,147.9 21.5,151.3 22.9,153.6 25.5,155.9 25.7,161 22.3,161 18.5,157.7 14.6,151.2 11.9,144.9 11.5,145.1 6.2,139.6ZM64.1,145.4 62.5,148.1 59.7,148.1 56.7,147.9 54.9,147.9 54.1,147 55.3,146.3 54.1,149 53.3,150.9 52.3,152.5 51.3,155 52.5,157.1 52.9,159.4 52.5,161 54.5,161 54.5,157.1 54.9,155.7 56.3,158.2 56.7,159.8 59.3,161 59.9,158.7 58.1,156.4 56.3,153.4 58.7,151.3 60.7,151.1 57.1,151.1 54.3,152 54.5,150.2 56.7,148.3 60.7,147.2 62.9,146.3ZM69.7,144 70.8,145.6 70,146.5 71.2,147.7 69.7,148.3 71.4,149.7 70,150.9 68.9,149 69.3,146.7ZM69.7,155.5 75.2,155.9 75.2,157.7 70.6,157.1ZM65.7,156.1 68.1,156.4 67.5,158 65.9,157.5ZM75.6,151.8 77.6,150 79.6,150.6 81.8,151.1 82.2,153.6 83.6,156.6 84.6,156.8 86.4,154.1 88,152.7 89.9,152.9 93.1,154.5 94.9,154.8 97.3,155.7 100.5,157.1 102.5,158 104.5,159.4 105.3,161 84.6,161 81.6,158.2 79.6,158.2 78,155.7 77.6,154.5 79.6,154.3 80.6,154.5 78.6,152.5 76.2,152.5ZM114.4,154.8 117.4,156.6 119.4,159.6 118.8,161 117,158.9 115,155.9ZM109.8,161 112.4,160.5 113.8,161 116.4,158.7 118,158.9 118,161ZM68.9,89.2 70.2,87.6 69.7,87.4 69.1,88.3ZM72,84.6 73,83.7 72.4,83.7ZM144.7,22.2 146.5,23.6 145.5,22.2ZM190,3.7 194,4.1 195.6,4.6 193,4.8 190.6,4.4ZM104.5,48.8 106.7,47.2 105.5,47.7ZM107.3,46.3 111.2,44.7 109.5,45.4ZM112.4,44 114.4,43.1 113.4,43.8ZM116.4,41.7 118,40.8 117.2,41.3ZM119.4,39 122,37.4 120.4,38.1ZM122.6,36 126.4,32.6 124.6,34.4ZM158.2,27.7 160.2,27.7 159.6,28ZM167.8,30 168.8,29.6 168.4,30ZM176.1,30 181.1,30.3 179.1,30.7ZM182.1,29.3 185.5,29.8 184.1,30ZM190,28 194,27.5 192,28.2ZM195,26.4 200,26.1 197,27.3Z" fill="#cbcbcb"/><path d="M13.9,0V160.5M69.7,0V160.5M125.4,0V160.5M181.1,0V160.5M0,16.1H199M0,80.3H199M0,144.5H199" stroke="#000" stroke-opacity="0.1" stroke-width="1" fill="none"/><path d="M111,92.2 107.1,90.3 100.3,88.6 94.1,85.8 86.8,83.6 80.1,82.5 75.8,81.7 68.8,81.3 63.8,81.1 58,80.9 53.6,81.5 48.5,79.5 46.6,76 49.1,70.8 53,67.5 56.8,62.7 61.3,59.4 64.6,56.1 68.2,52.5 71.9,50.2 76.1,47.7 83,44.5 87,42 90.9,41M67.3,102.8 64.9,98.8 63,94.7 59.3,93.3 62.5,87.9 63.8,83.4 66,77.4 68.2,73.6 71.9,68.7 74.6,64.9 78.3,59.6 82.7,55.9 85.9,52.8 90.7,48.8 95.3,46.7 101.3,45 106.2,43.2 112.2,42.3 118.4,40 125.9,35.1 129.4,34 134.5,32.6 142.1,29.4 148.1,26.7 150.4,25.8M80.8,104.5 76.3,101.7 72.8,99.8 68.9,96.2 63.9,93.6 58,91.7 54.3,89.8 49.3,88.4 44.7,85.6 40.1,83.1 38.5,78.1 42.8,76.3 50.2,75.4 54.7,74.9 59.7,73.3 64.6,72.3 70.5,71.5 77.2,72.2 80.8,72.3 86.1,73.3 91.6,73.5 95.6,74.1 100.5,74.1 106.1,72.9 110.7,72.4 117.1,70.9 118.5,70.9M89.4,106.5 85,102.7 82.1,99 78.1,95 74.3,91.1 68,89.9 63,89.6 58.7,88.9 51.3,89.3 47,85.8 45.4,80.4 47.2,75.3 51.1,72.4 55.2,69.4 57.8,65.6 60.9,60.3 66.3,54.6 69.8,52.3 74.3,50.2 79.6,45.9 86.3,42.6 92.8,40.3 100,37.2 106.4,37.2 113.9,36.4 122.4,34.5 129.5,35.4 134.7,35.1 137.1,35.2M92.4,106 86.9,105.1 83.1,102.5 78.4,101.7 73.2,99.8 68.7,98.6 63.7,97.8 57.9,96.6 54.3,91.8 56.1,87 57.6,81.2 59,78.6 63.6,72.8 66.6,68.2 71.8,63.2 77,60 80.7,58.2 84.8,55.8 89.3,55.1 95.2,52.7 100.7,51.3 108.1,49.7 113.7,49.8 119.2,48.1 123.5,48.2 129.3,47.6 133.9,46.9 141.7,46.7 144.3,45.5M75.9,108.9 71.5,105.3 67.6,103.5 61.9,103.5 58,101.7 55.7,98.2 56.5,92.3 56.9,88.5 61.8,84.5 65.3,81.4 71,79.4 75.7,75.9 80.4,72.8 86.6,70.5 92.3,70.3 98.2,70.2 102.4,70.1 108.1,68.4 107.7,68.6M68.5,112.6 65.8,106.5 62.8,101.1 60.4,96.6 56.7,94.2 54,91.2 50.4,87.9 51.4,81.7 55.5,78.1 59.2,75.8 63.9,72.5 68.3,70.6 73.4,68.1 79.7,66.5 83.5,65.1 89,63.3 95,62 102,60.5 109,57.6 117.4,54.9 124.5,53.9 133.8,52 137.5,51.6 142.6,50.7 147.3,50.7 151.5,49.6 159.7,48.3 164.5,48 164.9,48.8M79.6,114.3 75.3,109.8 71.2,105.1 68.4,100.9 64.5,98.1 63.4,93.5 60.7,87.8 60.5,84.1 59.4,77.7 59.3,74 64.7,68.8 67.3,64.8 70.5,60.7 74.3,56.9 77.8,53.6 82.2,50.9 88.2,46.1 92.4,44.2 98.4,41.4 105.9,38.5 111.1,35.8 115.3,34.6 119.3,33.2 123.9,30.8 132,29.3 133.5,28.4M83.3,117.5 79.6,113.9 75.9,109.9 73.5,106.6 67,103.1 63.8,101.3 57.6,102.3 53.2,100.2 49.4,97.3 53.2,92.1 56.5,89.1 60.7,86.2 63.9,82.4 67.4,79.6 71.3,75.9 73.6,72.3 78.2,68.2 81.7,65.3 87.5,61.3 91.6,57.4 97.2,54.3 102,51.5 108.3,48.2 114.1,45.7 121,43.8 128.8,43 135.7,42.2 142.3,40.4 143.8,40.4M84.5,120 79,115.7 74.3,113.2 69,109.9 62.6,107.5 55.6,106.2 50.6,104.1 46.2,102.3 41.3,98.6 42.3,94.7 45.9,90.6 50.6,88 55.1,85.2 58.9,81.8 62.9,76.8 67.3,73 72.3,68.4 77.3,66.1 82,64.6 87.7,62.9 91.6,60.8 98.4,59 104.7,58.1 110.5,55.5 115,54.2 116.4,53.7M90.7,118.3 85.3,115.5 79.8,112.2 75.3,109.7 70.6,108.2 64.9,105.5 61.2,104.7 57.4,100.1 55.7,96 54.7,90.3 56.8,85.2 59.2,79.7 61.5,74.9 62.7,70.6 66.3,65.6 68.1,61.5 71.6,57.2 74.9,52.6 78.1,48.6 83.5,45.2 87.7,40.7 91.7,36.6 97.2,32.2 103.2,28.7 108.6,24.9 114.3,20.1 117.5,18.7M98,116.3 93.6,114.3 86.6,112 83.8,110.2 77.7,108.7 72.3,107.5 67.3,107.3 61.3,104.4 60.1,100.5 58.9,95 58.3,89.5 60,84.4 64.1,79.2 69,75.1 72.4,72.5 77.3,68.8 81.9,66 88.3,61.9 94.6,60.1 102.5,56.5 109.9,53.9 116.6,51.4 126.3,48.3 130.2,47.6 134.9,46.4 139.6,44.5 144,43.3 148.2,41.7 156.8,39.7 162.5,38.6 162.4,38.7M106.6,115.8 101.1,114.7 95.8,112.8 90.3,111.9 85.6,111.2 79.5,109 74.5,109.2 69.2,108.6 65.1,108 59.6,106.3 54.9,106.6 52.9,103.5 54.2,98.6 56.6,94.3 60.4,90.3 63,87.2 68.4,84.2 71.5,80.3 75.1,77.6 81.7,74.4 84.9,71.5 85.6,71M108.6,115.8 103.4,112.9 99.3,108.9 94.7,104.5 89.5,101.4 85.7,99.3 81.1,98.6 76.2,98.1 71.4,97.5 65.3,95.5 59.7,93.2 55.7,89 55.6,84.1 57,80 59.8,74.4 63.8,71.6 67,67.3 69.8,64.8 73.9,61.9 77.1,58.8 81.5,55.1 85.2,53.5 90.5,49.2 95.2,45.9 100.7,43.4 103.9,40 109.6,37.5 114.3,35.2 120.3,32.7 125.5,30.2 130.6,27.5 133,25.9M102.9,120 98.1,120.1 93.5,119.4 89.4,119.6 83.9,118 77.4,117.4 72.1,115.3 68,114.6 63.5,112.2 59.7,109.5 57.2,105.4 56.1,100.5 59.3,95.4 61.3,91.7 65.8,88.5 69.9,84.6 75.1,82.1 79.8,79 86.6,76.5 93,74 101.3,71 109,69.5 116.8,67.5 125.4,66.3 130.4,65.4 135.9,65.7 140.1,65.3 148.7,64 154.4,64.2 153.7,64.4M112,120 105.2,116.6 99.3,114.1 93.7,110.9 87.8,108.6 82.5,107.9 77.6,106 73.3,106.4 67.2,105.6 62.3,103.6 58.9,99.9 60.8,95.8 65,93.5 69.3,90.2 73.5,87.3 77,83.4 81.6,79.7 86.1,76.7 92.1,73 97.3,70.3 103,67.6 108.6,64.9 115.5,61.6 121.9,59.9 131.5,56.8 134.4,56.3 139.6,54.7 144.7,53.7 149.4,51.9 153.6,50.2 160.7,47.9 163.2,47.2M115.2,120.7 109.2,118.7 102.4,115.3 95.8,113.1 89.7,110.3 83.3,109.6 79.4,107.7 73.8,107.3 69.6,105.9 63,103.6 59,99.6 54.3,95.3 52.5,89.7 51.9,85.2 52.3,80.5 54.5,75.8 57.1,71.1 60.3,65.8 65.1,62 68.2,58.9 73.5,56.1 77.6,53.5 83.5,50.8 92,48.1 98.2,46.4 107.5,45.7 112.3,44 117.3,44.3 123.5,42.9 129.7,42 134.5,41.3 140,41.4 145.2,40.4 151.4,39.3 151.6,39.9M137.3,118.3 131.3,117.6 122.9,114 118.4,112.9 113.2,112.1 107.1,110.1 102.6,109.5 98,108.1 88.9,106.8 81.7,106.7 74.5,107.8 67.4,109.1 61.2,108.9 55.7,107.7 50.2,106.9 46.6,105 40.9,102.4 40.3,97.3 42.4,92.5 46.9,85.4 51.1,79.9 56.6,74.7 61.5,70.4 66.2,66 70.4,61.1 75.4,58.1 81.3,53.5 87.6,50.3 94.3,46 102.5,42.5 109.2,38.3 117.9,36 126.9,31.3 131.8,30.6 137.3,29.6 142.9,28.1 150.1,27.2 154.3,26 157.9,25.9 163.2,24.6 169.4,23.1 170.1,23M53.8,121.2 53.8,115.6 53.3,111.9 50.5,107.1 50.8,101.1 52.3,95 52.9,91.3 55.2,84.4 57.3,79.5 62,75 68.4,70.8 75.5,67.3 81.3,63 89.2,57.9 94.3,54 98.9,50.5 104.1,46.3 108.2,43.3 115.4,40.1 121.7,36.1 127.1,34.3 133,32.6 138,31.6 143.8,30.1 149.2,28.8 154.6,27.3 159.4,26.3 166.3,24.5 166,24.3M71,121.2 67.6,117.1 63.4,112.4 60.5,108.9 56.8,106.4 53.5,103.4 52.1,99.5 50.3,94.1 51.1,87.1 52.7,81.8 54.4,76.3 56.6,70.6 60.1,64.9 64.6,60 69.2,55.3 73.8,51.7 80.1,47.1 85.7,42.8 92.4,40.4 100.2,37.9 107.8,35.3 116.1,33.8 119.9,32.7 125.7,30.6 129.8,29.9 136,28.8 142.5,27.6 149.4,27.3 154.6,26.4 159.8,25.7 165,25.1 172.8,23.5 172.5,23.9M72.2,121.7 67.3,118.4 64.4,114.9 60.6,113.6 57.9,110.4 61.3,106 63.9,102.1 67.4,97.3 68.9,92.6 71.8,87.7 74.7,83.7 78.1,78.4 81.3,74.5 85.7,72.3 90.3,69.8 94.3,66.5 100,63.9 106.1,60.3 112,57 120.2,52 127.6,48.8 133.2,46.9 135.2,45.4M77.2,120.7 72.5,116.8 67.9,113.5 63.1,111.4 58.8,110 52.9,109.3 47.4,108.7 46,108.4 48.6,103.2 53,98 57.1,93.9 61.7,90.2 65.5,86.3 69.8,83.7 75.3,81.3 80.5,79.7 86.2,77.5 91.8,74 96.2,71.8 101.4,68.7 106.5,65.9 113.6,63.1 119.7,61 127.9,58 132.1,57.7 136.4,55.5 145.7,54.1 150.9,51.6 153.6,51.8M87,121.7 82.8,117 79,113.9 75.3,109.9 70.8,108.1 64.8,107.5 60.9,104.6 60,100.1 60,95.1 62.3,91.2 67.6,89.7 71.6,89 75.3,85.8 80.1,83.9 84.4,80.9 89.1,78.3 90.3,78.4M89.4,122.4 85.7,119.5 81.2,116.1 77.1,112.5 73.6,109.5 70.8,106.6 65.9,104.2 61.4,101.9 56.8,99.9 56.9,94.3 58.1,89 60.3,84.5 63.4,78 65.6,74.1 69.6,69.2 73.6,65.9 76.6,63.1 81.5,58 87.3,55.3 92.9,51.8 98.3,48.9 104.8,46.4 110.2,42.5 117.9,39.9 126.8,37.7 131.9,35.7 138.6,35.2 145,34.1 150,32.5 156.7,30.6 162.3,29.3 166.6,28.4 173.8,26.8 174.5,27M95.6,123.7 91.4,120.3 87,117 82.5,114.9 78.6,112.3 73.1,109.2 67.2,108.2 62.8,106 58.4,102.4 55.1,99.6 52.1,96.5 52,91.4 54.8,85.9 59.6,82.8 64.2,78.1 68.5,73.6 73,68.4 76.8,64.8 81.9,62.1 85.6,58.4 89.7,55.6 95,52.7 99.6,50.4 104.4,48.6 110.3,47.8 117.4,46.2 122.9,46 128.1,46.8 128.9,46.2M82.1,123.2 77.3,122 72.1,120.3 66.4,119.1 61.9,118.1 56,117.2 50.8,114.8 46,112.2 43.3,107.2 47.3,104.3 53,101.1 56,97.8 58.4,92.6 61.1,88.5 64.4,82.9 70.9,80.1 76.6,79.4 84.1,79.1 88.1,77.6 93.7,76.6 98.5,75.4 104.8,74.3 109.5,74.2 113.4,73.1M87,125.6 82.6,120.7 79.7,118.4 75.3,115.5 70.9,114.8 65,114.1 59.4,112.1 58.6,107.9 59.3,102.8 62.8,99.4 64.8,93.7 66.9,89.5 70.9,86.9 75.8,85.7 83.4,83.2 88.3,80.9 93.8,79.1 94.4,78.5M88.9,126.9 85.3,124.6 80.5,119.9 74.5,117.1 70.1,114.9 64.9,113.8 60.6,111.4 57.7,107.1 57.7,102.4 61.7,96.9 64.8,93.3 70.2,88.2 73.5,85.1 78.8,80.9 86.8,76.4 93.6,71.3 100.5,67 106.5,61.7 112.6,57.9 118.2,53.7 123.1,49.5 128.8,46.5 133.4,43.6 141.4,40.7 149.8,39 157.6,37.5 163.8,36.3 169.7,34.8 169.6,35.2M90.7,126.1 87.4,122.3 84.5,117.8 81.3,114.2 78.1,112 73.5,109.8 66.5,110.3 60.5,111.9 55.4,110.7 52.2,106.5 50.3,101.7 48.7,97.3 50.6,93.2 55.8,89.8 60,85.9 66.2,82.7 71.2,82.7 75.8,80.4 81.5,79.4 87.4,79.3 93.9,77.9 102.7,77.1 107.5,76 110.3,76.9 116.5,76.4 121.1,76 128.7,75.8 134.9,76.2 134.9,75.9M142.3,124.2 137.2,123.1 127,122.2 122.7,120.5 118.2,119.3 112.3,120.1 107.7,118.8 103.9,117.3 95.3,117.2 88,116.6 81.3,116.3 73.6,114.5 67.6,113.6 61.2,111.8 57.3,110.4 53,108.7 49,104.3 49.9,99.9 55.1,97.4 60.9,95.1 65.4,93.8 70.2,92.4 76.1,91.5 80.8,89.7 87.9,86.4 93,84.6 96.3,82.4 102.1,80.9 107.4,80.4 114.4,78.8 119,78.2 124.9,78.5 128.9,77.7M84.5,128.6 79.7,129.5 74.7,128.5 70.4,128.1 65.8,124.6 62.2,120.8 57.4,119.2 53.6,115.9 55.2,111.7 57,105.9 57.2,101.6 60,95.4 61.7,88.4 61.9,82.8 64,78.4 65,73.5 68.3,69.2 72,63.6 74.6,58.6 77.4,53.4 80.6,48.4 84.1,43 87,38 90.8,32.3 93.1,28.4 93.7,27.3M91.9,129.1 87.5,124.2 82.8,120.4 77.9,116.2 74.3,112.1 68.8,110.4 64.3,108.9 60.4,109.5 55.6,110.4 49.8,109.3 45.4,104.9 44.2,100.4 45.1,94.6 46.9,90.6 52.5,87.1 57.6,82.6 62.1,78.3 64.2,74.3 70.7,69.5 76,65.7 81.1,60.6 86.6,57.3 91.1,53.9 97.5,50.8 103.3,49 108.7,47 117.8,44.3 124.9,42.6 131.6,41.3 139.1,40 144.2,38.8 144.6,39.2M96.8,129.1 91.2,126.8 85.1,125.8 79.9,123.9 74.9,121.9 68.5,120.6 63.2,119.6 57.1,119.2 52.8,119.4 54.6,113.8 58.8,111.5 63.8,106.8 66.7,102.5 69.5,98.7 72.2,94.7 74,89.7 76.4,85 79.1,81.7 82.1,78.5 85,75.2 89.4,72.4 93.6,70.7 97.9,69.1 102.4,67.4 107.2,66.6 113.1,65.1 116.7,64.6 123,62.8 122.7,63.2M101.7,131.8 94.6,129.3 88.2,128.9 84.2,126.8 78.1,125.7 72.9,123.9 68.4,123.2 63.6,121.1 58.2,119.2 54.9,115.3 52.3,110.4 55.3,106.6 60.2,104.5 63.8,102.5 68.5,98.4 74,93.8 76.3,91.3 80.3,87.6 85.1,84.2 89.9,80.2 93.3,77.5 99.7,75.7 105.5,72.5 114,68.6 118.8,67.6 126.8,65.1 133.8,63.5 135.9,62.8M79.1,132.3 74.4,130.7 69.3,128.3 63.8,124.7 60.6,120.7 57.9,117.1 55.4,112.1 55.6,107.4 57.7,102.4 59.8,97.6 61.1,92.5 64.1,88 66,84.1 68.8,79.5 71.1,75.4 75.5,70.3 78.3,66 82.7,62.7 87,59.2 91.6,56.3 97.6,52.3 102.6,49 108.2,46 112.9,40.9 118.6,36.4 122.5,31.5 125.8,27.6 127.5,26.5M120.9,135.5 114.1,132.2 108.4,129.5 101.3,128 94.5,125.1 88,122.5 82.5,120.7 75.3,119.4 69.2,118.7 64.3,117.1 58.5,115 54.3,112.3 55.4,107.6 58.5,102.9 61.5,97.4 67.1,92.2 70.6,88.3 74.7,84 78.2,79.4 83.6,73.6 89.2,69.4 94.4,65.9 99.5,62.6 106.6,59 112.9,56 119.5,53.1 125.2,51.1 132.1,47.7 139.1,46.7 146.1,43.6 152.6,42.2 156.7,41.4M66,129.7 62.1,128.4 55.9,126.6 52.2,124.1 48.6,120.8 44.9,117.5 42.4,115.3 47,109.6 50.4,104 56.1,98.5 60.8,92.9 65.1,87.3 71.5,82.4 76.6,78.8 81.4,72.5 88.1,68.3 94.3,63.5 100.2,58.4 108,53.1 114.5,49 122.2,45 130,42.8 138.4,41 142.7,40.1 147.9,40.3 156.6,40.3 162.7,39.8 165.5,39.5M77.9,126.7 73.2,123.3 69.9,121.7 65.1,119.6 60.5,117.2 55.6,114.3 51,112 45.1,110.5 42.2,107.1 42.1,101.8 43.7,96.4 45.7,93 46.9,87.5 50,83.3 52.5,79.9 55.6,75.3 59.3,72.2 63.1,68.5 66.8,65.5 73,62 79.3,58.3 87.3,54.8 95.4,52.1 99.2,50.7 104,49.2 108.4,47.2 113.8,45.8 119.8,44.7 126.7,42.6 133.2,41.6 139.8,39.8 146.6,38.2 152.6,37 158.9,36 163.4,35 166.8,34.4M70,116.6 64.8,113 61.4,110.4 56.5,110.9 52.3,110.3 48.7,107.6 47.7,102.5 50.1,98.5 53,93.7 55.8,91.3 59.5,87.6 62.7,83.2 64.9,79.5 68.7,74.9 71.7,71.4 75.6,67.1 79.8,63.9 84.5,59.6 87.9,56.3 93.1,51.8 98.2,49.5 105.7,48.1 113.1,45.3 121.6,44.2 129.8,42 133.9,42 134.6,41.7M70.6,115 70.7,109.8 70.5,105.8 69.3,100.8 64.4,98.6 60.3,95.6 58.3,92 61.3,87.9 65.9,86.5 71.3,85.2 76,84.7 82.7,82 89.1,79.6 93,78.7 98.4,78 102.7,77.3 107.9,77.4 113,76.6 119.4,76 124.5,76.4 131.5,75.3 139.1,75.9 146,76.1 149.2,75M72.4,121.7 68.1,120.3 63.1,117.3 58.8,115.7 54.6,111.8 53.6,107.6 54.3,102.5 51.7,97.8 47.4,94.8 44,91.4 45.2,85.4 48.2,83.2 52.2,79.5 54.2,73.6 57.9,69.1 59.8,65.6 66.3,64.3 71.3,62.8 76.1,61.8 81,61.5 86.8,59.7 93.4,58.7 100.7,57.9 107.2,56.5 112.4,55.3 114.3,55.2M71.1,123.1 69.3,118.5 66.7,113.8 63.9,109.8 59.1,105.7 53.6,104.4 47.9,105.2 43.8,101.1 42.4,96.8 42.8,91.8 48.6,90.7 52.6,89.2 58,88.5 63.3,86.3 68.3,85.7 73.4,83.9 78.9,84.6 83.7,84.5 89.8,84.7 95.6,85.3 102.9,85.2 110.8,84.7 115.5,85.7 120.6,84.8 125.1,84.7 130.7,84.2 135.6,84 140.9,83.9 148.6,83.5 151.1,83.3M85.2,106.8 79.8,105.7 76.7,102.3 72.4,100.4 68.3,97.5 63.7,93.7 60.4,90.4 58.8,86.6 62,82.5 68.2,78.4 71.8,76.3 76.1,72.9 80.1,70.8 83.1,67.8 86.9,65.3 92.2,63.5 97,60.4 102.3,57.6 107.9,55.8 114.2,51.7 120.4,49.3 126.5,47.1 135.1,45.5 142.2,44.5 151.2,44.6 158,43.1 162.5,42.2 162.6,42.3M79.3,116.8 75.2,117 70,117.1 65.1,116.8 61.4,113.8 56.3,111.3 53,108.3 50.8,106.8 51.5,100.4 52.6,94.9 56.6,93 60.6,89.3 63.3,85.4 66.9,80.7 70.1,77.1 74,73.4 79.5,70.8 83.6,67.4 84.2,67M101.9,113 97,110.9 91.9,108.5 87,106.4 83.1,103.6 76.9,102.5 70.1,101.3 65.4,101 61.2,98.9 59,94.7 56.5,90.6 56.1,86.1 56,80.8 57.9,76.3 61.6,70.5 64.4,65.2 67.5,61.1 71,56.2 74.7,53.4 79.1,49.5 83.2,46.9 88.6,42.9 93.8,39.5 100.6,36.2 108.3,32.5 111.4,30.4 116.2,28.7 121.9,27.1 125.5,23.7 130,23.2 135.4,19.3 138.4,18.2M73.8,129.1 69,128.3 65.8,124.5 60.8,120.7 57.7,118 58.1,113.9 60.8,107.3 61.5,102.1 62.3,98 64.5,93.6 68.5,89.8 72.4,87.6 76.6,83.7 80,79.6 84.4,76.5 88,72.5 93.2,69.8 98,67.1 102.1,63.4 106.9,61.3 113.9,60.7 121,59.1 127.2,58.4 131.7,57.9 133.4,57.9M100.5,122.9 95.5,120.1 90.4,116.3 85.1,115.1 79.9,112.1 73.4,112.6 68.6,112.5 62.2,113.6 56.6,115.1 52.5,115.5 48.1,116.6 42.3,113.7 41.6,108.3 40.4,103.2 43.8,96.4 45.3,90.9 47.9,86.8 50,80.7 53.5,76.6 56.6,72.3 59.7,68 62.6,64.4 66.8,59.7 69.7,55.6 73.9,51.2 79.1,48.4 86.2,44 94.1,38.9 100.8,35 107.1,31.6 109.1,30.8M76.1,108.5 72.6,103.2 70.5,98.5 67,94.2 63.8,91.9 59.8,89.4 56.4,89.2 56.3,84 54.8,77.8 55,73.1 59.9,71.1 63.8,69.6 69.2,68.9 74.3,67.6 79.8,65.2 86,65.1 87.8,63.7M75.8,105.7 72.5,101.1 70.4,96 68.4,92.2 64,87.9 59.5,88.3 55.2,88.8 52.6,88.1 54.8,83.5 57.8,79.8 62.6,79.8 67,79.1 74.7,80.5 79.3,81.5 85,80.1 88.7,80.7 93,81.1 97.2,81.7 103.3,82.2 106.9,81.8 113.4,81.5 120.5,81.9 127.2,81.5 133.3,81.6 137.7,80.4 139.9,81.1M66.9,117.1 62.7,114.7 58.8,112.7 53.9,110.3 50,108.9 44.8,104.9 43.7,99.5 44.5,96 48.5,93.4 54.6,92.2 59,90.7 64.9,91.3 69.2,92.4 75.2,91 80.6,89.4 85.9,87.2 91.5,84.5 97.7,82.1 103,81.1 109.1,80.5 116.6,81.1 121.9,81.7 127.8,82.1 129.3,81.7M60.2,101.9 57.1,97.1 53.2,91.9 49.7,86.9 48.8,82.1 47.3,76.6 47.5,71.5 49.4,66.6 52.8,59.8 55.9,56.9 59.5,54.4 62.3,50.2 65.6,46.5 70.3,44 74.4,41.5 79,38.5 82.2,35.1 85.7,32.3 90.5,29.3 95.5,25.9 99.6,23.2 103.4,19.6 107.9,17 110.5,15.2M111,92.2 109.4,88.2 105,84.9 102.3,82.2 96.4,82.3 91.6,80.4 86.4,79.4 81.7,78 76.4,76.6 69.9,76 63.3,74.9 59.2,73.1 55.1,69.9 52.6,66 52.4,60.6 53.9,55.2 57.8,50.9 61.5,46.9 66.1,44 69.6,41.2 73.5,36.8 77.7,34.7 81.9,32.8 88.3,30.3 93.7,28.3 100.4,26.5 105.5,25.4 112,26.1 118.3,23.8 124.4,23.6 129.5,25 135.9,24.3 140.3,26.1 140.2,24.9" fill="none" stroke="#0a0a0a" stroke-width="0.95" stroke-linejoin="round" stroke-linecap="round"/><g fill="#f00"><circle cx="111" cy="92.2" r="1.4"/><circle cx="67.3" cy="102.8" r="1.4"/><circle cx="80.8" cy="104.5" r="1.4"/><circle cx="89.4" cy="106.5" r="1.4"/><circle cx="92.4" cy="106" r="1.4"/><circle cx="75.9" cy="108.9" r="1.4"/><circle cx="68.5" cy="112.6" r="1.4"/><circle cx="79.6" cy="114.3" r="1.4"/><circle cx="83.3" cy="117.5" r="1.4"/><circle cx="84.5" cy="120" r="1.4"/><circle cx="90.7" cy="118.3" r="1.4"/><circle cx="98" cy="116.3" r="1.4"/><circle cx="106.6" cy="115.8" r="1.4"/><circle cx="108.6" cy="115.8" r="1.4"/><circle cx="102.9" cy="120" r="1.4"/><circle cx="112" cy="120" r="1.4"/><circle cx="115.2" cy="120.7" r="1.4"/><circle cx="137.3" cy="118.3" r="1.4"/><circle cx="53.8" cy="121.2" r="1.4"/><circle cx="71" cy="121.2" r="1.4"/><circle cx="72.2" cy="121.7" r="1.4"/><circle cx="77.2" cy="120.7" r="1.4"/><circle cx="87" cy="121.7" r="1.4"/><circle cx="89.4" cy="122.4" r="1.4"/><circle cx="95.6" cy="123.7" r="1.4"/><circle cx="82.1" cy="123.2" r="1.4"/><circle cx="87" cy="125.6" r="1.4"/><circle cx="88.9" cy="126.9" r="1.4"/><circle cx="90.7" cy="126.1" r="1.4"/><circle cx="142.3" cy="124.2" r="1.4"/><circle cx="84.5" cy="128.6" r="1.4"/><circle cx="91.9" cy="129.1" r="1.4"/><circle cx="96.8" cy="129.1" r="1.4"/><circle cx="101.7" cy="131.8" r="1.4"/><circle cx="79.1" cy="132.3" r="1.4"/><circle cx="120.9" cy="135.5" r="1.4"/><circle cx="66" cy="129.7" r="1.4"/><circle cx="77.9" cy="126.7" r="1.4"/><circle cx="70" cy="116.6" r="1.4"/><circle cx="70.6" cy="115" r="1.4"/><circle cx="72.4" cy="121.7" r="1.4"/><circle cx="71.1" cy="123.1" r="1.4"/><circle cx="85.2" cy="106.8" r="1.4"/><circle cx="79.3" cy="116.8" r="1.4"/><circle cx="101.9" cy="113" r="1.4"/><circle cx="73.8" cy="129.1" r="1.4"/><circle cx="100.5" cy="122.9" r="1.4"/><circle cx="76.1" cy="108.5" r="1.4"/><circle cx="75.8" cy="105.7" r="1.4"/><circle cx="66.9" cy="117.1" r="1.4"/><circle cx="60.2" cy="101.9" r="1.4"/><circle cx="111" cy="92.2" r="1.4"/></g><text transform="translate(6.4,15.2) scale(1.03,1)" class="tt" xml:space="preserve">d.West turn</text><text transform="translate(6.4,27.3) scale(1.03,1)" class="tt">N:52</text><rect x="0" y="0" width="13.9" height="1.6" fill="#000"/><rect x="13.9" y="0" width="13.9" height="1.6" fill="#d6d6d6"/><rect x="27.9" y="0" width="13.9" height="1.6" fill="#000"/><rect x="41.8" y="0" width="13.9" height="1.6" fill="#d6d6d6"/><rect x="55.7" y="0" width="13.9" height="1.6" fill="#000"/><rect x="69.7" y="0" width="13.9" height="1.6" fill="#d6d6d6"/><rect x="83.6" y="0" width="13.9" height="1.6" fill="#000"/><rect x="97.5" y="0" width="13.9" height="1.6" fill="#d6d6d6"/><rect x="111.4" y="0" width="13.9" height="1.6" fill="#000"/><rect x="125.4" y="0" width="13.9" height="1.6" fill="#d6d6d6"/><rect x="139.3" y="0" width="13.9" height="1.6" fill="#000"/><rect x="153.2" y="0" width="13.9" height="1.6" fill="#d6d6d6"/><rect x="167.2" y="0" width="13.9" height="1.6" fill="#000"/><rect x="181.1" y="0" width="13.9" height="1.6" fill="#d6d6d6"/><rect x="195" y="0" width="4" height="1.6" fill="#000"/><rect x="0" y="158.9" width="13.9" height="1.6" fill="#d6d6d6"/><rect x="13.9" y="158.9" width="13.9" height="1.6" fill="#000"/><rect x="27.9" y="158.9" width="13.9" height="1.6" fill="#d6d6d6"/><rect x="41.8" y="158.9" width="13.9" height="1.6" fill="#000"/><rect x="55.7" y="158.9" width="13.9" height="1.6" fill="#d6d6d6"/><rect x="69.7" y="158.9" width="13.9" height="1.6" fill="#000"/><rect x="83.6" y="158.9" width="13.9" height="1.6" fill="#d6d6d6"/><rect x="97.5" y="158.9" width="13.9" height="1.6" fill="#000"/><rect x="111.4" y="158.9" width="13.9" height="1.6" fill="#d6d6d6"/><rect x="125.4" y="158.9" width="13.9" height="1.6" fill="#000"/><rect x="139.3" y="158.9" width="13.9" height="1.6" fill="#d6d6d6"/><rect x="153.2" y="158.9" width="13.9" height="1.6" fill="#000"/><rect x="167.2" y="158.9" width="13.9" height="1.6" fill="#d6d6d6"/><rect x="181.1" y="158.9" width="13.9" height="1.6" fill="#000"/><rect x="195" y="158.9" width="4" height="1.6" fill="#d6d6d6"/><rect x="0" y="0" width="1.6" height="16.1" fill="#d6d6d6"/><rect x="197.4" y="0" width="1.6" height="16.1" fill="#000"/><rect x="0" y="16.1" width="1.6" height="16.1" fill="#000"/><rect x="197.4" y="16.1" width="1.6" height="16.1" fill="#d6d6d6"/><rect x="0" y="32.1" width="1.6" height="16.1" fill="#d6d6d6"/><rect x="197.4" y="32.1" width="1.6" height="16.1" fill="#000"/><rect x="0" y="48.2" width="1.6" height="16.1" fill="#000"/><rect x="197.4" y="48.2" width="1.6" height="16.1" fill="#d6d6d6"/><rect x="0" y="64.2" width="1.6" height="16.1" fill="#d6d6d6"/><rect x="197.4" y="64.2" width="1.6" height="16.1" fill="#000"/><rect x="0" y="80.3" width="1.6" height="16.1" fill="#000"/><rect x="197.4" y="80.3" width="1.6" height="16.1" fill="#d6d6d6"/><rect x="0" y="96.3" width="1.6" height="16.1" fill="#d6d6d6"/><rect x="197.4" y="96.3" width="1.6" height="16.1" fill="#000"/><rect x="0" y="112.4" width="1.6" height="16.1" fill="#000"/><rect x="197.4" y="112.4" width="1.6" height="16.1" fill="#d6d6d6"/><rect x="0" y="128.4" width="1.6" height="16.1" fill="#d6d6d6"/><rect x="197.4" y="128.4" width="1.6" height="16.1" fill="#000"/><rect x="0" y="144.5" width="1.6" height="16.1" fill="#000"/><rect x="197.4" y="144.5" width="1.6" height="16.1" fill="#d6d6d6"/></svg><line x1="13.9" y1="160.5" x2="13.9" y2="163" stroke="#222" stroke-width="0.8"/><text x="-2.1" y="169.4" class="lb">100.00<tspan class="dg" dy="-5.4">o</tspan><tspan dy="5.4">E</tspan></text><line x1="69.7" y1="160.5" x2="69.7" y2="163" stroke="#222" stroke-width="0.8"/><text x="53.7" y="169.4" class="lb">128.00<tspan class="dg" dy="-5.4">o</tspan><tspan dy="5.4">E</tspan></text><line x1="125.4" y1="160.5" x2="125.4" y2="163" stroke="#222" stroke-width="0.8"/><text x="109.4" y="169.4" class="lb">156.00<tspan class="dg" dy="-5.4">o</tspan><tspan dy="5.4">E</tspan></text><line x1="181.1" y1="160.5" x2="181.1" y2="163" stroke="#222" stroke-width="0.8"/><text x="165.1" y="169.4" class="lb">176.00<tspan class="dg" dy="-5.4">o</tspan><tspan dy="5.4">W</tspan></text><line x1="-2.3" y1="16.1" x2="0" y2="16.1" stroke="#222" stroke-width="0.8"/><text transform="translate(-3.2,14.1) rotate(-90)" class="lb" text-anchor="middle">58.00<tspan class="dg" dy="-5.4">o</tspan><tspan dy="5.4">N</tspan></text><line x1="-2.3" y1="80.3" x2="0" y2="80.3" stroke="#222" stroke-width="0.8"/><text transform="translate(-3.2,78.3) rotate(-90)" class="lb" text-anchor="middle">30.00<tspan class="dg" dy="-5.4">o</tspan><tspan dy="5.4">N</tspan></text><line x1="-2.3" y1="144.5" x2="0" y2="144.5" stroke="#222" stroke-width="0.8"/><text transform="translate(-3.2,142.5) rotate(-90)" class="lb" text-anchor="middle">2.00<tspan class="dg" dy="-5.4">o</tspan><tspan dy="5.4">N</tspan></text></g><g transform="translate(16.7,371.3)"><svg x="0" y="0" width="198.9" height="160.4" viewBox="0 0 198.9 160.4" overflow="hidden"><rect width="198.9" height="160.4" fill="#fff"/><path d="M0,0 0,102.4 1.2,104.5 2.6,106.8 3,109.3 2.6,112.3 3.6,112.7 5,112.7 6.4,111.4 7.8,110.2 9.1,111.4 9.5,114.1 10.3,117.8 11.1,121.4 10.9,124.9 10.5,130.2 11.7,131.1 13.5,133.8 14.5,136.6 15.5,139.8 16.5,142.1 18.5,144.1 20.9,146 22.5,145.5 21.1,142.5 20.5,140 20.7,137.9 18.5,135 16.5,133.1 14.9,132.4 13.9,129.7 13.7,127.9 12.3,125.3 13.1,121.9 13.8,120.1 13.9,118.2 14.9,118 15.9,119.8 18.5,121 19.7,123.3 20.9,124.7 22.9,125.1 23.5,129.2 24.3,129 26.5,127.2 28,125.2 29.8,124.2 31.6,123 32.2,121 32.7,119.4 32.4,117.3 31.6,114.1 30.2,112.2 28.2,110.2 27.1,108.2 25.5,106.1 25.9,103.6 27.1,102.2 28.2,100.8 29.8,99.7 32,99.7 33.2,99.9 33.6,102.4 34.4,102.4 34.8,100.4 36.2,99.7 38.2,99 40.8,98.1 42.2,97.8 43.8,96.9 47.1,95.6 48.7,94.2 49.9,92.8 51.7,91.2 52.7,89.4 53.7,87.8 55.1,85.2 56.7,83.4 57.5,80.4 55.7,79.5 57.5,77.9 57.3,76.3 55.5,74.2 54.5,71 52.5,69.4 54.3,66.7 55.7,65.1 58.1,64.4 58.9,63.2 56.7,63 55.1,62.3 52.7,63.7 52.1,62.3 50.1,60.7 49.1,59.6 50.7,59.1 52.7,57.7 54.7,56.4 56.1,55.2 58.1,55.5 57.5,57.3 56.7,58.4 56.1,60 58.3,58.9 60.7,57.7 62.3,57.5 63.6,58.2 64.2,60.3 63.1,61.6 65.6,62.6 66.8,63.1 66.6,65.3 66.8,66.9 66.2,68.7 66.2,70.1 68.6,69.7 70.6,69 71.6,68.5 72.4,67.6 72.6,66.5 72.4,64.2 70.8,61.4 68.6,58.9 68.8,57.7 71,56.6 73,55.5 73.2,53.2 75,52 77.4,50.2 78.6,50.9 79.4,50.9 81.4,50.6 83.7,48.8 86.7,46.1 89.3,43.1 90.7,40.6 94.1,36.7 94.5,33.2 95.1,30.9 96.1,28.6 95.9,27.7 96.7,26.8 93.5,25.2 90.9,25.2 88.5,25.2 87.5,24.1 84.1,23.6 87.5,21.8 89.9,19.5 94.5,15.6 97.5,13.7 99.8,12.8 105.4,13.1 109.4,13.1 115,12.4 118.3,13.3 121.7,13.5 122.3,12.4 124.3,10.8 128.3,7.3 132.3,7.3 134.3,9.2 136.2,8 140.2,5.7 139.2,7.3 138.2,9.2 135.3,11 132.9,13.5 129.3,16 126.7,18.3 125.3,21.1 124.5,24.1 124.9,27.5 125.7,29.8 126.7,32.3 128.3,30.9 130.5,27.7 132.9,26.4 133.3,25 137,23.4 136,21.8 139.8,20.4 138,19.5 139.6,16.5 138.2,15.8 140.2,14.2 142.2,12.4 144.2,11.5 147.2,10.8 153.7,11.7 157.1,10.1 162.1,7.3 167.1,5.5 171.3,6.2 172,4.6 170.1,2.3 168.1,0.7 170.1,0.9 172.6,0ZM178,0 182.2,0.5 185,0.9 188.2,1.4 189.4,0.7 190.1,0ZM97.5,43.5 97.3,41.2 97.5,39 97.7,35.5 97.9,32.1 96.9,29.1 97.1,26.4 98.1,24.5 98.9,24.3 99.8,27 99.8,29.8 100.4,32.1 101.4,35.5 102.8,37.6 99.6,36.2 99.1,40.1 100.4,42.4 100.2,43.5 98.9,42.2ZM97.3,44.7 98.5,45.8 100.4,47.7 104,47.4 103.6,49 105,49.5 102.2,50.4 99.8,52.9 97.9,51.8 96.7,51.3 95.5,52 94.9,53.2 93.9,54.1 93.5,52.7 93.1,51.6 94.3,49.7 96.1,50 96.7,47.4 96.9,45.8ZM95.3,53.8 96.3,54.1 96.5,56.1 97.5,58.2 96.5,61.2 95.5,61.4 95.5,64.2 94.9,65.8 95.3,67.1 93.3,69 93.1,67.6 92.7,68.3 91.1,69.7 89.9,69.7 87.5,69.7 86.7,69.4 87.1,70.3 85.1,72.4 83.7,71 84.3,69.7 83.9,69.4 81.5,69.7 78.6,70.3 75.4,71.1 76.6,69.9 78.6,68.3 79,67.6 81.5,67.5 84.1,67.1 85.1,67.6 85.7,67.1 86.7,65.3 88.1,63 87.5,64.6 89.5,64.2 91.5,62.1 92.7,60.5 93.3,58 93.5,56.1 94.1,54.5 94.9,55.2ZM77.6,72.6 79.4,74 81.9,72.8 82.7,71.5 82.1,70.3 80.6,70.1 79.4,70.8 78.4,71.5ZM75.4,71.3 76.6,72.6 77,74.5 76.4,75.8 74.9,77.9 74.6,76.5 74,77.2 74,75.4 73.2,74 72.6,72.6 74.4,72ZM56.7,91 57.7,91.7 57.3,93.9 56.5,96.2 55.4,98.8 54.3,97.4 53.9,96.2 54.1,93.9 55.1,92.6 55.7,91.4ZM31,104.9 32.4,107 32.8,107.2 34.8,105.9 35.8,104 35.2,102.9 34.4,103 32.4,103.3 31.2,104.3ZM54.9,106.6 55.7,106.3 58.1,106.6 58.5,109.5 57.9,111.8 56.9,112.7 57.1,115.3 57.7,116.6 59.1,116.2 60.1,117.6 61.9,119.2 61.7,120.3 60.3,119.2 58.7,117.8 57.3,117.1 55.7,117.6 54.9,116.4 55.5,115.5 54.5,115.7 53.7,114.6 53.7,111.8 54.5,110.9 54.5,108.8ZM54.3,118 56.7,118.7 56.1,121 54.7,120.5ZM57.7,121.9 59.5,122.6 58.9,124.9 57.7,124.9 57.5,122.8ZM59.7,124 60.7,124.9 60.1,128.1 58.9,127.2 58.5,124.9ZM61.5,123.3 61.9,125.1 60.5,126.9 60.9,124.9ZM61.7,125.8 62.9,126.5 61.5,126.9ZM62.3,120.1 64.6,121 65,123.7 63.6,123.3 64,126 63.3,126 62.3,122.6ZM52.3,122.8 53.3,124.9 51.3,126.5 48.3,129.7 47.9,129.5 49.7,127.2 51.9,124.7ZM57.7,133.1 58.1,131.1 60.3,130.6 61.3,129 63.1,129.5 64.6,126.5 66,127.9 66.8,132.2 66,134.5 64.8,132.9 64.4,136.1 64,135.4 61.7,134.5 62.1,132.4 60.7,131.3 58.7,131.8ZM47.7,132.9 49.9,135.7 52.3,137.3 50.3,139.1 49.1,139.3 49.5,142.1 49.7,144.4 51.5,146.7 49.5,147.1 48.7,148.9 47.7,151.2 46.7,154.7 46.1,157.7 45.7,158.1 43,157.7 39.8,156.3 37.2,155.8 34.4,155.6 33.8,153.1 32.2,150.1 32.4,148.9 31.6,146.7 33,144.1 34.4,145.3 36.4,143.9 36.8,143 39.8,141.6 41.8,138.9 43.8,137.5 44.8,136.3 45.9,135.2 47.3,133.1ZM4.6,136.1 9,137 11.3,140.2 14.7,143.9 16.9,145.3 19.9,147.8 21.5,151.2 22.9,153.5 25.5,155.8 25.7,160.9 22.3,160.9 18.5,157.7 14.6,151.1 11.9,144.8 11.5,145 6.2,139.5ZM64,145.3 62.5,148 59.7,148 56.7,147.8 54.9,147.8 54.1,146.9 55.3,146.2 54.1,148.9 53.3,150.8 52.3,152.4 51.3,154.9 52.5,157 52.9,159.3 52.5,160.9 54.5,160.9 54.5,157 54.9,155.6 56.3,158.1 56.7,159.7 59.3,160.9 59.9,158.6 58.1,156.3 56.3,153.3 58.7,151.2 60.7,151 57.1,151 54.3,151.9 54.5,150.1 56.7,148.3 60.7,147.1 62.9,146.2ZM69.6,143.9 70.8,145.5 70,146.4 71.2,147.6 69.6,148.3 71.4,149.6 70,150.8 68.8,148.9 69.2,146.7ZM69.6,155.4 75.2,155.8 75.2,157.7 70.6,157ZM65.6,156 68,156.3 67.4,157.9 65.8,157.4ZM75.6,151.7 77.6,149.9 79.6,150.5 81.7,151 82.1,153.5 83.5,156.5 84.5,156.7 86.3,154 87.9,152.6 89.9,152.8 93.1,154.4 94.9,154.7 97.3,155.6 100.4,157 102.4,157.9 104.4,159.3 105.2,160.9 84.5,160.9 81.5,158.1 79.6,158.1 78,155.6 77.6,154.4 79.6,154.2 80.6,154.4 78.6,152.4 76.2,152.4ZM114.4,154.7 117.4,156.5 119.3,159.5 118.7,160.9 117,158.8 115,155.8ZM109.8,160.9 112.4,160.4 113.8,160.9 116.4,158.6 117.9,158.8 117.9,160.9ZM68.8,89.1 70.2,87.5 69.6,87.3 69,88.2ZM72,84.6 73,83.6 72.4,83.6ZM144.6,22.2 146.4,23.6 145.4,22.2ZM189.9,3.7 193.9,4.1 195.5,4.6 192.9,4.8 190.5,4.4ZM104.4,48.8 106.6,47.2 105.4,47.7ZM107.2,46.3 111.2,44.7 109.4,45.4ZM112.4,44 114.4,43.1 113.4,43.8ZM116.4,41.7 117.9,40.8 117.2,41.2ZM119.3,39 121.9,37.4 120.3,38ZM122.5,36 126.3,32.5 124.5,34.4ZM158.1,27.7 160.1,27.7 159.5,28ZM167.7,30 168.7,29.6 168.3,30ZM176,30 181,30.2 179,30.7ZM182,29.3 185.4,29.8 184,30ZM189.9,28 193.9,27.5 191.9,28.2ZM194.9,26.4 199.9,26.1 196.9,27.3Z" fill="#cbcbcb"/><path d="M13.9,0V160.4M69.6,0V160.4M125.3,0V160.4M181,0V160.4M0,16H198.9M0,80.2H198.9M0,144.4H198.9" stroke="#000" stroke-opacity="0.1" stroke-width="1" fill="none"/><path d="M80.1,99.8 74.2,99 69,98.1 63.2,96 59.9,94.8 55.5,91.1 50.9,89.9 44.8,90.2 40.9,89.8 36.3,90.1 31.7,89.8 27.4,91.4 26.6,92M106.5,97.3 102.1,96.6 97.8,95.6 91.6,95.5 85.5,97 81.6,96.2 76.4,94.4 70.8,91.5 67.4,89.8 62.8,88.6 57.9,88.2 54.1,92.3 49.8,97.5 44.5,98.1 39.4,98.8 36.1,99M121.5,98.5 115.7,99 110.9,98.7 106.3,97.7 101.5,96.6 97.2,95.7 90.7,96.9 85.1,96.1 79.1,97.1 75,96.4 69.4,95.6 64.9,95.1 59.4,94.2 53,96.3 47.3,96 41.3,96.9 37,97.3 32.3,99.1 30.6,99.7M105.1,102.6 100.2,101.9 94.3,101.6 90,101.3 84.1,102.5 78.4,101.8 73.4,102 68.7,101.3 64.5,99.6 59.1,98.3 53.4,97.7 48.9,99 42.9,100 38.4,98.5 32.7,95.6 30.7,94.3M104.2,105.7 99,103.6 94.7,101.2 89.2,99.6 85,97.5 80.6,96.8 75.8,96.5 70.3,94.5 65.9,93.1 61.5,92.5 55.8,89.2 51.5,88 46.1,87.2 40.7,88.1 38.5,88.4M115.4,105.7 110.9,104.7 105,104.3 100.3,102.6 94.5,101.6 90.1,101 84.4,99.2 79.2,98.8 74.3,98.1 68.8,97.5 62.6,97 56.6,97.1 51.2,96.8 45,95.2 41.6,93 36.1,92.4 30.7,92.4 24.5,91.5 20.2,90.8M57.8,105.7 52.8,106.4 48.9,105.8 43.7,104.6 39.3,102.1 38.2,99.9 33.6,98.5 29.7,94 27.5,93.4M72.1,103.9 67.4,103 61.2,102.2 58.3,98.8 53.1,95.3 48.6,95.3 42.6,95.6 37.8,95 32.6,94 28.3,91.7 22.9,91.9 19.1,93.5 16.1,93.7M73.8,105.7 68.9,103.5 64.4,102.5 59.3,101.5 54,99.7 49.7,98.5 43.9,98.4 40.2,98.6 35.3,97.5 29.2,98 23.8,97.8 19.7,98.7 14.2,98.2 14.6,98.7M86.3,105.7 82.3,102.9 78.3,99.9 73.4,98.7 68.6,98.2 64.1,95 59.6,92.2 55.8,89.3 51.8,86.2 48.5,86.1 42.7,85.8 37.5,85.9 33.5,84.7 30,83.8M93.5,105.7 89.5,103.4 84.3,103.7 79.1,103.5 73,103.3 67.9,100.9 64.8,100.3 60,98.6 54,97.8 49.3,97.2 43.2,96.9 38.2,96.4 34.6,95.4 29.1,94 26.4,93.6M60.4,111.9 57.3,108.6 53.4,106.2 49.6,102.9 45.8,100.2 42.6,95.2 38.4,96.1 34.8,94.8 31.3,92.5M77.4,111 74.7,106 70.8,102.8 65.4,101.7 61.1,99.8 56.9,96.9 52.3,97.5 46.5,97 42,94.6 37.1,92.2 33.1,91.9 29.6,92.4M85.4,108.3 81.6,105.7 76.4,102 71.4,99.9 66.8,98.3 64.3,94.3 62.4,91 57.6,90 51.5,88.6 45.4,86.6 41.6,85.6 35.8,83.3 32.5,82.3 31.8,81.4M92.6,109.8 87.6,108.2 82.8,107.8 77.6,106.4 73.4,106.6 69.8,109.3 64.4,108.3 60.1,105.7 55.3,103.4 50.2,103 45.8,102.1 41,99 38.1,98.2M96.2,111.9 92.7,109.9 88.5,107 83.4,102.5 80.4,99.7 77.3,96.4 72.4,93.8 69.2,91.5 65.1,88.9 60.9,85.4 56.6,83 52.6,80.1 49,78.7M97.1,113.7 91.9,113.8 86.8,112.7 82.1,112.5 76.2,110.3 70.6,109.9 66.2,111.3 60.5,111.3 56,109.6 52.4,106.1 47.3,103.8 41.8,103.3 37,103.5 31.9,102.7 27.7,101.3 27.8,101.3M70.8,114.6 66.6,110.8 62.8,107.5 57.5,105.9 53.2,102.3 51.7,97.9 46.4,96 41.7,96.2 37.4,95.1 34.2,91.4 30,90.5 26.2,90.4 23.5,91.3M60.4,119.1 56.6,115.6 52.4,111.2 50.6,106.8 46.3,105.4 42.5,103.2 39.1,100.9 33.2,97.7 29,95.6 26.1,92.1M72.1,118.7 66.2,115.2 61.2,114.3 57.4,111.2 54.6,109.3 49.2,107 45.6,104.2 42.3,101.5 37.4,98.8 32.4,97.1 27.5,96.4 23.1,94.1 19.7,93.5M73.8,117.6 71,113.9 64.3,113.9 60.1,113.5 56.8,111.1 52.1,108.1 45.5,109 40.9,107.2 39.3,102.6 36.8,99.9 31.1,98.7 31,98.5M81.9,117.6 76.8,115.4 73.7,112.5 67.7,111 63.5,109.4 58.2,107.7 53.9,104.4 49.8,103.8 44.4,102.5 38.9,102.4 34,100.4 28.9,99.6 23.4,98.7 22.3,98.7M87.2,120.5 82.1,118.4 76.8,115.4 73.2,112.7 68.4,110 65.4,107.6 60.6,105.5 57,103.1 51.2,103.2 47.4,104.3 42.1,102.1 40.5,96.3 35.6,93.1 31.2,93.8 27.7,95M102.4,120 97.9,118.3 92.9,116.5 86.5,115.2 82.5,112.6 79.1,110.2 74.7,107.3 70,103.7 66.4,101.1 62,99.7 56.7,98.6 52.6,97.7 46.8,97.7 41.6,98.8 36.6,99.3 31,98.6 29.2,99.2M110.1,117.6 105.2,116.3 100,115.3 95.3,113.2 91.7,110 87.4,107.9 82.7,105.6 76.4,104.9 71.6,103.1 67,100.2 63.8,96.3 59.3,93.7 55.8,91.5 50.5,89.8 45.8,86.2 41.1,82.8 35.9,80.3 35.1,79.7M69.4,121.7 64,120.1 59.4,117.2 56.1,115.1 51.7,112.6 48.5,108.7 44.8,106.9 40.9,104.5 35.8,102.9 31.8,100.3 26.8,97.6 22,95.2 17.6,95.2 17,94.7M75.6,124.4 74,120.2 70.8,116.6 66.2,113.4 61.3,111.4 59.9,106.9 56,103.9 52.4,99.7 48.5,97 47,91 42.8,88 39.5,86.6 36.8,85.6M76.5,123.5 72.9,119.3 70.2,114 67.3,110.6 63.8,106.7 61.8,103.2 57.2,99.8 54.4,95.7 50.8,93.3 47.3,91.8 46,90M83.7,124.1 81.1,120.7 78.1,116.3 74.6,112.5 71.8,106.8 68.9,102.6 65.5,98.3 61.8,95.2 58.5,91.8 56.4,88.2 52.8,84.1 48.1,80.9 46.4,79.1M84.6,125.3 82.3,120 79.4,116 76.3,113 71.9,110.1 70.2,106.3 68.4,101.6 64.6,98.6 60.1,95.1 57.1,93.7 53.1,90.7 49,88.7M92.6,124.1 87.7,122.3 81.3,119.5 77,118.3 71.6,115.7 67.7,112.5 64.1,108.4 60.3,106.5 55.6,105.8 50.3,103.3 46.4,101.8 42.4,99.8 36.5,97.1 35.2,96.2M95.3,122.7 89.3,122.2 85.1,121.8 79.1,119.6 76,116.4 71.6,113.8 67.3,111.1 61.4,112.6 56.3,112.7 52.5,108.8 50,106.4 43.4,104.9 38.8,103.2 33.6,103.2 28.8,101.8 23.9,99.5 19.6,98.7M110.4,126.2 104.9,123.5 101.5,121.1 95,120 89.7,119.5 85.7,117.7 79.4,115.8 74.8,114.7 69.1,110.1 65.8,109.6 60.2,108.1 56.2,105.8 51.1,103 45.9,99.8 41.8,98 37.1,96.6 32.4,95.7 29.2,94M108.7,128.3 104.9,124.2 100.5,121.4 97.8,117.4 92.4,114 88.3,110.8 84.5,107.7 80.7,104.4 78.6,100.6 74.9,97 70.7,94.3 66.2,92 61.6,89.9 58.7,86.1 54.9,82.5 52.4,79.4M103.7,129.8 99,127.8 94.3,125.8 90.7,123.2 87.1,122.5 82.1,121.7 77.3,121.3 72.8,116.9 70.8,112.9 66.5,109.4 62.8,107.2 56.9,107.4 52.6,106.4 47.3,106.1 41.4,104.5 37.8,102 34.4,97.4 28.6,94.9 23.2,93.2 21.8,92.2M81.9,129.4 78.2,128.9 73,127.8 69.4,124.2 65.9,121.1 60.2,119.2 55.5,116.3 51.6,114.6 47,111.6 43.8,108.4 39.5,103.9 34.9,101.6 31.3,99.8 31.2,99.5M83.3,134.2 78.4,130.2 74.2,128.4 70.1,125.1 66.1,122.7 60.5,119 57.6,115.2 55.1,110.3 51.8,106.7 47.4,105 42.1,101.8 37.1,99.3 30.5,96.6 25.8,93.8 21.7,93.5 21.3,92.8M122.1,130.7 117.4,128.8 111.1,127.5 105.3,126 99.8,122.9 93.8,120.5 89.1,117.8 84.5,115.9 78.5,114.3 74.1,112.5 69.4,112.3 64.9,111.6 60.1,112 55.5,110.9 49.3,108.9 43.7,106.7 38,105.6 31.2,104 28,102.1 22.5,101.9 21.5,100.9M125.1,132.5 122.1,128.9 118.6,124.2 115.3,120.3 109.8,117.4 104.8,115.5 99.3,113.3 93.6,111.8 89.5,110.6 83.3,108.3 79,106.2 74.2,105.1 68.7,102.3 64.6,102.1 58.8,99.4 53.8,98 48.1,96.5 43.2,94.9 37.2,95.2 32,94.1 32.2,93.6M114.4,137.8 110,134.2 105.1,131.2 101,127 95.8,127.4 91.2,126 85.4,124.7 81,122.8 76.8,120.7 71.6,118.5 68,115.4 61,113.8 54.8,111.5 50.1,109.9 46.4,109.1 40.6,107.1 35.1,105 29.9,103.6 26.3,102.1 21.8,100.1 21.7,100.5M127.4,135.5 124.2,132.5 120.2,129.1 116.5,126.3 112.7,123.3 107.9,121.9 103.1,121.6 96.4,120.3 92,119.4 86.6,116.8 81.6,114.7 75.5,111.7 70.3,109 65.2,108 61.1,106.4 55.5,103.5 50.4,101.6 45.3,99.3 40,97.5 34.5,96.4 28.9,96 24.7,94.8M126.5,140.8 123.8,137.5 118.7,132.7 116.7,128.9 109.8,125.1 105.8,125.5 99.6,124.8 95.1,123.4 90.6,120.2 86.9,116.5 83.2,112.2 78.6,108.5 74.8,106 70.1,102.6 64.7,100.6 58.3,99.3 53.6,98.5 47.3,97.6 42,94 37.2,89.4 34.6,85.4 33.3,85.2M65.3,108.7 59.9,105.9 56.3,104.4 51.7,103 46.6,102.2 43.8,100.4 39.1,97.2 34.6,97.2 28.9,97.6 24.7,96 20.5,96.2 15.9,97.7M79.3,114.7 76,110.6 71.6,107.2 68,104.8 63.4,101.5 62.1,95.8 59.4,94.7 55.2,93.8 52.7,89.2 48.5,87 45.1,84.8 43.1,84.8M91.3,117.7 88,114.3 84.6,111.5 80.1,108.7 75.6,110.5 70.7,110.3 66.3,110.1 62,107.4 57.8,104.3 52.8,102.9 47.3,100 44.1,99.4 39.7,96 38.1,95.9M68.3,100.7 64.2,96.7 60.6,93.8 56.6,95.9 54.2,98.3 51.6,94.5 48.5,93.6 43.5,91.7 42.3,89.8M98.3,102.7 93.4,101.1 87.3,99.1 84,96.5 79.6,94.4 74.9,93.9 69.7,94 64.8,95.8 59.9,95 55.3,95.9 50.8,96.5 45.7,95.3 40.5,96.3 37.2,96.8M120.4,98.2 116.9,96.8 111,93.8 106.8,91.6 100.6,88.5 97.6,87.4 91.8,85.2 87.1,83 82.6,81.9 76.8,78.5 72.6,76 66.8,74.2 63.4,72.7 58.2,69.5 55.1,66.7 51.1,62.9 50.1,62M155.6,124 153.5,119.6 150.1,115.9 146,111.9 142,109.6 137.8,108.4 131.4,107.6 127.2,106.7 122.8,105 116.7,103.6 112.7,100.8 106.4,99.9 102.4,97.9 96.3,97.3 92,95.1 87.3,93.6 82.3,91.5 76,89.8 70.1,88.4 64,87.4 57.8,87.2 53.8,86.7 47.5,86.6 41.6,88.1 37.5,89.2 31.3,91.1 26.2,92.7 22,94 18.3,94.7M83.3,108.7 78.4,105.7 74.2,103.9 69.6,102 64.8,99.7 59.9,96.2 55,95 50.4,92.3 48.6,88.4 47.1,83.5 47.5,79.1 46.5,74.1 46.2,70.5M103.3,106.7 97.7,105.7 92.4,103.4 86.8,103.9 81.5,101.4 75.9,99.9 70.6,98.5 65.7,97.4 60.8,95.6 55.6,95.2 51.1,94.6 45.2,94 40.1,93.7 34.7,93.5 30.3,92.8 24.6,92.9 19.3,93.9 14.9,95.1 14.3,94.7M106.5,97.3 102.2,95.1 97,93.2 93.6,91.7 89.4,89.9 84.7,86.5 79.9,84.1 75.9,81.7 70.6,78.9 66.1,77.1 62.2,74.6 56.2,70.4 52.8,68.1 53.3,68" fill="none" stroke="#0a0a0a" stroke-width="0.95" stroke-linejoin="round" stroke-linecap="round"/><g fill="#f00"><circle cx="80.1" cy="99.8" r="1.4"/><circle cx="106.5" cy="97.3" r="1.4"/><circle cx="121.5" cy="98.5" r="1.4"/><circle cx="105.1" cy="102.6" r="1.4"/><circle cx="104.2" cy="105.7" r="1.4"/><circle cx="115.4" cy="105.7" r="1.4"/><circle cx="57.8" cy="105.7" r="1.4"/><circle cx="72.1" cy="103.9" r="1.4"/><circle cx="73.8" cy="105.7" r="1.4"/><circle cx="86.3" cy="105.7" r="1.4"/><circle cx="93.5" cy="105.7" r="1.4"/><circle cx="60.4" cy="111.9" r="1.4"/><circle cx="77.4" cy="111" r="1.4"/><circle cx="85.4" cy="108.3" r="1.4"/><circle cx="92.6" cy="109.8" r="1.4"/><circle cx="96.2" cy="111.9" r="1.4"/><circle cx="97.1" cy="113.7" r="1.4"/><circle cx="70.8" cy="114.6" r="1.4"/><circle cx="60.4" cy="119.1" r="1.4"/><circle cx="72.1" cy="118.7" r="1.4"/><circle cx="73.8" cy="117.6" r="1.4"/><circle cx="81.9" cy="117.6" r="1.4"/><circle cx="87.2" cy="120.5" r="1.4"/><circle cx="102.4" cy="120" r="1.4"/><circle cx="110.1" cy="117.6" r="1.4"/><circle cx="69.4" cy="121.7" r="1.4"/><circle cx="75.6" cy="124.4" r="1.4"/><circle cx="76.5" cy="123.5" r="1.4"/><circle cx="83.7" cy="124.1" r="1.4"/><circle cx="84.6" cy="125.3" r="1.4"/><circle cx="92.6" cy="124.1" r="1.4"/><circle cx="95.3" cy="122.7" r="1.4"/><circle cx="110.4" cy="126.2" r="1.4"/><circle cx="108.7" cy="128.3" r="1.4"/><circle cx="103.7" cy="129.8" r="1.4"/><circle cx="81.9" cy="129.4" r="1.4"/><circle cx="83.3" cy="134.2" r="1.4"/><circle cx="122.1" cy="130.7" r="1.4"/><circle cx="125.1" cy="132.5" r="1.4"/><circle cx="114.4" cy="137.8" r="1.4"/><circle cx="127.4" cy="135.5" r="1.4"/><circle cx="126.5" cy="140.8" r="1.4"/><circle cx="65.3" cy="108.7" r="1.4"/><circle cx="79.3" cy="114.7" r="1.4"/><circle cx="91.3" cy="117.7" r="1.4"/><circle cx="68.3" cy="100.7" r="1.4"/><circle cx="98.3" cy="102.7" r="1.4"/><circle cx="120.4" cy="98.2" r="1.4"/><circle cx="155.6" cy="124" r="1.4"/><circle cx="83.3" cy="108.7" r="1.4"/><circle cx="103.3" cy="106.7" r="1.4"/><circle cx="106.5" cy="97.3" r="1.4"/></g><text transform="translate(6.3,15.4) scale(1.03,1)" class="tt" xml:space="preserve">e.northwest shift</text><text transform="translate(6.3,27.6) scale(1.03,1)" class="tt">N:51</text><rect x="0" y="0" width="13.9" height="1.6" fill="#000"/><rect x="13.9" y="0" width="13.9" height="1.6" fill="#d6d6d6"/><rect x="27.8" y="0" width="13.9" height="1.6" fill="#000"/><rect x="41.8" y="0" width="13.9" height="1.6" fill="#d6d6d6"/><rect x="55.7" y="0" width="13.9" height="1.6" fill="#000"/><rect x="69.6" y="0" width="13.9" height="1.6" fill="#d6d6d6"/><rect x="83.5" y="0" width="13.9" height="1.6" fill="#000"/><rect x="97.5" y="0" width="13.9" height="1.6" fill="#d6d6d6"/><rect x="111.4" y="0" width="13.9" height="1.6" fill="#000"/><rect x="125.3" y="0" width="13.9" height="1.6" fill="#d6d6d6"/><rect x="139.2" y="0" width="13.9" height="1.6" fill="#000"/><rect x="153.2" y="0" width="13.9" height="1.6" fill="#d6d6d6"/><rect x="167.1" y="0" width="13.9" height="1.6" fill="#000"/><rect x="181" y="0" width="13.9" height="1.6" fill="#d6d6d6"/><rect x="194.9" y="0" width="4" height="1.6" fill="#000"/><rect x="0" y="158.8" width="13.9" height="1.6" fill="#d6d6d6"/><rect x="13.9" y="158.8" width="13.9" height="1.6" fill="#000"/><rect x="27.8" y="158.8" width="13.9" height="1.6" fill="#d6d6d6"/><rect x="41.8" y="158.8" width="13.9" height="1.6" fill="#000"/><rect x="55.7" y="158.8" width="13.9" height="1.6" fill="#d6d6d6"/><rect x="69.6" y="158.8" width="13.9" height="1.6" fill="#000"/><rect x="83.5" y="158.8" width="13.9" height="1.6" fill="#d6d6d6"/><rect x="97.5" y="158.8" width="13.9" height="1.6" fill="#000"/><rect x="111.4" y="158.8" width="13.9" height="1.6" fill="#d6d6d6"/><rect x="125.3" y="158.8" width="13.9" height="1.6" fill="#000"/><rect x="139.2" y="158.8" width="13.9" height="1.6" fill="#d6d6d6"/><rect x="153.2" y="158.8" width="13.9" height="1.6" fill="#000"/><rect x="167.1" y="158.8" width="13.9" height="1.6" fill="#d6d6d6"/><rect x="181" y="158.8" width="13.9" height="1.6" fill="#000"/><rect x="194.9" y="158.8" width="4" height="1.6" fill="#d6d6d6"/><rect x="0" y="0" width="1.6" height="16" fill="#d6d6d6"/><rect x="197.3" y="0" width="1.6" height="16" fill="#000"/><rect x="0" y="16" width="1.6" height="16" fill="#000"/><rect x="197.3" y="16" width="1.6" height="16" fill="#d6d6d6"/><rect x="0" y="32.1" width="1.6" height="16" fill="#d6d6d6"/><rect x="197.3" y="32.1" width="1.6" height="16" fill="#000"/><rect x="0" y="48.1" width="1.6" height="16" fill="#000"/><rect x="197.3" y="48.1" width="1.6" height="16" fill="#d6d6d6"/><rect x="0" y="64.2" width="1.6" height="16" fill="#d6d6d6"/><rect x="197.3" y="64.2" width="1.6" height="16" fill="#000"/><rect x="0" y="80.2" width="1.6" height="16" fill="#000"/><rect x="197.3" y="80.2" width="1.6" height="16" fill="#d6d6d6"/><rect x="0" y="96.2" width="1.6" height="16" fill="#d6d6d6"/><rect x="197.3" y="96.2" width="1.6" height="16" fill="#000"/><rect x="0" y="112.3" width="1.6" height="16" fill="#000"/><rect x="197.3" y="112.3" width="1.6" height="16" fill="#d6d6d6"/><rect x="0" y="128.3" width="1.6" height="16" fill="#d6d6d6"/><rect x="197.3" y="128.3" width="1.6" height="16" fill="#000"/><rect x="0" y="144.4" width="1.6" height="16" fill="#000"/><rect x="197.3" y="144.4" width="1.6" height="16" fill="#d6d6d6"/></svg><line x1="13.9" y1="160.4" x2="13.9" y2="162.9" stroke="#222" stroke-width="0.8"/><text x="-2.1" y="169.3" class="lb">100.00<tspan class="dg" dy="-5.4">o</tspan><tspan dy="5.4">E</tspan></text><line x1="69.6" y1="160.4" x2="69.6" y2="162.9" stroke="#222" stroke-width="0.8"/><text x="53.6" y="169.3" class="lb">128.00<tspan class="dg" dy="-5.4">o</tspan><tspan dy="5.4">E</tspan></text><line x1="125.3" y1="160.4" x2="125.3" y2="162.9" stroke="#222" stroke-width="0.8"/><text x="109.3" y="169.3" class="lb">156.00<tspan class="dg" dy="-5.4">o</tspan><tspan dy="5.4">E</tspan></text><line x1="181" y1="160.4" x2="181" y2="162.9" stroke="#222" stroke-width="0.8"/><text x="165" y="169.3" class="lb">176.00<tspan class="dg" dy="-5.4">o</tspan><tspan dy="5.4">W</tspan></text><line x1="-2.3" y1="16" x2="0" y2="16" stroke="#222" stroke-width="0.8"/><text transform="translate(-3.2,14) rotate(-90)" class="lb" text-anchor="middle">58.00<tspan class="dg" dy="-5.4">o</tspan><tspan dy="5.4">N</tspan></text><line x1="-2.3" y1="80.2" x2="0" y2="80.2" stroke="#222" stroke-width="0.8"/><text transform="translate(-3.2,78.2) rotate(-90)" class="lb" text-anchor="middle">30.00<tspan class="dg" dy="-5.4">o</tspan><tspan dy="5.4">N</tspan></text><line x1="-2.3" y1="144.4" x2="0" y2="144.4" stroke="#222" stroke-width="0.8"/><text transform="translate(-3.2,142.4) rotate(-90)" class="lb" text-anchor="middle">2.00<tspan class="dg" dy="-5.4">o</tspan><tspan dy="5.4">N</tspan></text></g><g transform="translate(240.0,371.5)"><svg x="0" y="0" width="198.7" height="161.1" viewBox="0 0 198.7 161.1" overflow="hidden"><rect width="198.7" height="161.1" fill="#fff"/><path d="M0,0 0,102.9 1.2,104.9 2.6,107.2 3,109.8 2.6,112.8 3.6,113.2 5,113.2 6.4,111.8 7.7,110.7 9.1,111.8 9.5,114.6 10.3,118.3 11.1,122 10.9,125.4 10.5,130.7 11.7,131.6 13.5,134.4 14.5,137.2 15.5,140.4 16.5,142.7 18.5,144.8 20.9,146.6 22.5,146.1 21.1,143.1 20.5,140.6 20.7,138.5 18.5,135.6 16.5,133.7 14.9,133 13.9,130.3 13.7,128.4 12.3,125.9 13.1,122.4 13.8,120.6 13.9,118.8 14.9,118.5 15.9,120.4 18.5,121.5 19.7,123.8 20.9,125.2 22.9,125.7 23.4,129.8 24.2,129.6 26.4,127.7 28,125.8 29.8,124.7 31.6,123.6 32.2,121.5 32.7,119.9 32.4,117.8 31.6,114.6 30.2,112.7 28.2,110.7 27,108.6 25.4,106.6 25.8,104 27,102.6 28.2,101.3 29.8,100.1 32,100.1 33.2,100.3 33.6,102.9 34.4,102.9 34.8,100.8 36.2,100.1 38.2,99.4 40.7,98.5 42.1,98.3 43.7,97.4 47.1,96 48.7,94.6 49.9,93.2 51.7,91.6 52.7,89.8 53.6,88.1 55,85.6 56.6,83.8 57.4,80.8 55.6,79.9 57.4,78.2 57.2,76.6 55.4,74.6 54.4,71.3 52.5,69.7 54.2,67 55.6,65.4 58,64.7 58.8,63.5 56.6,63.3 55,62.6 52.7,64 52.1,62.6 50.1,61 49.1,59.8 50.7,59.4 52.7,58 54.6,56.6 56,55.5 58,55.7 57.4,57.5 56.6,58.7 56,60.3 58.2,59.1 60.6,58 62.2,57.8 63.6,58.5 64.2,60.5 63,61.9 65.6,62.8 66.8,63.4 66.6,65.6 66.8,67.2 66.2,69 66.2,70.4 68.6,70 70.5,69.3 71.5,68.8 72.3,67.9 72.5,66.7 72.3,64.4 70.7,61.7 68.6,59.1 68.8,58 70.9,56.8 72.9,55.7 73.1,53.4 74.9,52.2 77.3,50.4 78.5,51.1 79.3,51.1 81.3,50.9 83.7,49 86.6,46.3 89.2,43.3 90.6,40.7 94,36.8 94.4,33.4 95,31.1 96,28.8 95.8,27.8 96.6,26.9 93.4,25.3 90.8,25.3 88.4,25.3 87.4,24.2 84.1,23.7 87.4,21.9 89.8,19.6 94.4,15.6 97.4,13.8 99.7,12.9 105.3,13.1 109.3,13.1 114.8,12.4 118.2,13.3 121.6,13.6 122.2,12.4 124.2,10.8 128.2,7.4 132.1,7.4 134.1,9.2 136.1,8.1 140.1,5.8 139.1,7.4 138.1,9.2 135.1,11 132.7,13.6 129.2,16.1 126.6,18.4 125.2,21.2 124.4,24.2 124.8,27.6 125.6,29.9 126.6,32.5 128.2,31.1 130.3,27.8 132.7,26.5 133.1,25.1 136.9,23.5 135.9,21.9 139.7,20.5 137.9,19.6 139.5,16.6 138.1,15.9 140.1,14.3 142.1,12.4 144.1,11.5 147,10.8 153.6,11.7 157,10.1 161.9,7.4 166.9,5.5 171.1,6.2 171.9,4.6 169.9,2.3 167.9,0.7 169.9,0.9 172.5,0ZM177.8,0 182,0.5 184.8,0.9 188,1.4 189.2,0.7 190,0ZM97.4,43.7 97.2,41.4 97.4,39.1 97.6,35.7 97.8,32.2 96.8,29.2 97,26.5 98,24.6 98.8,24.4 99.7,27.2 99.7,29.9 100.3,32.2 101.3,35.7 102.7,37.7 99.5,36.4 99,40.3 100.3,42.6 100.1,43.7 98.8,42.3ZM97.2,44.9 98.4,46 100.3,47.9 103.9,47.6 103.5,49.3 104.9,49.7 102.1,50.6 99.7,53.2 97.8,52 96.6,51.6 95.4,52.2 94.8,53.4 93.8,54.3 93.4,52.9 93,51.8 94.2,49.9 96,50.2 96.6,47.6 96.8,46ZM95.2,54.1 96.2,54.3 96.4,56.4 97.4,58.5 96.4,61.4 95.4,61.7 95.4,64.4 94.8,66.1 95.2,67.4 93.2,69.3 93,67.9 92.6,68.6 91,70 89.8,70 87.4,70 86.6,69.7 87,70.7 85,72.7 83.7,71.3 84.2,70 83.9,69.7 81.5,70 78.5,70.7 75.3,71.5 76.5,70.2 78.5,68.6 78.9,67.9 81.5,67.8 84.1,67.4 85,67.9 85.6,67.4 86.6,65.6 88,63.3 87.4,64.9 89.4,64.4 91.4,62.4 92.6,60.8 93.2,58.2 93.4,56.4 94,54.8 94.8,55.5ZM77.5,73 79.3,74.3 81.9,73.1 82.7,71.8 82.1,70.7 80.5,70.4 79.3,71.1 78.3,71.8ZM75.3,71.6 76.5,73 76.9,74.8 76.3,76.2 74.8,78.2 74.5,76.9 73.9,77.6 73.9,75.7 73.1,74.3 72.5,73 74.3,72.3ZM56.6,91.4 57.6,92.1 57.2,94.4 56.4,96.7 55.3,99.2 54.2,97.8 53.8,96.7 54,94.4 55,93 55.6,91.8ZM31,105.4 32.4,107.5 32.8,107.7 34.8,106.3 35.8,104.5 35.2,103.3 34.4,103.4 32.4,103.8 31.2,104.7ZM54.8,107 55.6,106.8 58,107 58.4,110 57.8,112.3 56.8,113.2 57,115.8 57.6,117.1 59,116.7 60,118.1 61.8,119.7 61.6,120.8 60.2,119.7 58.6,118.3 57.2,117.6 55.6,118.1 54.8,116.9 55.4,116 54.4,116.2 53.6,115.1 53.6,112.3 54.4,111.4 54.4,109.3ZM54.2,118.5 56.6,119.2 56,121.5 54.6,121.1ZM57.6,122.4 59.4,123.1 58.8,125.4 57.6,125.4 57.4,123.4ZM59.6,124.5 60.6,125.4 60,128.6 58.8,127.7 58.4,125.4ZM61.4,123.8 61.8,125.7 60.4,127.5 60.8,125.4ZM61.6,126.3 62.8,127 61.4,127.5ZM62.2,120.6 64.6,121.5 65,124.3 63.6,123.8 64,126.6 63.2,126.6 62.2,123.1ZM52.3,123.4 53.3,125.4 51.3,127 48.3,130.3 47.9,130 49.7,127.7 51.9,125.2ZM57.6,133.7 58,131.6 60.2,131.2 61.2,129.6 63,130 64.6,127 66,128.4 66.8,132.8 66,135.1 64.8,133.5 64.4,136.7 64,136 61.6,135.1 62,133 60.6,131.9 58.6,132.3ZM47.7,133.5 49.9,136.2 52.3,137.9 50.3,139.7 49.1,139.9 49.5,142.7 49.7,145 51.5,147.3 49.5,147.8 48.7,149.6 47.7,151.9 46.7,155.3 46.1,158.3 45.7,158.8 42.9,158.3 39.7,157 37.2,156.5 34.4,156.3 33.8,153.7 32.2,150.7 32.4,149.6 31.6,147.3 33,144.8 34.4,145.9 36.4,144.5 36.8,143.6 39.7,142.2 41.7,139.5 43.7,138.1 44.7,136.9 45.9,135.8 47.3,133.7ZM4.6,136.7 8.9,137.6 11.3,140.8 14.7,144.5 16.9,145.9 19.9,148.4 21.5,151.9 22.9,154.2 25.4,156.5 25.6,161.6 22.3,161.6 18.5,158.3 14.6,151.8 11.9,145.5 11.5,145.7 6.2,140.2ZM64,145.9 62.4,148.7 59.6,148.7 56.6,148.4 54.8,148.4 54,147.5 55.2,146.8 54,149.6 53.3,151.4 52.3,153 51.3,155.6 52.5,157.6 52.9,159.9 52.5,161.6 54.4,161.6 54.4,157.6 54.8,156.3 56.2,158.8 56.6,160.4 59.2,161.6 59.8,159.3 58,157 56.2,154 58.6,151.9 60.6,151.7 57,151.7 54.2,152.6 54.4,150.7 56.6,148.9 60.6,147.8 62.8,146.8ZM69.5,144.5 70.7,146.1 69.9,147.1 71.1,148.2 69.5,148.9 71.3,150.3 69.9,151.4 68.8,149.6 69.1,147.3ZM69.5,156 75.1,156.5 75.1,158.3 70.5,157.6ZM65.6,156.7 68,157 67.4,158.6 65.8,158.1ZM75.5,152.4 77.5,150.5 79.5,151.2 81.7,151.7 82.1,154.2 83.5,157.2 84.4,157.4 86.2,154.7 87.8,153.3 89.8,153.5 93,155.1 94.8,155.3 97.2,156.3 100.3,157.6 102.3,158.6 104.3,159.9 105.1,161.6 84.4,161.6 81.5,158.8 79.5,158.8 77.9,156.3 77.5,155.1 79.5,154.9 80.5,155.1 78.5,153 76.1,153ZM114.3,155.3 117.2,157.2 119.2,160.2 118.6,161.6 116.8,159.5 114.8,156.5ZM109.7,161.6 112.3,161.1 113.7,161.6 116.2,159.3 117.8,159.5 117.8,161.6ZM68.8,89.5 70.1,87.9 69.5,87.7 68.9,88.6ZM71.9,84.9 72.9,84 72.3,84ZM144.5,22.3 146.2,23.7 145.2,22.3ZM189.8,3.7 193.7,4.1 195.3,4.6 192.7,4.8 190.4,4.4ZM104.3,49 106.5,47.4 105.3,47.9ZM107.1,46.5 111.1,44.9 109.3,45.6ZM112.3,44.2 114.3,43.3 113.3,44ZM116.2,41.9 117.8,41 117,41.4ZM119.2,39.1 121.8,37.5 120.2,38.2ZM122.4,36.1 126.2,32.7 124.4,34.5ZM158,27.8 160,27.8 159.4,28.1ZM167.5,30.1 168.5,29.7 168.1,30.1ZM175.8,30.1 180.8,30.4 178.8,30.8ZM181.8,29.5 185.2,29.9 183.8,30.1ZM189.8,28.1 193.7,27.6 191.7,28.3ZM194.7,26.5 199.7,26.2 196.7,27.4Z" fill="#cbcbcb"/><path d="M13.9,0V161.1M69.5,0V161.1M125.2,0V161.1M180.8,0V161.1M0,16.1H198.7M0,80.6H198.7M0,145H198.7" stroke="#000" stroke-opacity="0.1" stroke-width="1" fill="none"/><path d="M78.7,107.9 72.8,108.6 68.1,108.8 64.2,110.3 58.2,112.9 53.7,114.2 48.8,115.2 44.2,115.9 39,117.1 34.2,118.1 29.2,119.8 24.7,120.2 21.2,125.2 20.6,125.6M92.8,107.4 87.7,107.1 82,106.2 77.1,109.5 72.5,111.3 67.3,111.2 63,111.2 56.9,112 52,113.3 47.4,114.5 40.8,114.1 35.8,114.8 30.2,115.9 26.8,116.9 24.5,117.3M74.1,116.1 68.6,115.3 65.1,114.5 58.9,115.6 54.3,116.2 49.1,115.8 44,116 39,115.2 34.1,115.3 29.1,115.6 23.4,115.8 20.4,115.5M77.6,116.8 72.1,116 67.6,116.2 62.6,113.5 57.7,113.6 52.3,112.2 47.2,112 42.3,112.3 35.4,112.7 31.3,110.7 25.7,109 21.9,107.9 16.8,107.8 16.7,107.4M78.7,115.6 73.6,116.6 68,115.9 64.2,115.5 58.3,116.5 53.4,116.5 48.1,115.8 44.1,115 38.5,114.3 35.7,114.3 29.8,116.1 25.3,116.1 21,117.3 15.9,117.5 15,117M82.3,113.7 77.5,112.3 73.1,111.5 68.4,111.1 63.6,109.8 58.2,106.4 54.1,105.3 48.9,105.2 44,105.6 39.9,106.7 34.9,108.5 29.7,109.5 25.3,108.7 24.2,108.4M70.5,120.8 65.9,120 60.6,118.4 55.4,117.9 51.5,119 46.7,116.4 41.6,114.8 35.3,116.2 31.4,116.9 27.4,114.1 25.1,114.3M72.9,121.9 66.9,121.2 62.1,118.8 58.2,117.4 53.5,114.7 48.1,115.5 44.1,113.8 40,112.4 35.1,110.5 30.9,112.2 25.3,109.6 21.4,109 20.9,108.6M90.5,120.8 85.1,119.3 79.4,119.3 74.6,117.9 70.7,115.4 65,113 61,113.2 56.4,113.1 51.4,111.8 46.9,112.1 42,111.6 37.9,108.5 33,109.8 27.6,109.2 22.2,108.8 19.4,108.6M97.5,120.1 92.7,117.5 87.4,114.2 83.2,113.1 79.5,111.5 73.8,110 67.8,109.6 63.1,107.5 58.3,107.9 53.9,105.8 49.1,105.1 43.2,103.3 38.1,105 32,103.8 26.6,103.2 22.4,102.3 17.2,101.6 17.2,100.9M96.3,120.8 90.5,119.3 86.7,118.5 80.6,118.6 76.8,120.4 71.3,121.8 65.9,122.4 61.5,121.2 55.9,121.6 51.7,122.4 47.4,123.5 41.9,124.6 37.8,127.5 32,128.3 27.8,129.5 26,130.4M115.5,117.2 109.2,117.4 102,117.6 97.3,116.8 92.1,115.9 87.6,113.5 82.9,112.6 78,111.7 73.4,111.6 69.6,111.8 63,112.1 59.4,110.9 53.6,110.7 47.5,111 41.4,111.4 34.7,111.6 29.6,113.1 23,113.5 19.1,114.3 16.5,114.7M118.1,121.9 113.2,121.4 108,118.6 102.3,117.2 97.1,116.1 91.8,114.2 85.4,112.5 80.6,111.8 74.5,111.1 69.7,110.5 63.8,109.4 59,107.9 54,107.3 49.1,105.8 43.7,105.8 38.4,103.9 33.6,103 26.9,103.9 20.6,103.6 16.5,103.3M71.7,126.6 68.2,123.1 63.7,119.4 58.5,119.1 53.1,117.1 48.8,116.5 43.8,115.1 38.5,112.1 35.9,110.8 31.5,109.8 26.7,108.6 22.5,109.5 18.7,109.4M72.9,127.8 67.8,125.4 62.5,124.9 58.7,124.2 52.1,124.6 48.1,121.4 44.7,119.1 39,118.6 33,118.4 28.2,120.1 23.2,119.8 17.5,119.1 14.1,119.5M82.3,125.5 78.2,123 72.2,122.5 67.6,122.2 62.4,122.1 57.6,121 53.5,120.3 47.8,120.1 45,120 37.5,118.1 33.5,118.3 28.4,119.2 26.7,119.3M83.4,128.5 79.2,126.6 74.7,124.2 70.8,120.1 65.5,117.3 62,114 56.9,111.8 52.6,110.4 48.4,107.5 43,106.8 38.5,104.5 32.3,102.8 27,101.8 26.9,101.6M78.7,130.1 74.3,127.5 69.5,124.8 65.9,121.7 61.5,119.9 57.3,116.4 51.7,116.7 46.6,113.3 41.6,111.1 37,108.8 32.1,107.1 27.6,105.7 23.6,104 18.6,102.2 17.9,102.3M81.1,130.8 75.7,129.6 69.9,128.5 65.7,126 62.9,122.2 57.7,121.6 51.9,121.1 46.6,121.8 41.6,122.6 36.1,122.8 32.1,121.7 26.2,121.9 22,122.4 19.2,122.5M88.1,129 84.3,126.4 78.5,125.1 73.8,123.3 69.3,121.6 64.8,119.4 59.6,117.1 55.8,116 50.5,115.3 45.4,115 41,111.9 38.2,108.7 32.6,106.5 26.8,103.5 24.5,103.1M95.2,130.1 90.9,130.1 85.2,130.3 80.7,128.6 75.5,127.5 71.2,125.8 65.3,126.4 60.6,127.1 56.9,128.5 51.4,128.2 46.2,126.8 42.7,124.6 36.9,124.1 31.6,122.7 26.2,122.4 20.9,121.1 16.4,120.5 15.2,120.8M103.4,127.8 97.5,127.4 93.7,124.7 88.8,124.7 84.7,123.8 78.9,122.2 75.1,121.7 68.6,121 63.7,119.5 57.7,119 52.8,117.7 46.6,115.5 41.2,114.9 36,114.2 31.6,113.4 26,113.9 20.3,112.1 16.6,112M108,127.1 103.1,127.5 97.2,125.2 93.6,124.4 87.6,122 83.9,119.6 78.4,119.4 72.6,117.4 66.9,118 61.3,117.7 57,117.3 52.2,116.9 46,116.2 42.2,115.2 36.3,112.9 31.1,112.6 25.1,112.6 22.8,112.8M103.4,133.2 98.5,132.1 94,130.6 88.8,130.5 84.4,128.7 79.1,128.4 74.7,126 69.3,126.4 63.6,125.6 58.4,125.3 53.1,121.5 48.2,121.5 42.2,120.1 38.2,119.4 32.7,118.3 27,118.2 22.8,117.3 16.7,116.6 16.2,116.6M102.2,135.5 96.7,133.1 92.3,130.4 87.3,126.7 83.1,124.5 77.7,122 73.2,120.3 68.7,119.3 65,117.5 59.6,115.3 54.3,114.7 49.5,113.1 44.8,112.2 40,111.8 34.2,110.3 27.9,108.7 26.4,108.7M116.2,135.5 110.1,134.9 104.7,134 99.1,132.6 93.7,130 90.3,127.8 85.6,124.9 80.3,122.8 74.7,121 68.8,119.6 63.8,119.1 58.5,119.4 53.3,119 47.7,120.2 44.1,119.4 39.6,119.2 34.4,118 29.8,116.5 24.3,114.4 22.8,113.6M126.8,131.3 120.1,130.8 114.7,130.9 109.4,129.9 104,130.1 99.1,128.8 93.8,128.9 88.1,127.2 81.4,125.7 75,124.4 70.2,122.9 63.6,122.7 59,121.9 52.2,121.9 48.8,120.1 44.1,122.4 39.8,121.3 32.7,121 27.4,122 20.9,121.6 17.4,122.6M133.1,133.7 128.7,132.1 124.9,131.5 119.3,129.8 114.9,127.6 109.2,126.1 103.4,122.8 98.5,120.2 93.3,118.2 87.4,115.6 80.9,114 75.1,111.7 69.2,109.7 61.5,108.6 56,108.2 49.7,106.6 43.6,105.9 37.9,105.8 33.2,104.1 27.5,103.2 23,102.1 16.7,101 14,100.7M125.2,143 120.2,139.8 115.4,136.7 110.3,135 103.6,133.1 97.9,132.4 92.4,133.1 87,130.5 82,127.4 77.8,124.9 71.9,122.2 66.9,119.4 62.5,117.4 57.7,114.3 52.2,112.5 46.2,109.9 41.5,108.9 35.3,105.2 29.9,103.2 25.7,102M109.2,144.9 104.7,142.1 99.3,141.3 94.5,138 89.7,136.6 83.1,136.5 79.7,135.1 74.1,134 69.3,133.1 64.9,131.7 58.6,129.2 53.6,128.4 49,127.8 44,128.6 39.1,128.9 34.3,129.3 30.5,128.2 25.8,126.3 24.4,125.8M159.6,139.5 154,138 149.8,137.9 143.7,136.8 138.7,135.6 133.3,133.7 128,133.8 123.8,133.3 118.8,132.4 113.9,132.5 108,131.5 104,130.6 98.3,130.3 94.6,129.5 89.6,129.5 85.1,128.4 81.4,128.7 75.6,127.2 71,127.5 67.2,126.8 60.2,126.2 53.8,126.7 46.4,125.6 42.8,125.8 37.1,125.2 30.3,124.3 25.7,124.3 20.6,124 17.6,123.8M69.4,131.3 64.6,131 59.9,131.6 54.3,131.6 49.8,131.8 44,130.6 40.7,129.1 35.4,128.2 30.6,128.5 27.2,130.2 20.8,130.9 17.3,129.9M70.5,117.2 65.4,118 60.1,119.2 56,118.8 50.9,119.7 46.9,122.3 42.1,121.8 37.8,122 33.3,123.6 28.2,123.3 26.9,123.1M66,113.5 60.1,114.3 56.2,114.5 51.8,116.6 46.6,116.5 41.5,115.3 37.7,116.9 32.8,118.6 28,119.9 22.1,120.6 19.4,121.7 18.5,122.2M64,123.5 58.6,123.2 54.5,122.4 50,121.3 45.6,120.4 40.6,119.7 35.3,118.7 30,117.9 25.8,118.1 20.7,118.2 15.4,118.2 15.4,118.1M75,110.5 70.6,111.7 65.1,112.7 62.1,112.3 56,112.7 51.2,111.8 45.5,111.2 40.4,112.3 37.1,114 31.3,114.2 26.6,113.4 21.7,114.5 16.1,114.9 15.2,116.7M86,117.5 81.2,117.4 77.4,115.8 71.3,114.5 66.4,111.1 60.8,111.1 56.5,111.2 51.9,108.3 48.6,105.6 43.6,104.4 39.2,104.6 33.6,104.7 29.3,102.7 26.9,102M89,124.5 83.6,123.3 78.4,122.2 73.2,120.7 68.4,118.9 63,117.6 57.1,118.6 51.5,118.5 47.1,117.4 41.5,117.7 36.4,117.2 30.6,117.2 24.8,115.3 19.2,116.3 15.8,116.6M67,118.5 63.1,117 58,116.1 53.4,115.3 48.3,112.6 44.8,110.5 39.2,111.1 34.8,109.9 31.7,108.3 25.6,108.9 23.7,108.7M73,133.5 67.9,132.1 63.3,129.8 59.3,126.6 56,123.3 50.8,124.3 44.4,124.5 40.7,122.3 37.5,117.1 34.3,115.3 29.1,112.9 23.5,111.5 19.3,110.3 15.6,109M80,122.5 74.7,122 69.8,122.6 65.2,122.3 60.9,122.8 54.9,123.1 49.8,122.9 45.2,123.4 40,124.5 35.7,123.9 30.4,122.6 25.5,123.2 23,123.2M64,128.5 59.1,126 54.7,125.6 49.7,126 45.3,128.3 39.8,129.7 36.1,127.5 31,126.8 25.8,128.6 22,127 19.9,127.3M87,112.5 81.6,113.1 77.7,113.6 72.7,113.3 68.4,113 63.4,113.2 58.2,113.2 53.7,114.7 49.3,113.3 42.7,114.4 38.8,116.2 35.2,118.4 30.3,119.4 25.7,119.9 23.9,120M100,123.5 94,122.6 89.1,122.7 85.2,120.8 79.5,120.3 73.7,118.6 69.6,116.5 64.6,116.9 58.3,115.7 53.6,114 48.9,113.3 44.1,113.7 38.2,115.7 33.4,115.7 28.9,116.4 23.6,116 23.2,116.4M73,133.5 67.8,133 62.3,133.7 58,131 51.7,130.8 48.1,132 42.4,132.7 37.2,132.7 32.8,132.3 29.6,129.9 23.8,126.9 18.7,127.8 16,128.5M109.2,144.9 104.1,142.2 99,140.5 94.3,139.8 89.9,138.1 83.6,140 78.6,139.1 73.6,138.6 68.4,137.4 63.9,135.6 59.3,135 54.7,134.7 49.8,134.8 44.6,133.6 39.8,132.4 34.5,130.9 29.3,130 24.4,130.5 22,130.5M78.7,130.1 74,128.5 68.5,126.3 64.3,127.8 58.7,127.8 53.9,126.9 49.9,125.5 44.7,126.5 39.7,127.2 34.7,126.5 30.2,125.3 25.3,125 19.8,124.8 18,124.5" fill="none" stroke="#0a0a0a" stroke-width="0.95" stroke-linejoin="round" stroke-linecap="round"/><g fill="#f00"><circle cx="78.7" cy="107.9" r="1.4"/><circle cx="92.8" cy="107.4" r="1.4"/><circle cx="74.1" cy="116.1" r="1.4"/><circle cx="77.6" cy="116.8" r="1.4"/><circle cx="78.7" cy="115.6" r="1.4"/><circle cx="82.3" cy="113.7" r="1.4"/><circle cx="70.5" cy="120.8" r="1.4"/><circle cx="72.9" cy="121.9" r="1.4"/><circle cx="90.5" cy="120.8" r="1.4"/><circle cx="97.5" cy="120.1" r="1.4"/><circle cx="96.3" cy="120.8" r="1.4"/><circle cx="115.5" cy="117.2" r="1.4"/><circle cx="118.1" cy="121.9" r="1.4"/><circle cx="71.7" cy="126.6" r="1.4"/><circle cx="72.9" cy="127.8" r="1.4"/><circle cx="82.3" cy="125.5" r="1.4"/><circle cx="83.4" cy="128.5" r="1.4"/><circle cx="78.7" cy="130.1" r="1.4"/><circle cx="81.1" cy="130.8" r="1.4"/><circle cx="88.1" cy="129" r="1.4"/><circle cx="95.2" cy="130.1" r="1.4"/><circle cx="103.4" cy="127.8" r="1.4"/><circle cx="108" cy="127.1" r="1.4"/><circle cx="103.4" cy="133.2" r="1.4"/><circle cx="102.2" cy="135.5" r="1.4"/><circle cx="116.2" cy="135.5" r="1.4"/><circle cx="126.8" cy="131.3" r="1.4"/><circle cx="133.1" cy="133.7" r="1.4"/><circle cx="125.2" cy="143" r="1.4"/><circle cx="109.2" cy="144.9" r="1.4"/><circle cx="159.6" cy="139.5" r="1.4"/><circle cx="69.4" cy="131.3" r="1.4"/><circle cx="70.5" cy="117.2" r="1.4"/><circle cx="66" cy="113.5" r="1.4"/><circle cx="64" cy="123.5" r="1.4"/><circle cx="75" cy="110.5" r="1.4"/><circle cx="86" cy="117.5" r="1.4"/><circle cx="89" cy="124.5" r="1.4"/><circle cx="67" cy="118.5" r="1.4"/><circle cx="73" cy="133.5" r="1.4"/><circle cx="80" cy="122.5" r="1.4"/><circle cx="64" cy="128.5" r="1.4"/><circle cx="87" cy="112.5" r="1.4"/><circle cx="100" cy="123.5" r="1.4"/><circle cx="73" cy="133.5" r="1.4"/><circle cx="109.2" cy="144.9" r="1.4"/><circle cx="78.7" cy="130.1" r="1.4"/></g><text transform="translate(7.4,15.7) scale(1.03,1)" class="tt" xml:space="preserve">f.West  shift</text><text transform="translate(6.7,27.3) scale(1.03,1)" class="tt">N:44</text><rect x="0" y="0" width="13.9" height="1.6" fill="#000"/><rect x="13.9" y="0" width="13.9" height="1.6" fill="#d6d6d6"/><rect x="27.8" y="0" width="13.9" height="1.6" fill="#000"/><rect x="41.7" y="0" width="13.9" height="1.6" fill="#d6d6d6"/><rect x="55.6" y="0" width="13.9" height="1.6" fill="#000"/><rect x="69.5" y="0" width="13.9" height="1.6" fill="#d6d6d6"/><rect x="83.5" y="0" width="13.9" height="1.6" fill="#000"/><rect x="97.4" y="0" width="13.9" height="1.6" fill="#d6d6d6"/><rect x="111.3" y="0" width="13.9" height="1.6" fill="#000"/><rect x="125.2" y="0" width="13.9" height="1.6" fill="#d6d6d6"/><rect x="139.1" y="0" width="13.9" height="1.6" fill="#000"/><rect x="153" y="0" width="13.9" height="1.6" fill="#d6d6d6"/><rect x="166.9" y="0" width="13.9" height="1.6" fill="#000"/><rect x="180.8" y="0" width="13.9" height="1.6" fill="#d6d6d6"/><rect x="194.7" y="0" width="4" height="1.6" fill="#000"/><rect x="0" y="159.5" width="13.9" height="1.6" fill="#d6d6d6"/><rect x="13.9" y="159.5" width="13.9" height="1.6" fill="#000"/><rect x="27.8" y="159.5" width="13.9" height="1.6" fill="#d6d6d6"/><rect x="41.7" y="159.5" width="13.9" height="1.6" fill="#000"/><rect x="55.6" y="159.5" width="13.9" height="1.6" fill="#d6d6d6"/><rect x="69.5" y="159.5" width="13.9" height="1.6" fill="#000"/><rect x="83.5" y="159.5" width="13.9" height="1.6" fill="#d6d6d6"/><rect x="97.4" y="159.5" width="13.9" height="1.6" fill="#000"/><rect x="111.3" y="159.5" width="13.9" height="1.6" fill="#d6d6d6"/><rect x="125.2" y="159.5" width="13.9" height="1.6" fill="#000"/><rect x="139.1" y="159.5" width="13.9" height="1.6" fill="#d6d6d6"/><rect x="153" y="159.5" width="13.9" height="1.6" fill="#000"/><rect x="166.9" y="159.5" width="13.9" height="1.6" fill="#d6d6d6"/><rect x="180.8" y="159.5" width="13.9" height="1.6" fill="#000"/><rect x="194.7" y="159.5" width="4" height="1.6" fill="#d6d6d6"/><rect x="0" y="0" width="1.6" height="16.1" fill="#d6d6d6"/><rect x="197.1" y="0" width="1.6" height="16.1" fill="#000"/><rect x="0" y="16.1" width="1.6" height="16.1" fill="#000"/><rect x="197.1" y="16.1" width="1.6" height="16.1" fill="#d6d6d6"/><rect x="0" y="32.2" width="1.6" height="16.1" fill="#d6d6d6"/><rect x="197.1" y="32.2" width="1.6" height="16.1" fill="#000"/><rect x="0" y="48.3" width="1.6" height="16.1" fill="#000"/><rect x="197.1" y="48.3" width="1.6" height="16.1" fill="#d6d6d6"/><rect x="0" y="64.4" width="1.6" height="16.1" fill="#d6d6d6"/><rect x="197.1" y="64.4" width="1.6" height="16.1" fill="#000"/><rect x="0" y="80.6" width="1.6" height="16.1" fill="#000"/><rect x="197.1" y="80.6" width="1.6" height="16.1" fill="#d6d6d6"/><rect x="0" y="96.7" width="1.6" height="16.1" fill="#d6d6d6"/><rect x="197.1" y="96.7" width="1.6" height="16.1" fill="#000"/><rect x="0" y="112.8" width="1.6" height="16.1" fill="#000"/><rect x="197.1" y="112.8" width="1.6" height="16.1" fill="#d6d6d6"/><rect x="0" y="128.9" width="1.6" height="16.1" fill="#d6d6d6"/><rect x="197.1" y="128.9" width="1.6" height="16.1" fill="#000"/><rect x="0" y="145" width="1.6" height="16.1" fill="#000"/><rect x="197.1" y="145" width="1.6" height="16.1" fill="#d6d6d6"/></svg><line x1="13.9" y1="161.1" x2="13.9" y2="163.6" stroke="#222" stroke-width="0.8"/><text x="-2.1" y="170" class="lb">100.00<tspan class="dg" dy="-5.4">o</tspan><tspan dy="5.4">E</tspan></text><line x1="69.5" y1="161.1" x2="69.5" y2="163.6" stroke="#222" stroke-width="0.8"/><text x="53.5" y="170" class="lb">128.00<tspan class="dg" dy="-5.4">o</tspan><tspan dy="5.4">E</tspan></text><line x1="125.2" y1="161.1" x2="125.2" y2="163.6" stroke="#222" stroke-width="0.8"/><text x="109.2" y="170" class="lb">156.00<tspan class="dg" dy="-5.4">o</tspan><tspan dy="5.4">E</tspan></text><line x1="180.8" y1="161.1" x2="180.8" y2="163.6" stroke="#222" stroke-width="0.8"/><text x="164.8" y="170" class="lb">176.00<tspan class="dg" dy="-5.4">o</tspan><tspan dy="5.4">W</tspan></text><line x1="-2.3" y1="16.1" x2="0" y2="16.1" stroke="#222" stroke-width="0.8"/><text transform="translate(-3.2,14.1) rotate(-90)" class="lb" text-anchor="middle">58.00<tspan class="dg" dy="-5.4">o</tspan><tspan dy="5.4">N</tspan></text><line x1="-2.3" y1="80.6" x2="0" y2="80.6" stroke="#222" stroke-width="0.8"/><text transform="translate(-3.2,78.6) rotate(-90)" class="lb" text-anchor="middle">30.00<tspan class="dg" dy="-5.4">o</tspan><tspan dy="5.4">N</tspan></text><line x1="-2.3" y1="145" x2="0" y2="145" stroke="#222" stroke-width="0.8"/><text transform="translate(-3.2,143) rotate(-90)" class="lb" text-anchor="middle">2.00<tspan class="dg" dy="-5.4">o</tspan><tspan dy="5.4">N</tspan></text></g>
</svg>
</body></html>
